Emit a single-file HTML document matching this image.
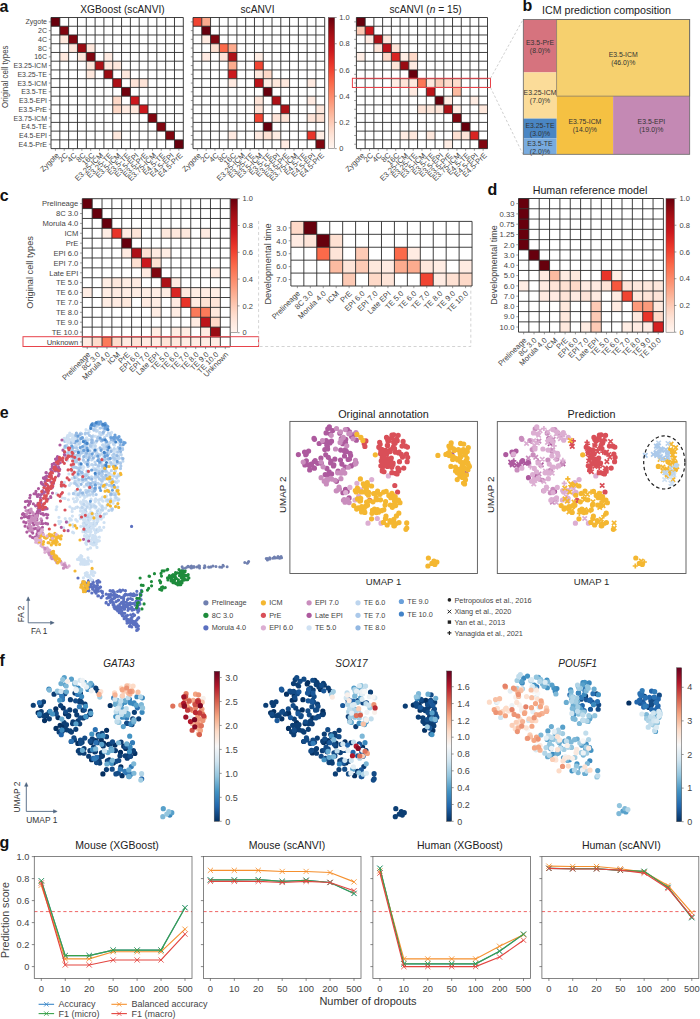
<!DOCTYPE html>
<html><head><meta charset="utf-8"><style>
html,body{margin:0;padding:0;background:#fff;}
svg{display:block;}
text{font-family:"Liberation Sans", sans-serif;}
</style></head><body>
<svg width="700" height="1019" viewBox="0 0 700 1019">
<text x="-0.5" y="11.6" font-size="16" text-anchor="start" fill="#111" font-weight="bold">a</text>
<text x="122.5" y="13.4" font-size="10.2" text-anchor="middle" fill="#222">XGBoost (scANVI)</text>
<text x="257.5" y="13.2" font-size="10.2" text-anchor="middle" fill="#222">scANVI</text>
<text x="425.6" y="13.2" font-size="10.2" text-anchor="middle" fill="#222">scANVI (<tspan font-style="italic">n</tspan> = 15)</text>
<rect x="51" y="17.5" width="132.3" height="131.1" fill="#fff"/>
<rect x="51" y="17.5" width="8.87" height="8.79" fill="#67000d"/>
<rect x="59.82" y="26.24" width="8.87" height="8.79" fill="#800610"/>
<rect x="59.82" y="34.98" width="8.87" height="8.79" fill="#fee8dd"/>
<rect x="68.64" y="34.98" width="8.87" height="8.79" fill="#800610"/>
<rect x="68.64" y="43.72" width="8.87" height="8.79" fill="#fee8dd"/>
<rect x="77.46" y="43.72" width="8.87" height="8.79" fill="#990c13"/>
<rect x="86.28" y="43.72" width="8.87" height="8.79" fill="#fee8dd"/>
<rect x="59.82" y="52.46" width="8.87" height="8.79" fill="#fee8dd"/>
<rect x="77.46" y="52.46" width="8.87" height="8.79" fill="#fee8dd"/>
<rect x="86.28" y="52.46" width="8.87" height="8.79" fill="#800610"/>
<rect x="103.92" y="52.46" width="8.87" height="8.79" fill="#ffebe2"/>
<rect x="86.28" y="61.2" width="8.87" height="8.79" fill="#fee8dd"/>
<rect x="95.1" y="61.2" width="8.87" height="8.79" fill="#ad1117"/>
<rect x="103.92" y="61.2" width="8.87" height="8.79" fill="#fee8dd"/>
<rect x="112.74" y="61.2" width="8.87" height="8.79" fill="#fee8dd"/>
<rect x="86.28" y="69.94" width="8.87" height="8.79" fill="#fee8dd"/>
<rect x="103.92" y="69.94" width="8.87" height="8.79" fill="#990c13"/>
<rect x="121.56" y="69.94" width="8.87" height="8.79" fill="#fee8dd"/>
<rect x="112.74" y="78.68" width="8.87" height="8.79" fill="#ad1117"/>
<rect x="130.38" y="78.68" width="8.87" height="8.79" fill="#fee4d8"/>
<rect x="139.2" y="78.68" width="8.87" height="8.79" fill="#fee4d8"/>
<rect x="121.56" y="87.42" width="8.87" height="8.79" fill="#71020e"/>
<rect x="112.74" y="96.16" width="8.87" height="8.79" fill="#fed9c8"/>
<rect x="130.38" y="96.16" width="8.87" height="8.79" fill="#cb181d"/>
<rect x="112.74" y="104.9" width="8.87" height="8.79" fill="#fed9c8"/>
<rect x="121.56" y="104.9" width="8.87" height="8.79" fill="#ffebe2"/>
<rect x="130.38" y="104.9" width="8.87" height="8.79" fill="#fee8dd"/>
<rect x="139.2" y="104.9" width="8.87" height="8.79" fill="#cb181d"/>
<rect x="148.02" y="113.64" width="8.87" height="8.79" fill="#800610"/>
<rect x="156.84" y="122.38" width="8.87" height="8.79" fill="#800610"/>
<rect x="112.74" y="131.12" width="8.87" height="8.79" fill="#fee8dd"/>
<rect x="165.66" y="131.12" width="8.87" height="8.79" fill="#800610"/>
<rect x="174.48" y="139.86" width="8.87" height="8.79" fill="#67000d"/>
<path d="M51 17.5V148.6M59.82 17.5V148.6M68.64 17.5V148.6M77.46 17.5V148.6M86.28 17.5V148.6M95.1 17.5V148.6M103.92 17.5V148.6M112.74 17.5V148.6M121.56 17.5V148.6M130.38 17.5V148.6M139.2 17.5V148.6M148.02 17.5V148.6M156.84 17.5V148.6M165.66 17.5V148.6M174.48 17.5V148.6M183.3 17.5V148.6M51 17.5H183.3M51 26.24H183.3M51 34.98H183.3M51 43.72H183.3M51 52.46H183.3M51 61.2H183.3M51 69.94H183.3M51 78.68H183.3M51 87.42H183.3M51 96.16H183.3M51 104.9H183.3M51 113.64H183.3M51 122.38H183.3M51 131.12H183.3M51 139.86H183.3M51 148.6H183.3" stroke="#2b2b2b" stroke-width="0.9" fill="none"/>
<path d="M51 21.87h-2.2M51 30.61h-2.2M51 39.35h-2.2M51 48.09h-2.2M51 56.83h-2.2M51 65.57h-2.2M51 74.31h-2.2M51 83.05h-2.2M51 91.79h-2.2M51 100.53h-2.2M51 109.27h-2.2M51 118.01h-2.2M51 126.75h-2.2M51 135.49h-2.2M51 144.23h-2.2M55.41 148.6v2.2M64.23 148.6v2.2M73.05 148.6v2.2M81.87 148.6v2.2M90.69 148.6v2.2M99.51 148.6v2.2M108.33 148.6v2.2M117.15 148.6v2.2M125.97 148.6v2.2M134.79 148.6v2.2M143.61 148.6v2.2M152.43 148.6v2.2M161.25 148.6v2.2M170.07 148.6v2.2M178.89 148.6v2.2" stroke="#555" stroke-width="0.6" fill="none"/>
<text x="47" y="24.39" font-size="7" text-anchor="end" fill="#444">Zygote</text>
<text x="47" y="33.13" font-size="7" text-anchor="end" fill="#444">2C</text>
<text x="47" y="41.87" font-size="7" text-anchor="end" fill="#444">4C</text>
<text x="47" y="50.61" font-size="7" text-anchor="end" fill="#444">8C</text>
<text x="47" y="59.35" font-size="7" text-anchor="end" fill="#444">16C</text>
<text x="47" y="68.09" font-size="7" text-anchor="end" fill="#444">E3.25-ICM</text>
<text x="47" y="76.83" font-size="7" text-anchor="end" fill="#444">E3.25-TE</text>
<text x="47" y="85.57" font-size="7" text-anchor="end" fill="#444">E3.5-ICM</text>
<text x="47" y="94.31" font-size="7" text-anchor="end" fill="#444">E3.5-TE</text>
<text x="47" y="103.05" font-size="7" text-anchor="end" fill="#444">E3.5-EPI</text>
<text x="47" y="111.79" font-size="7" text-anchor="end" fill="#444">E3.5-PrE</text>
<text x="47" y="120.53" font-size="7" text-anchor="end" fill="#444">E3.75-ICM</text>
<text x="47" y="129.27" font-size="7" text-anchor="end" fill="#444">E4.5-TE</text>
<text x="47" y="138.01" font-size="7" text-anchor="end" fill="#444">E4.5-EPI</text>
<text x="47" y="146.75" font-size="7" text-anchor="end" fill="#444">E4.5-PrE</text>
<text x="59.61" y="155.9" font-size="7.6" text-anchor="end" fill="#444" transform="rotate(-45 59.61 155.9)">Zygote</text>
<text x="68.43" y="155.9" font-size="7.6" text-anchor="end" fill="#444" transform="rotate(-45 68.43 155.9)">2C</text>
<text x="77.25" y="155.9" font-size="7.6" text-anchor="end" fill="#444" transform="rotate(-45 77.25 155.9)">4C</text>
<text x="86.07" y="155.9" font-size="7.6" text-anchor="end" fill="#444" transform="rotate(-45 86.07 155.9)">8C</text>
<text x="94.89" y="155.9" font-size="7.6" text-anchor="end" fill="#444" transform="rotate(-45 94.89 155.9)">16C</text>
<text x="103.71" y="155.9" font-size="7.6" text-anchor="end" fill="#444" transform="rotate(-45 103.71 155.9)">E3.25-ICM</text>
<text x="112.53" y="155.9" font-size="7.6" text-anchor="end" fill="#444" transform="rotate(-45 112.53 155.9)">E3.25-TE</text>
<text x="121.35" y="155.9" font-size="7.6" text-anchor="end" fill="#444" transform="rotate(-45 121.35 155.9)">E3.5-ICM</text>
<text x="130.17" y="155.9" font-size="7.6" text-anchor="end" fill="#444" transform="rotate(-45 130.17 155.9)">E3.5-TE</text>
<text x="138.99" y="155.9" font-size="7.6" text-anchor="end" fill="#444" transform="rotate(-45 138.99 155.9)">E3.5-EPI</text>
<text x="147.81" y="155.9" font-size="7.6" text-anchor="end" fill="#444" transform="rotate(-45 147.81 155.9)">E3.5-PrE</text>
<text x="156.63" y="155.9" font-size="7.6" text-anchor="end" fill="#444" transform="rotate(-45 156.63 155.9)">E3.75-ICM</text>
<text x="165.45" y="155.9" font-size="7.6" text-anchor="end" fill="#444" transform="rotate(-45 165.45 155.9)">E4.5-TE</text>
<text x="174.27" y="155.9" font-size="7.6" text-anchor="end" fill="#444" transform="rotate(-45 174.27 155.9)">E4.5-EPI</text>
<text x="183.09" y="155.9" font-size="7.6" text-anchor="end" fill="#444" transform="rotate(-45 183.09 155.9)">E4.5-PrE</text>
<rect x="193" y="17.5" width="131.7" height="131.1" fill="#fff"/>
<rect x="193" y="17.5" width="8.83" height="8.79" fill="#f14432"/>
<rect x="201.78" y="17.5" width="8.83" height="8.79" fill="#fcab8e"/>
<rect x="201.78" y="26.24" width="8.83" height="8.79" fill="#67000d"/>
<rect x="201.78" y="34.98" width="8.83" height="8.79" fill="#ffebe2"/>
<rect x="210.56" y="34.98" width="8.83" height="8.79" fill="#800610"/>
<rect x="210.56" y="43.72" width="8.83" height="8.79" fill="#fee1d3"/>
<rect x="219.34" y="43.72" width="8.83" height="8.79" fill="#fb6a4a"/>
<rect x="228.12" y="43.72" width="8.83" height="8.79" fill="#fcab8e"/>
<rect x="201.78" y="52.46" width="8.83" height="8.79" fill="#ffebe2"/>
<rect x="219.34" y="52.46" width="8.83" height="8.79" fill="#fee4d8"/>
<rect x="228.12" y="52.46" width="8.83" height="8.79" fill="#ad1117"/>
<rect x="254.46" y="52.46" width="8.83" height="8.79" fill="#ffede4"/>
<rect x="228.12" y="61.2" width="8.83" height="8.79" fill="#fcab8e"/>
<rect x="254.46" y="61.2" width="8.83" height="8.79" fill="#f14432"/>
<rect x="228.12" y="69.94" width="8.83" height="8.79" fill="#cb181d"/>
<rect x="254.46" y="69.94" width="8.83" height="8.79" fill="#fee8dd"/>
<rect x="263.24" y="69.94" width="8.83" height="8.79" fill="#fed9c8"/>
<rect x="228.12" y="78.68" width="8.83" height="8.79" fill="#ffebe2"/>
<rect x="254.46" y="78.68" width="8.83" height="8.79" fill="#bc141a"/>
<rect x="263.24" y="78.68" width="8.83" height="8.79" fill="#ffede4"/>
<rect x="272.02" y="78.68" width="8.83" height="8.79" fill="#fee8dd"/>
<rect x="280.8" y="78.68" width="8.83" height="8.79" fill="#fee8dd"/>
<rect x="307.14" y="78.68" width="8.83" height="8.79" fill="#ffebe2"/>
<rect x="263.24" y="87.42" width="8.83" height="8.79" fill="#67000d"/>
<rect x="254.46" y="96.16" width="8.83" height="8.79" fill="#fee4d8"/>
<rect x="272.02" y="96.16" width="8.83" height="8.79" fill="#ad1117"/>
<rect x="307.14" y="96.16" width="8.83" height="8.79" fill="#ffebe2"/>
<rect x="254.46" y="104.9" width="8.83" height="8.79" fill="#fee4d8"/>
<rect x="280.8" y="104.9" width="8.83" height="8.79" fill="#ad1117"/>
<rect x="315.92" y="104.9" width="8.83" height="8.79" fill="#fee8dd"/>
<rect x="254.46" y="113.64" width="8.83" height="8.79" fill="#f14432"/>
<rect x="272.02" y="113.64" width="8.83" height="8.79" fill="#fee4d8"/>
<rect x="280.8" y="113.64" width="8.83" height="8.79" fill="#fee4d8"/>
<rect x="307.14" y="113.64" width="8.83" height="8.79" fill="#fee4d8"/>
<rect x="315.92" y="113.64" width="8.83" height="8.79" fill="#fee1d3"/>
<rect x="263.24" y="122.38" width="8.83" height="8.79" fill="#67000d"/>
<rect x="228.12" y="131.12" width="8.83" height="8.79" fill="#ffebe2"/>
<rect x="254.46" y="131.12" width="8.83" height="8.79" fill="#ffebe2"/>
<rect x="263.24" y="131.12" width="8.83" height="8.79" fill="#fee1d3"/>
<rect x="272.02" y="131.12" width="8.83" height="8.79" fill="#ffede4"/>
<rect x="307.14" y="131.12" width="8.83" height="8.79" fill="#e83429"/>
<rect x="315.92" y="131.12" width="8.83" height="8.79" fill="#ffede4"/>
<rect x="280.8" y="139.86" width="8.83" height="8.79" fill="#ffebe2"/>
<rect x="315.92" y="139.86" width="8.83" height="8.79" fill="#800610"/>
<path d="M193 17.5V148.6M201.78 17.5V148.6M210.56 17.5V148.6M219.34 17.5V148.6M228.12 17.5V148.6M236.9 17.5V148.6M245.68 17.5V148.6M254.46 17.5V148.6M263.24 17.5V148.6M272.02 17.5V148.6M280.8 17.5V148.6M289.58 17.5V148.6M298.36 17.5V148.6M307.14 17.5V148.6M315.92 17.5V148.6M324.7 17.5V148.6M193 17.5H324.7M193 26.24H324.7M193 34.98H324.7M193 43.72H324.7M193 52.46H324.7M193 61.2H324.7M193 69.94H324.7M193 78.68H324.7M193 87.42H324.7M193 96.16H324.7M193 104.9H324.7M193 113.64H324.7M193 122.38H324.7M193 131.12H324.7M193 139.86H324.7M193 148.6H324.7" stroke="#2b2b2b" stroke-width="0.9" fill="none"/>
<path d="M193 21.87h-2.2M193 30.61h-2.2M193 39.35h-2.2M193 48.09h-2.2M193 56.83h-2.2M193 65.57h-2.2M193 74.31h-2.2M193 83.05h-2.2M193 91.79h-2.2M193 100.53h-2.2M193 109.27h-2.2M193 118.01h-2.2M193 126.75h-2.2M193 135.49h-2.2M193 144.23h-2.2M197.39 148.6v2.2M206.17 148.6v2.2M214.95 148.6v2.2M223.73 148.6v2.2M232.51 148.6v2.2M241.29 148.6v2.2M250.07 148.6v2.2M258.85 148.6v2.2M267.63 148.6v2.2M276.41 148.6v2.2M285.19 148.6v2.2M293.97 148.6v2.2M302.75 148.6v2.2M311.53 148.6v2.2M320.31 148.6v2.2" stroke="#555" stroke-width="0.6" fill="none"/>
<text x="201.59" y="155.9" font-size="7.6" text-anchor="end" fill="#444" transform="rotate(-45 201.59 155.9)">Zygote</text>
<text x="210.37" y="155.9" font-size="7.6" text-anchor="end" fill="#444" transform="rotate(-45 210.37 155.9)">2C</text>
<text x="219.15" y="155.9" font-size="7.6" text-anchor="end" fill="#444" transform="rotate(-45 219.15 155.9)">4C</text>
<text x="227.93" y="155.9" font-size="7.6" text-anchor="end" fill="#444" transform="rotate(-45 227.93 155.9)">8C</text>
<text x="236.71" y="155.9" font-size="7.6" text-anchor="end" fill="#444" transform="rotate(-45 236.71 155.9)">16C</text>
<text x="245.49" y="155.9" font-size="7.6" text-anchor="end" fill="#444" transform="rotate(-45 245.49 155.9)">E3.25-ICM</text>
<text x="254.27" y="155.9" font-size="7.6" text-anchor="end" fill="#444" transform="rotate(-45 254.27 155.9)">E3.25-TE</text>
<text x="263.05" y="155.9" font-size="7.6" text-anchor="end" fill="#444" transform="rotate(-45 263.05 155.9)">E3.5-ICM</text>
<text x="271.83" y="155.9" font-size="7.6" text-anchor="end" fill="#444" transform="rotate(-45 271.83 155.9)">E3.5-TE</text>
<text x="280.61" y="155.9" font-size="7.6" text-anchor="end" fill="#444" transform="rotate(-45 280.61 155.9)">E3.5-EPI</text>
<text x="289.39" y="155.9" font-size="7.6" text-anchor="end" fill="#444" transform="rotate(-45 289.39 155.9)">E3.5-PrE</text>
<text x="298.17" y="155.9" font-size="7.6" text-anchor="end" fill="#444" transform="rotate(-45 298.17 155.9)">E3.75-ICM</text>
<text x="306.95" y="155.9" font-size="7.6" text-anchor="end" fill="#444" transform="rotate(-45 306.95 155.9)">E4.5-TE</text>
<text x="315.73" y="155.9" font-size="7.6" text-anchor="end" fill="#444" transform="rotate(-45 315.73 155.9)">E4.5-EPI</text>
<text x="324.51" y="155.9" font-size="7.6" text-anchor="end" fill="#444" transform="rotate(-45 324.51 155.9)">E4.5-PrE</text>
<rect x="356.4" y="17.5" width="131.1" height="131.1" fill="#fff"/>
<rect x="356.4" y="17.5" width="8.79" height="8.79" fill="#67000d"/>
<rect x="356.4" y="26.24" width="8.79" height="8.79" fill="#fdcab5"/>
<rect x="365.14" y="26.24" width="8.79" height="8.79" fill="#cb181d"/>
<rect x="365.14" y="34.98" width="8.79" height="8.79" fill="#ffebe2"/>
<rect x="373.88" y="34.98" width="8.79" height="8.79" fill="#ad1117"/>
<rect x="382.62" y="34.98" width="8.79" height="8.79" fill="#fee8dd"/>
<rect x="373.88" y="43.72" width="8.79" height="8.79" fill="#fee4d8"/>
<rect x="382.62" y="43.72" width="8.79" height="8.79" fill="#bc141a"/>
<rect x="391.36" y="43.72" width="8.79" height="8.79" fill="#fee4d8"/>
<rect x="356.4" y="52.46" width="8.79" height="8.79" fill="#ffede4"/>
<rect x="382.62" y="52.46" width="8.79" height="8.79" fill="#fed9c8"/>
<rect x="391.36" y="52.46" width="8.79" height="8.79" fill="#d92623"/>
<rect x="400.1" y="52.46" width="8.79" height="8.79" fill="#ffede4"/>
<rect x="408.84" y="52.46" width="8.79" height="8.79" fill="#fed9c8"/>
<rect x="391.36" y="61.2" width="8.79" height="8.79" fill="#fee4d8"/>
<rect x="400.1" y="61.2" width="8.79" height="8.79" fill="#990c13"/>
<rect x="408.84" y="61.2" width="8.79" height="8.79" fill="#ffebe2"/>
<rect x="408.84" y="69.94" width="8.79" height="8.79" fill="#67000d"/>
<rect x="391.36" y="78.68" width="8.79" height="8.79" fill="#ffede4"/>
<rect x="400.1" y="78.68" width="8.79" height="8.79" fill="#fee4d8"/>
<rect x="408.84" y="78.68" width="8.79" height="8.79" fill="#fee8dd"/>
<rect x="417.58" y="78.68" width="8.79" height="8.79" fill="#fb7757"/>
<rect x="426.32" y="78.68" width="8.79" height="8.79" fill="#fee8dd"/>
<rect x="435.06" y="78.68" width="8.79" height="8.79" fill="#fdcdb9"/>
<rect x="443.8" y="78.68" width="8.79" height="8.79" fill="#fedccc"/>
<rect x="452.54" y="78.68" width="8.79" height="8.79" fill="#fedccc"/>
<rect x="408.84" y="87.42" width="8.79" height="8.79" fill="#ffebe2"/>
<rect x="426.32" y="87.42" width="8.79" height="8.79" fill="#bc141a"/>
<rect x="452.54" y="87.42" width="8.79" height="8.79" fill="#fcbba1"/>
<rect x="435.06" y="96.16" width="8.79" height="8.79" fill="#67000d"/>
<rect x="443.8" y="96.16" width="8.79" height="8.79" fill="#ffede4"/>
<rect x="470.02" y="96.16" width="8.79" height="8.79" fill="#ffede4"/>
<rect x="417.58" y="104.9" width="8.79" height="8.79" fill="#fee4d8"/>
<rect x="426.32" y="104.9" width="8.79" height="8.79" fill="#fee8dd"/>
<rect x="435.06" y="104.9" width="8.79" height="8.79" fill="#fee4d8"/>
<rect x="443.8" y="104.9" width="8.79" height="8.79" fill="#ad1117"/>
<rect x="452.54" y="104.9" width="8.79" height="8.79" fill="#ffede4"/>
<rect x="478.76" y="104.9" width="8.79" height="8.79" fill="#fee8dd"/>
<rect x="452.54" y="113.64" width="8.79" height="8.79" fill="#800610"/>
<rect x="461.28" y="122.38" width="8.79" height="8.79" fill="#67000d"/>
<rect x="400.1" y="131.12" width="8.79" height="8.79" fill="#ffebe2"/>
<rect x="408.84" y="131.12" width="8.79" height="8.79" fill="#fee8dd"/>
<rect x="426.32" y="131.12" width="8.79" height="8.79" fill="#fee8dd"/>
<rect x="452.54" y="131.12" width="8.79" height="8.79" fill="#fee1d3"/>
<rect x="461.28" y="131.12" width="8.79" height="8.79" fill="#fee4d8"/>
<rect x="470.02" y="131.12" width="8.79" height="8.79" fill="#d92623"/>
<rect x="443.8" y="139.86" width="8.79" height="8.79" fill="#ffede4"/>
<rect x="478.76" y="139.86" width="8.79" height="8.79" fill="#800610"/>
<path d="M356.4 17.5V148.6M365.14 17.5V148.6M373.88 17.5V148.6M382.62 17.5V148.6M391.36 17.5V148.6M400.1 17.5V148.6M408.84 17.5V148.6M417.58 17.5V148.6M426.32 17.5V148.6M435.06 17.5V148.6M443.8 17.5V148.6M452.54 17.5V148.6M461.28 17.5V148.6M470.02 17.5V148.6M478.76 17.5V148.6M487.5 17.5V148.6M356.4 17.5H487.5M356.4 26.24H487.5M356.4 34.98H487.5M356.4 43.72H487.5M356.4 52.46H487.5M356.4 61.2H487.5M356.4 69.94H487.5M356.4 78.68H487.5M356.4 87.42H487.5M356.4 96.16H487.5M356.4 104.9H487.5M356.4 113.64H487.5M356.4 122.38H487.5M356.4 131.12H487.5M356.4 139.86H487.5M356.4 148.6H487.5" stroke="#2b2b2b" stroke-width="0.9" fill="none"/>
<path d="M356.4 21.87h-2.2M356.4 30.61h-2.2M356.4 39.35h-2.2M356.4 48.09h-2.2M356.4 56.83h-2.2M356.4 65.57h-2.2M356.4 74.31h-2.2M356.4 83.05h-2.2M356.4 91.79h-2.2M356.4 100.53h-2.2M356.4 109.27h-2.2M356.4 118.01h-2.2M356.4 126.75h-2.2M356.4 135.49h-2.2M356.4 144.23h-2.2M360.77 148.6v2.2M369.51 148.6v2.2M378.25 148.6v2.2M386.99 148.6v2.2M395.73 148.6v2.2M404.47 148.6v2.2M413.21 148.6v2.2M421.95 148.6v2.2M430.69 148.6v2.2M439.43 148.6v2.2M448.17 148.6v2.2M456.91 148.6v2.2M465.65 148.6v2.2M474.39 148.6v2.2M483.13 148.6v2.2" stroke="#555" stroke-width="0.6" fill="none"/>
<text x="364.97" y="155.9" font-size="7.6" text-anchor="end" fill="#444" transform="rotate(-45 364.97 155.9)">Zygote</text>
<text x="373.71" y="155.9" font-size="7.6" text-anchor="end" fill="#444" transform="rotate(-45 373.71 155.9)">2C</text>
<text x="382.45" y="155.9" font-size="7.6" text-anchor="end" fill="#444" transform="rotate(-45 382.45 155.9)">4C</text>
<text x="391.19" y="155.9" font-size="7.6" text-anchor="end" fill="#444" transform="rotate(-45 391.19 155.9)">8C</text>
<text x="399.93" y="155.9" font-size="7.6" text-anchor="end" fill="#444" transform="rotate(-45 399.93 155.9)">16C</text>
<text x="408.67" y="155.9" font-size="7.6" text-anchor="end" fill="#444" transform="rotate(-45 408.67 155.9)">E3.25-ICM</text>
<text x="417.41" y="155.9" font-size="7.6" text-anchor="end" fill="#444" transform="rotate(-45 417.41 155.9)">E3.25-TE</text>
<text x="426.15" y="155.9" font-size="7.6" text-anchor="end" fill="#444" transform="rotate(-45 426.15 155.9)">E3.5-ICM</text>
<text x="434.89" y="155.9" font-size="7.6" text-anchor="end" fill="#444" transform="rotate(-45 434.89 155.9)">E3.5-TE</text>
<text x="443.63" y="155.9" font-size="7.6" text-anchor="end" fill="#444" transform="rotate(-45 443.63 155.9)">E3.5-EPI</text>
<text x="452.37" y="155.9" font-size="7.6" text-anchor="end" fill="#444" transform="rotate(-45 452.37 155.9)">E3.5-PrE</text>
<text x="461.11" y="155.9" font-size="7.6" text-anchor="end" fill="#444" transform="rotate(-45 461.11 155.9)">E3.75-ICM</text>
<text x="469.85" y="155.9" font-size="7.6" text-anchor="end" fill="#444" transform="rotate(-45 469.85 155.9)">E4.5-TE</text>
<text x="478.59" y="155.9" font-size="7.6" text-anchor="end" fill="#444" transform="rotate(-45 478.59 155.9)">E4.5-EPI</text>
<text x="487.33" y="155.9" font-size="7.6" text-anchor="end" fill="#444" transform="rotate(-45 487.33 155.9)">E4.5-PrE</text>
<defs><linearGradient id="g198" x1="0" y1="0" x2="0" y2="1"><stop offset="0" stop-color="#67000d"/><stop offset="0.05" stop-color="#800610"/><stop offset="0.1" stop-color="#990c13"/><stop offset="0.15" stop-color="#ad1117"/><stop offset="0.2" stop-color="#bc141a"/><stop offset="0.25" stop-color="#cb181d"/><stop offset="0.3" stop-color="#d92623"/><stop offset="0.35" stop-color="#e83429"/><stop offset="0.4" stop-color="#f14432"/><stop offset="0.45" stop-color="#f6573e"/><stop offset="0.5" stop-color="#fb6a4a"/><stop offset="0.55" stop-color="#fb7a5a"/><stop offset="0.6" stop-color="#fc8a6a"/><stop offset="0.65" stop-color="#fc9a7b"/><stop offset="0.7" stop-color="#fcab8e"/><stop offset="0.75" stop-color="#fcbba1"/><stop offset="0.8" stop-color="#fdcab5"/><stop offset="0.85" stop-color="#fed9c8"/><stop offset="0.9" stop-color="#fee4d8"/><stop offset="0.95" stop-color="#ffede4"/><stop offset="1" stop-color="#fff5f0"/></linearGradient></defs>
<rect x="328.3" y="17.5" width="6.4" height="131.1" fill="url(#g198)" stroke="#555" stroke-width="0.5"/>
<text x="339.2" y="151.3" font-size="7.5" text-anchor="start" fill="#444">0</text>
<text x="339.2" y="125.08" font-size="7.5" text-anchor="start" fill="#444">0.2</text>
<text x="339.2" y="98.86" font-size="7.5" text-anchor="start" fill="#444">0.4</text>
<text x="339.2" y="72.64" font-size="7.5" text-anchor="start" fill="#444">0.6</text>
<text x="339.2" y="46.42" font-size="7.5" text-anchor="start" fill="#444">0.8</text>
<text x="339.2" y="20.2" font-size="7.5" text-anchor="start" fill="#444">1.0</text>
<path d="M334.7 148.6h2M334.7 122.38h2M334.7 96.16h2M334.7 69.94h2M334.7 43.72h2M334.7 17.5h2" stroke="#555" stroke-width="0.6"/>
<text x="8.1" y="76.7" font-size="9.4" text-anchor="middle" fill="#444" transform="rotate(-90 8.1 76.7)" textLength="62.4" lengthAdjust="spacingAndGlyphs">Original cell types</text>
<rect x="352.4" y="78.3" width="138.1" height="9.2" fill="none" stroke="#e8434b" stroke-width="1"/>
<path d="M490.5 78.3L523 19.5M490.5 87.5L523 154.3" stroke="#bbb" stroke-width="0.7" stroke-dasharray="2.5 2" fill="none"/>
<text x="522.5" y="11.1" font-size="16" text-anchor="start" fill="#111" font-weight="bold">b</text>
<text x="542" y="14.2" font-size="10.7" text-anchor="start" fill="#222">ICM prediction composition</text>
<rect x="523.3" y="19.5" width="33.4" height="52.9" fill="#d6737e"/>
<text x="540" y="45.15" font-size="6.9" text-anchor="middle" fill="#333">E3.5-PrE</text>
<text x="540" y="53.15" font-size="6.9" text-anchor="middle" fill="#333">(8.0)%</text>
<rect x="523.3" y="72.4" width="33.4" height="46.2" fill="#fbdc99"/>
<text x="540" y="94.7" font-size="6.9" text-anchor="middle" fill="#333">E3.25-ICM</text>
<text x="540" y="102.7" font-size="6.9" text-anchor="middle" fill="#333">(7.0)%</text>
<rect x="523.3" y="118.6" width="33.4" height="19.7" fill="#4a86c4"/>
<text x="540" y="127.65" font-size="6.9" text-anchor="middle" fill="#333">E3.25-TE</text>
<text x="540" y="135.65" font-size="6.9" text-anchor="middle" fill="#333">(3.0)%</text>
<rect x="523.3" y="138.3" width="33.4" height="16" fill="#78abdf"/>
<text x="540" y="145.5" font-size="6.9" text-anchor="middle" fill="#333">E3.5-TE</text>
<text x="540" y="153.5" font-size="6.9" text-anchor="middle" fill="#333">(2.0)%</text>
<rect x="556.7" y="19.5" width="133" height="76.6" fill="#f6d06e"/>
<text x="623.2" y="57" font-size="6.9" text-anchor="middle" fill="#333">E3.5-ICM</text>
<text x="623.2" y="65" font-size="6.9" text-anchor="middle" fill="#333">(46.0)%</text>
<rect x="556.7" y="96.1" width="56.4" height="58.2" fill="#f5c142"/>
<text x="584.9" y="124.4" font-size="6.9" text-anchor="middle" fill="#333">E3.75-ICM</text>
<text x="584.9" y="132.4" font-size="6.9" text-anchor="middle" fill="#333">(14.0)%</text>
<rect x="613.1" y="96.1" width="76.6" height="58.2" fill="#c489b4"/>
<text x="651.4" y="124.4" font-size="6.9" text-anchor="middle" fill="#333">E3.5-EPI</text>
<text x="651.4" y="132.4" font-size="6.9" text-anchor="middle" fill="#333">(19.0)%</text>
<rect x="556.7" y="19.5" width="133" height="76.6" fill="none" stroke="#7a7060" stroke-width="0.7"/>
<rect x="523.3" y="19.5" width="166.4" height="134.8" fill="none" stroke="#666" stroke-width="0.8"/>
<text x="-0.3" y="200.6" font-size="16" text-anchor="start" fill="#111" font-weight="bold">c</text>
<rect x="82.3" y="198.7" width="147.9" height="148.2" fill="#fff"/>
<rect x="82.3" y="198.7" width="9.91" height="9.93" fill="#67000d"/>
<rect x="92.16" y="208.58" width="9.91" height="9.93" fill="#67000d"/>
<rect x="102.02" y="218.46" width="9.91" height="9.93" fill="#67000d"/>
<rect x="102.02" y="228.34" width="9.91" height="9.93" fill="#ffede4"/>
<rect x="111.88" y="228.34" width="9.91" height="9.93" fill="#e83429"/>
<rect x="121.74" y="228.34" width="9.91" height="9.93" fill="#ffebe2"/>
<rect x="131.6" y="228.34" width="9.91" height="9.93" fill="#fee4d8"/>
<rect x="161.18" y="228.34" width="9.91" height="9.93" fill="#fee8dd"/>
<rect x="171.04" y="228.34" width="9.91" height="9.93" fill="#fee8dd"/>
<rect x="180.9" y="228.34" width="9.91" height="9.93" fill="#fee8dd"/>
<rect x="200.62" y="228.34" width="9.91" height="9.93" fill="#ffebe2"/>
<rect x="121.74" y="238.22" width="9.91" height="9.93" fill="#67000d"/>
<rect x="121.74" y="248.1" width="9.91" height="9.93" fill="#ffebe2"/>
<rect x="131.6" y="248.1" width="9.91" height="9.93" fill="#ad1117"/>
<rect x="141.46" y="248.1" width="9.91" height="9.93" fill="#fee1d3"/>
<rect x="151.32" y="248.1" width="9.91" height="9.93" fill="#ffebe2"/>
<rect x="161.18" y="248.1" width="9.91" height="9.93" fill="#ffede4"/>
<rect x="131.6" y="257.98" width="9.91" height="9.93" fill="#fee1d3"/>
<rect x="141.46" y="257.98" width="9.91" height="9.93" fill="#cb181d"/>
<rect x="151.32" y="257.98" width="9.91" height="9.93" fill="#fee1d3"/>
<rect x="141.46" y="267.86" width="9.91" height="9.93" fill="#ffebe2"/>
<rect x="151.32" y="267.86" width="9.91" height="9.93" fill="#800610"/>
<rect x="210.48" y="267.86" width="9.91" height="9.93" fill="#ffebe2"/>
<rect x="102.02" y="277.74" width="9.91" height="9.93" fill="#ffede4"/>
<rect x="111.88" y="277.74" width="9.91" height="9.93" fill="#fee8dd"/>
<rect x="121.74" y="277.74" width="9.91" height="9.93" fill="#ffede4"/>
<rect x="131.6" y="277.74" width="9.91" height="9.93" fill="#ffebe2"/>
<rect x="161.18" y="277.74" width="9.91" height="9.93" fill="#ad1117"/>
<rect x="171.04" y="277.74" width="9.91" height="9.93" fill="#ffebe2"/>
<rect x="82.3" y="287.62" width="9.91" height="9.93" fill="#ffede4"/>
<rect x="102.02" y="287.62" width="9.91" height="9.93" fill="#ffede4"/>
<rect x="111.88" y="287.62" width="9.91" height="9.93" fill="#ffebe2"/>
<rect x="121.74" y="287.62" width="9.91" height="9.93" fill="#ffede4"/>
<rect x="131.6" y="287.62" width="9.91" height="9.93" fill="#ffede4"/>
<rect x="141.46" y="287.62" width="9.91" height="9.93" fill="#ffede4"/>
<rect x="151.32" y="287.62" width="9.91" height="9.93" fill="#ffede4"/>
<rect x="161.18" y="287.62" width="9.91" height="9.93" fill="#ffede4"/>
<rect x="171.04" y="287.62" width="9.91" height="9.93" fill="#d92623"/>
<rect x="180.9" y="287.62" width="9.91" height="9.93" fill="#fee8dd"/>
<rect x="190.76" y="287.62" width="9.91" height="9.93" fill="#ffede4"/>
<rect x="200.62" y="287.62" width="9.91" height="9.93" fill="#ffebe2"/>
<rect x="210.48" y="287.62" width="9.91" height="9.93" fill="#ffede4"/>
<rect x="102.02" y="297.5" width="9.91" height="9.93" fill="#ffede4"/>
<rect x="111.88" y="297.5" width="9.91" height="9.93" fill="#ffebe2"/>
<rect x="121.74" y="297.5" width="9.91" height="9.93" fill="#fee8dd"/>
<rect x="141.46" y="297.5" width="9.91" height="9.93" fill="#ffebe2"/>
<rect x="151.32" y="297.5" width="9.91" height="9.93" fill="#ffede4"/>
<rect x="171.04" y="297.5" width="9.91" height="9.93" fill="#ffebe2"/>
<rect x="180.9" y="297.5" width="9.91" height="9.93" fill="#e83429"/>
<rect x="190.76" y="297.5" width="9.91" height="9.93" fill="#ffebe2"/>
<rect x="200.62" y="297.5" width="9.91" height="9.93" fill="#fee1d3"/>
<rect x="210.48" y="297.5" width="9.91" height="9.93" fill="#fee4d8"/>
<rect x="151.32" y="307.38" width="9.91" height="9.93" fill="#ffede4"/>
<rect x="171.04" y="307.38" width="9.91" height="9.93" fill="#ffede4"/>
<rect x="190.76" y="307.38" width="9.91" height="9.93" fill="#fb7a5a"/>
<rect x="200.62" y="307.38" width="9.91" height="9.93" fill="#fb7a5a"/>
<rect x="210.48" y="307.38" width="9.91" height="9.93" fill="#fee8dd"/>
<rect x="190.76" y="317.26" width="9.91" height="9.93" fill="#ffebe2"/>
<rect x="200.62" y="317.26" width="9.91" height="9.93" fill="#bc141a"/>
<rect x="210.48" y="317.26" width="9.91" height="9.93" fill="#fed9c8"/>
<rect x="151.32" y="327.14" width="9.91" height="9.93" fill="#ffede4"/>
<rect x="171.04" y="327.14" width="9.91" height="9.93" fill="#ffede4"/>
<rect x="180.9" y="327.14" width="9.91" height="9.93" fill="#ffede4"/>
<rect x="200.62" y="327.14" width="9.91" height="9.93" fill="#ffebe2"/>
<rect x="210.48" y="327.14" width="9.91" height="9.93" fill="#990c13"/>
<rect x="82.3" y="337.02" width="9.91" height="9.93" fill="#ffebe2"/>
<rect x="92.16" y="337.02" width="9.91" height="9.93" fill="#fedccc"/>
<rect x="102.02" y="337.02" width="9.91" height="9.93" fill="#fb7a5a"/>
<rect x="111.88" y="337.02" width="9.91" height="9.93" fill="#fedccc"/>
<rect x="121.74" y="337.02" width="9.91" height="9.93" fill="#ffebe2"/>
<rect x="131.6" y="337.02" width="9.91" height="9.93" fill="#fee4d8"/>
<rect x="141.46" y="337.02" width="9.91" height="9.93" fill="#ffebe2"/>
<rect x="151.32" y="337.02" width="9.91" height="9.93" fill="#ffebe2"/>
<rect x="161.18" y="337.02" width="9.91" height="9.93" fill="#fee4d8"/>
<rect x="171.04" y="337.02" width="9.91" height="9.93" fill="#fee8dd"/>
<rect x="180.9" y="337.02" width="9.91" height="9.93" fill="#ffede4"/>
<rect x="190.76" y="337.02" width="9.91" height="9.93" fill="#ffede4"/>
<rect x="200.62" y="337.02" width="9.91" height="9.93" fill="#ffede4"/>
<rect x="210.48" y="337.02" width="9.91" height="9.93" fill="#ffede4"/>
<path d="M82.3 198.7V346.9M92.16 198.7V346.9M102.02 198.7V346.9M111.88 198.7V346.9M121.74 198.7V346.9M131.6 198.7V346.9M141.46 198.7V346.9M151.32 198.7V346.9M161.18 198.7V346.9M171.04 198.7V346.9M180.9 198.7V346.9M190.76 198.7V346.9M200.62 198.7V346.9M210.48 198.7V346.9M220.34 198.7V346.9M230.2 198.7V346.9M82.3 198.7H230.2M82.3 208.58H230.2M82.3 218.46H230.2M82.3 228.34H230.2M82.3 238.22H230.2M82.3 248.1H230.2M82.3 257.98H230.2M82.3 267.86H230.2M82.3 277.74H230.2M82.3 287.62H230.2M82.3 297.5H230.2M82.3 307.38H230.2M82.3 317.26H230.2M82.3 327.14H230.2M82.3 337.02H230.2M82.3 346.9H230.2" stroke="#2b2b2b" stroke-width="0.9" fill="none"/>
<path d="M82.3 203.64h-2.2M82.3 213.52h-2.2M82.3 223.4h-2.2M82.3 233.28h-2.2M82.3 243.16h-2.2M82.3 253.04h-2.2M82.3 262.92h-2.2M82.3 272.8h-2.2M82.3 282.68h-2.2M82.3 292.56h-2.2M82.3 302.44h-2.2M82.3 312.32h-2.2M82.3 322.2h-2.2M82.3 332.08h-2.2M82.3 341.96h-2.2M87.23 346.9v2.2M97.09 346.9v2.2M106.95 346.9v2.2M116.81 346.9v2.2M126.67 346.9v2.2M136.53 346.9v2.2M146.39 346.9v2.2M156.25 346.9v2.2M166.11 346.9v2.2M175.97 346.9v2.2M185.83 346.9v2.2M195.69 346.9v2.2M205.55 346.9v2.2M215.41 346.9v2.2M225.27 346.9v2.2" stroke="#555" stroke-width="0.6" fill="none"/>
<text x="78.3" y="206.38" font-size="7.6" text-anchor="end" fill="#444">Prelineage</text>
<text x="78.3" y="216.26" font-size="7.6" text-anchor="end" fill="#444">8C 3.0</text>
<text x="78.3" y="226.14" font-size="7.6" text-anchor="end" fill="#444">Morula 4.0</text>
<text x="78.3" y="236.02" font-size="7.6" text-anchor="end" fill="#444">ICM</text>
<text x="78.3" y="245.9" font-size="7.6" text-anchor="end" fill="#444">PrE</text>
<text x="78.3" y="255.78" font-size="7.6" text-anchor="end" fill="#444">EPI 6.0</text>
<text x="78.3" y="265.66" font-size="7.6" text-anchor="end" fill="#444">EPI 7.0</text>
<text x="78.3" y="275.54" font-size="7.6" text-anchor="end" fill="#444">Late EPI</text>
<text x="78.3" y="285.42" font-size="7.6" text-anchor="end" fill="#444">TE 5.0</text>
<text x="78.3" y="295.3" font-size="7.6" text-anchor="end" fill="#444">TE 6.0</text>
<text x="78.3" y="305.18" font-size="7.6" text-anchor="end" fill="#444">TE 7.0</text>
<text x="78.3" y="315.06" font-size="7.6" text-anchor="end" fill="#444">TE 8.0</text>
<text x="78.3" y="324.94" font-size="7.6" text-anchor="end" fill="#444">TE 9.0</text>
<text x="78.3" y="334.82" font-size="7.6" text-anchor="end" fill="#444">TE 10.0</text>
<text x="78.3" y="344.7" font-size="7.6" text-anchor="end" fill="#444">Unknown</text>
<text x="90.83" y="355.1" font-size="7.6" text-anchor="end" fill="#444" transform="rotate(-45 90.83 355.1)">Prelineage</text>
<text x="100.69" y="355.1" font-size="7.6" text-anchor="end" fill="#444" transform="rotate(-45 100.69 355.1)">8C 3.0</text>
<text x="110.55" y="355.1" font-size="7.6" text-anchor="end" fill="#444" transform="rotate(-45 110.55 355.1)">Morula 4.0</text>
<text x="120.41" y="355.1" font-size="7.6" text-anchor="end" fill="#444" transform="rotate(-45 120.41 355.1)">ICM</text>
<text x="130.27" y="355.1" font-size="7.6" text-anchor="end" fill="#444" transform="rotate(-45 130.27 355.1)">PrE</text>
<text x="140.13" y="355.1" font-size="7.6" text-anchor="end" fill="#444" transform="rotate(-45 140.13 355.1)">EPI 6.0</text>
<text x="149.99" y="355.1" font-size="7.6" text-anchor="end" fill="#444" transform="rotate(-45 149.99 355.1)">EPI 7.0</text>
<text x="159.85" y="355.1" font-size="7.6" text-anchor="end" fill="#444" transform="rotate(-45 159.85 355.1)">Late EPI</text>
<text x="169.71" y="355.1" font-size="7.6" text-anchor="end" fill="#444" transform="rotate(-45 169.71 355.1)">TE 5.0</text>
<text x="179.57" y="355.1" font-size="7.6" text-anchor="end" fill="#444" transform="rotate(-45 179.57 355.1)">TE 6.0</text>
<text x="189.43" y="355.1" font-size="7.6" text-anchor="end" fill="#444" transform="rotate(-45 189.43 355.1)">TE 7.0</text>
<text x="199.29" y="355.1" font-size="7.6" text-anchor="end" fill="#444" transform="rotate(-45 199.29 355.1)">TE 8.0</text>
<text x="209.15" y="355.1" font-size="7.6" text-anchor="end" fill="#444" transform="rotate(-45 209.15 355.1)">TE 9.0</text>
<text x="219.01" y="355.1" font-size="7.6" text-anchor="end" fill="#444" transform="rotate(-45 219.01 355.1)">TE 10.0</text>
<text x="228.87" y="355.1" font-size="7.6" text-anchor="end" fill="#444" transform="rotate(-45 228.87 355.1)">Unknown</text>
<defs><linearGradient id="g348" x1="0" y1="0" x2="0" y2="1"><stop offset="0" stop-color="#67000d"/><stop offset="0.05" stop-color="#800610"/><stop offset="0.1" stop-color="#990c13"/><stop offset="0.15" stop-color="#ad1117"/><stop offset="0.2" stop-color="#bc141a"/><stop offset="0.25" stop-color="#cb181d"/><stop offset="0.3" stop-color="#d92623"/><stop offset="0.35" stop-color="#e83429"/><stop offset="0.4" stop-color="#f14432"/><stop offset="0.45" stop-color="#f6573e"/><stop offset="0.5" stop-color="#fb6a4a"/><stop offset="0.55" stop-color="#fb7a5a"/><stop offset="0.6" stop-color="#fc8a6a"/><stop offset="0.65" stop-color="#fc9a7b"/><stop offset="0.7" stop-color="#fcab8e"/><stop offset="0.75" stop-color="#fcbba1"/><stop offset="0.8" stop-color="#fdcab5"/><stop offset="0.85" stop-color="#fed9c8"/><stop offset="0.9" stop-color="#fee4d8"/><stop offset="0.95" stop-color="#ffede4"/><stop offset="1" stop-color="#fff5f0"/></linearGradient></defs>
<rect x="230.4" y="198.7" width="7.2" height="134" fill="url(#g348)" stroke="#555" stroke-width="0.5"/>
<text x="242.6" y="335.4" font-size="7.5" text-anchor="start" fill="#444">0</text>
<text x="242.6" y="308.6" font-size="7.5" text-anchor="start" fill="#444">0.2</text>
<text x="242.6" y="281.8" font-size="7.5" text-anchor="start" fill="#444">0.4</text>
<text x="242.6" y="255" font-size="7.5" text-anchor="start" fill="#444">0.6</text>
<text x="242.6" y="228.2" font-size="7.5" text-anchor="start" fill="#444">0.8</text>
<text x="242.6" y="201.4" font-size="7.5" text-anchor="start" fill="#444">1.0</text>
<path d="M237.6 332.7h2M237.6 305.9h2M237.6 279.1h2M237.6 252.3h2M237.6 225.5h2M237.6 198.7h2" stroke="#555" stroke-width="0.6"/>
<text x="33.3" y="272.4" font-size="9.2" text-anchor="middle" fill="#444" transform="rotate(-90 33.3 272.4)">Original cell types</text>
<rect x="23" y="336.7" width="235.6" height="9.8" fill="none" stroke="#e8434b" stroke-width="1"/>
<path d="M258.6 221V346.5H470.8V286" stroke="#c8c8c8" stroke-width="0.8" stroke-dasharray="3 2.5" fill="none"/>
<rect x="290.9" y="221.4" width="181.16" height="64.6" fill="#fff"/>
<rect x="290.9" y="221.4" width="12.99" height="12.97" fill="#fed9c8"/>
<rect x="303.84" y="221.4" width="12.99" height="12.97" fill="#67000d"/>
<rect x="290.9" y="234.32" width="12.99" height="12.97" fill="#ffebe2"/>
<rect x="303.84" y="234.32" width="12.99" height="12.97" fill="#fee4d8"/>
<rect x="316.78" y="234.32" width="12.99" height="12.97" fill="#67000d"/>
<rect x="329.72" y="234.32" width="12.99" height="12.97" fill="#fee1d3"/>
<rect x="316.78" y="247.24" width="12.99" height="12.97" fill="#fb6a4a"/>
<rect x="329.72" y="247.24" width="12.99" height="12.97" fill="#fee4d8"/>
<rect x="355.6" y="247.24" width="12.99" height="12.97" fill="#fdcab5"/>
<rect x="394.42" y="247.24" width="12.99" height="12.97" fill="#fb6a4a"/>
<rect x="407.36" y="247.24" width="12.99" height="12.97" fill="#ffebe2"/>
<rect x="329.72" y="260.16" width="12.99" height="12.97" fill="#fcbba1"/>
<rect x="342.66" y="260.16" width="12.99" height="12.97" fill="#fee4d8"/>
<rect x="355.6" y="260.16" width="12.99" height="12.97" fill="#fdcab5"/>
<rect x="368.54" y="260.16" width="12.99" height="12.97" fill="#fee8dd"/>
<rect x="381.48" y="260.16" width="12.99" height="12.97" fill="#ffebe2"/>
<rect x="394.42" y="260.16" width="12.99" height="12.97" fill="#fcab8e"/>
<rect x="407.36" y="260.16" width="12.99" height="12.97" fill="#fcab8e"/>
<rect x="420.3" y="260.16" width="12.99" height="12.97" fill="#fee8dd"/>
<rect x="433.24" y="260.16" width="12.99" height="12.97" fill="#ffede4"/>
<rect x="459.12" y="260.16" width="12.99" height="12.97" fill="#ffebe2"/>
<rect x="342.66" y="273.08" width="12.99" height="12.97" fill="#fdcab5"/>
<rect x="368.54" y="273.08" width="12.99" height="12.97" fill="#fed9c8"/>
<rect x="381.48" y="273.08" width="12.99" height="12.97" fill="#fee4d8"/>
<rect x="420.3" y="273.08" width="12.99" height="12.97" fill="#f14432"/>
<rect x="433.24" y="273.08" width="12.99" height="12.97" fill="#ffebe2"/>
<rect x="446.18" y="273.08" width="12.99" height="12.97" fill="#fee1d3"/>
<rect x="459.12" y="273.08" width="12.99" height="12.97" fill="#fed9c8"/>
<path d="M290.9 221.4V286M303.84 221.4V286M316.78 221.4V286M329.72 221.4V286M342.66 221.4V286M355.6 221.4V286M368.54 221.4V286M381.48 221.4V286M394.42 221.4V286M407.36 221.4V286M420.3 221.4V286M433.24 221.4V286M446.18 221.4V286M459.12 221.4V286M472.06 221.4V286M290.9 221.4H472.06M290.9 234.32H472.06M290.9 247.24H472.06M290.9 260.16H472.06M290.9 273.08H472.06M290.9 286H472.06" stroke="#2b2b2b" stroke-width="0.9" fill="none"/>
<path d="M290.9 227.86h-2.2M290.9 240.78h-2.2M290.9 253.7h-2.2M290.9 266.62h-2.2M290.9 279.54h-2.2M297.37 286v2.2M310.31 286v2.2M323.25 286v2.2M336.19 286v2.2M349.13 286v2.2M362.07 286v2.2M375.01 286v2.2M387.95 286v2.2M400.89 286v2.2M413.83 286v2.2M426.77 286v2.2M439.71 286v2.2M452.65 286v2.2M465.59 286v2.2" stroke="#555" stroke-width="0.6" fill="none"/>
<text x="286.9" y="230.63" font-size="7.7" text-anchor="end" fill="#444">3.0</text>
<text x="286.9" y="243.55" font-size="7.7" text-anchor="end" fill="#444">4.0</text>
<text x="286.9" y="256.47" font-size="7.7" text-anchor="end" fill="#444">5.0</text>
<text x="286.9" y="269.39" font-size="7.7" text-anchor="end" fill="#444">6.0</text>
<text x="286.9" y="282.31" font-size="7.7" text-anchor="end" fill="#444">7.0</text>
<text x="300.57" y="294.1" font-size="7.6" text-anchor="end" fill="#444" transform="rotate(-45 300.57 294.1)">Prelineage</text>
<text x="313.51" y="294.1" font-size="7.6" text-anchor="end" fill="#444" transform="rotate(-45 313.51 294.1)">8C 3.0</text>
<text x="326.45" y="294.1" font-size="7.6" text-anchor="end" fill="#444" transform="rotate(-45 326.45 294.1)">Morula 4.0</text>
<text x="339.39" y="294.1" font-size="7.6" text-anchor="end" fill="#444" transform="rotate(-45 339.39 294.1)">ICM</text>
<text x="352.33" y="294.1" font-size="7.6" text-anchor="end" fill="#444" transform="rotate(-45 352.33 294.1)">PrE</text>
<text x="365.27" y="294.1" font-size="7.6" text-anchor="end" fill="#444" transform="rotate(-45 365.27 294.1)">EPI 6.0</text>
<text x="378.21" y="294.1" font-size="7.6" text-anchor="end" fill="#444" transform="rotate(-45 378.21 294.1)">EPI 7.0</text>
<text x="391.15" y="294.1" font-size="7.6" text-anchor="end" fill="#444" transform="rotate(-45 391.15 294.1)">Late EPI</text>
<text x="404.09" y="294.1" font-size="7.6" text-anchor="end" fill="#444" transform="rotate(-45 404.09 294.1)">TE 5.0</text>
<text x="417.03" y="294.1" font-size="7.6" text-anchor="end" fill="#444" transform="rotate(-45 417.03 294.1)">TE 6.0</text>
<text x="429.97" y="294.1" font-size="7.6" text-anchor="end" fill="#444" transform="rotate(-45 429.97 294.1)">TE 7.0</text>
<text x="442.91" y="294.1" font-size="7.6" text-anchor="end" fill="#444" transform="rotate(-45 442.91 294.1)">TE 8.0</text>
<text x="455.85" y="294.1" font-size="7.6" text-anchor="end" fill="#444" transform="rotate(-45 455.85 294.1)">TE 9.0</text>
<text x="468.79" y="294.1" font-size="7.6" text-anchor="end" fill="#444" transform="rotate(-45 468.79 294.1)">TE 10.0</text>
<text x="271" y="264" font-size="9.2" text-anchor="middle" fill="#444" transform="rotate(-90 271 264)">Developmental time</text>
<text x="487.5" y="194.6" font-size="16" text-anchor="start" fill="#111" font-weight="bold">d</text>
<text x="590" y="194" font-size="10.7" text-anchor="middle" fill="#222">Human reference model</text>
<rect x="518.5" y="198.5" width="144.9" height="133.64" fill="#fff"/>
<rect x="518.5" y="198.5" width="10.4" height="10.33" fill="#67000d"/>
<rect x="518.5" y="208.78" width="10.4" height="10.33" fill="#67000d"/>
<rect x="518.5" y="219.06" width="10.4" height="10.33" fill="#67000d"/>
<rect x="518.5" y="229.34" width="10.4" height="10.33" fill="#67000d"/>
<rect x="518.5" y="239.62" width="10.4" height="10.33" fill="#67000d"/>
<rect x="528.85" y="249.9" width="10.4" height="10.33" fill="#67000d"/>
<rect x="539.2" y="260.18" width="10.4" height="10.33" fill="#67000d"/>
<rect x="539.2" y="270.46" width="10.4" height="10.33" fill="#ffebe2"/>
<rect x="549.55" y="270.46" width="10.4" height="10.33" fill="#fcbba1"/>
<rect x="559.9" y="270.46" width="10.4" height="10.33" fill="#ffebe2"/>
<rect x="570.25" y="270.46" width="10.4" height="10.33" fill="#fee8dd"/>
<rect x="601.3" y="270.46" width="10.4" height="10.33" fill="#e83429"/>
<rect x="611.65" y="270.46" width="10.4" height="10.33" fill="#ffede4"/>
<rect x="518.5" y="280.74" width="10.4" height="10.33" fill="#ffede4"/>
<rect x="539.2" y="280.74" width="10.4" height="10.33" fill="#ffebe2"/>
<rect x="549.55" y="280.74" width="10.4" height="10.33" fill="#fee4d8"/>
<rect x="559.9" y="280.74" width="10.4" height="10.33" fill="#fee1d3"/>
<rect x="570.25" y="280.74" width="10.4" height="10.33" fill="#fed9c8"/>
<rect x="580.6" y="280.74" width="10.4" height="10.33" fill="#ffebe2"/>
<rect x="590.95" y="280.74" width="10.4" height="10.33" fill="#ffebe2"/>
<rect x="601.3" y="280.74" width="10.4" height="10.33" fill="#fee4d8"/>
<rect x="611.65" y="280.74" width="10.4" height="10.33" fill="#f6573e"/>
<rect x="622" y="280.74" width="10.4" height="10.33" fill="#fee4d8"/>
<rect x="632.35" y="280.74" width="10.4" height="10.33" fill="#fee8dd"/>
<rect x="642.7" y="280.74" width="10.4" height="10.33" fill="#fee8dd"/>
<rect x="653.05" y="280.74" width="10.4" height="10.33" fill="#fee8dd"/>
<rect x="539.2" y="291.02" width="10.4" height="10.33" fill="#ffebe2"/>
<rect x="549.55" y="291.02" width="10.4" height="10.33" fill="#ffebe2"/>
<rect x="559.9" y="291.02" width="10.4" height="10.33" fill="#fee4d8"/>
<rect x="570.25" y="291.02" width="10.4" height="10.33" fill="#ffebe2"/>
<rect x="580.6" y="291.02" width="10.4" height="10.33" fill="#fee4d8"/>
<rect x="590.95" y="291.02" width="10.4" height="10.33" fill="#ffebe2"/>
<rect x="611.65" y="291.02" width="10.4" height="10.33" fill="#ffebe2"/>
<rect x="622" y="291.02" width="10.4" height="10.33" fill="#f14432"/>
<rect x="632.35" y="291.02" width="10.4" height="10.33" fill="#fee8dd"/>
<rect x="642.7" y="291.02" width="10.4" height="10.33" fill="#fee4d8"/>
<rect x="653.05" y="291.02" width="10.4" height="10.33" fill="#fee4d8"/>
<rect x="559.9" y="301.3" width="10.4" height="10.33" fill="#fee8dd"/>
<rect x="590.95" y="301.3" width="10.4" height="10.33" fill="#fdcab5"/>
<rect x="611.65" y="301.3" width="10.4" height="10.33" fill="#ffebe2"/>
<rect x="632.35" y="301.3" width="10.4" height="10.33" fill="#fc9a7b"/>
<rect x="642.7" y="301.3" width="10.4" height="10.33" fill="#fc9a7b"/>
<rect x="653.05" y="301.3" width="10.4" height="10.33" fill="#fee8dd"/>
<rect x="559.9" y="311.58" width="10.4" height="10.33" fill="#fee8dd"/>
<rect x="590.95" y="311.58" width="10.4" height="10.33" fill="#fdcab5"/>
<rect x="632.35" y="311.58" width="10.4" height="10.33" fill="#fee8dd"/>
<rect x="642.7" y="311.58" width="10.4" height="10.33" fill="#e83429"/>
<rect x="653.05" y="311.58" width="10.4" height="10.33" fill="#fed9c8"/>
<rect x="559.9" y="321.86" width="10.4" height="10.33" fill="#fee8dd"/>
<rect x="580.6" y="321.86" width="10.4" height="10.33" fill="#ffede4"/>
<rect x="590.95" y="321.86" width="10.4" height="10.33" fill="#fdcab5"/>
<rect x="622" y="321.86" width="10.4" height="10.33" fill="#ffede4"/>
<rect x="632.35" y="321.86" width="10.4" height="10.33" fill="#ffebe2"/>
<rect x="642.7" y="321.86" width="10.4" height="10.33" fill="#ffebe2"/>
<rect x="653.05" y="321.86" width="10.4" height="10.33" fill="#d42021"/>
<path d="M518.5 198.5V332.14M528.85 198.5V332.14M539.2 198.5V332.14M549.55 198.5V332.14M559.9 198.5V332.14M570.25 198.5V332.14M580.6 198.5V332.14M590.95 198.5V332.14M601.3 198.5V332.14M611.65 198.5V332.14M622 198.5V332.14M632.35 198.5V332.14M642.7 198.5V332.14M653.05 198.5V332.14M663.4 198.5V332.14M518.5 198.5H663.4M518.5 208.78H663.4M518.5 219.06H663.4M518.5 229.34H663.4M518.5 239.62H663.4M518.5 249.9H663.4M518.5 260.18H663.4M518.5 270.46H663.4M518.5 280.74H663.4M518.5 291.02H663.4M518.5 301.3H663.4M518.5 311.58H663.4M518.5 321.86H663.4M518.5 332.14H663.4" stroke="#2b2b2b" stroke-width="0.9" fill="none"/>
<path d="M518.5 203.64h-2.2M518.5 213.92h-2.2M518.5 224.2h-2.2M518.5 234.48h-2.2M518.5 244.76h-2.2M518.5 255.04h-2.2M518.5 265.32h-2.2M518.5 275.6h-2.2M518.5 285.88h-2.2M518.5 296.16h-2.2M518.5 306.44h-2.2M518.5 316.72h-2.2M518.5 327h-2.2M523.67 332.14v2.2M534.02 332.14v2.2M544.38 332.14v2.2M554.73 332.14v2.2M565.08 332.14v2.2M575.42 332.14v2.2M585.77 332.14v2.2M596.12 332.14v2.2M606.48 332.14v2.2M616.83 332.14v2.2M627.17 332.14v2.2M637.52 332.14v2.2M647.88 332.14v2.2M658.23 332.14v2.2" stroke="#555" stroke-width="0.6" fill="none"/>
<text x="514.5" y="206.41" font-size="7.7" text-anchor="end" fill="#444">0</text>
<text x="514.5" y="216.69" font-size="7.7" text-anchor="end" fill="#444">0.33</text>
<text x="514.5" y="226.97" font-size="7.7" text-anchor="end" fill="#444">0.75</text>
<text x="514.5" y="237.25" font-size="7.7" text-anchor="end" fill="#444">1.25</text>
<text x="514.5" y="247.53" font-size="7.7" text-anchor="end" fill="#444">2.0</text>
<text x="514.5" y="257.81" font-size="7.7" text-anchor="end" fill="#444">3.0</text>
<text x="514.5" y="268.09" font-size="7.7" text-anchor="end" fill="#444">4.0</text>
<text x="514.5" y="278.37" font-size="7.7" text-anchor="end" fill="#444">5.0</text>
<text x="514.5" y="288.65" font-size="7.7" text-anchor="end" fill="#444">6.0</text>
<text x="514.5" y="298.93" font-size="7.7" text-anchor="end" fill="#444">7.0</text>
<text x="514.5" y="309.21" font-size="7.7" text-anchor="end" fill="#444">8.0</text>
<text x="514.5" y="319.49" font-size="7.7" text-anchor="end" fill="#444">9.0</text>
<text x="514.5" y="329.77" font-size="7.7" text-anchor="end" fill="#444">10.0</text>
<text x="526.88" y="340.84" font-size="7.6" text-anchor="end" fill="#444" transform="rotate(-45 526.88 340.84)">Prelineage</text>
<text x="537.23" y="340.84" font-size="7.6" text-anchor="end" fill="#444" transform="rotate(-45 537.23 340.84)">8C 3.0</text>
<text x="547.58" y="340.84" font-size="7.6" text-anchor="end" fill="#444" transform="rotate(-45 547.58 340.84)">Morula 4.0</text>
<text x="557.93" y="340.84" font-size="7.6" text-anchor="end" fill="#444" transform="rotate(-45 557.93 340.84)">ICM</text>
<text x="568.28" y="340.84" font-size="7.6" text-anchor="end" fill="#444" transform="rotate(-45 568.28 340.84)">PrE</text>
<text x="578.62" y="340.84" font-size="7.6" text-anchor="end" fill="#444" transform="rotate(-45 578.62 340.84)">EPI 6.0</text>
<text x="588.98" y="340.84" font-size="7.6" text-anchor="end" fill="#444" transform="rotate(-45 588.98 340.84)">EPI 7.0</text>
<text x="599.33" y="340.84" font-size="7.6" text-anchor="end" fill="#444" transform="rotate(-45 599.33 340.84)">Late EPI</text>
<text x="609.68" y="340.84" font-size="7.6" text-anchor="end" fill="#444" transform="rotate(-45 609.68 340.84)">TE 5.0</text>
<text x="620.03" y="340.84" font-size="7.6" text-anchor="end" fill="#444" transform="rotate(-45 620.03 340.84)">TE 6.0</text>
<text x="630.38" y="340.84" font-size="7.6" text-anchor="end" fill="#444" transform="rotate(-45 630.38 340.84)">TE 7.0</text>
<text x="640.73" y="340.84" font-size="7.6" text-anchor="end" fill="#444" transform="rotate(-45 640.73 340.84)">TE 8.0</text>
<text x="651.08" y="340.84" font-size="7.6" text-anchor="end" fill="#444" transform="rotate(-45 651.08 340.84)">TE 9.0</text>
<text x="661.43" y="340.84" font-size="7.6" text-anchor="end" fill="#444" transform="rotate(-45 661.43 340.84)">TE 10.0</text>
<defs><linearGradient id="g498" x1="0" y1="0" x2="0" y2="1"><stop offset="0" stop-color="#67000d"/><stop offset="0.05" stop-color="#800610"/><stop offset="0.1" stop-color="#990c13"/><stop offset="0.15" stop-color="#ad1117"/><stop offset="0.2" stop-color="#bc141a"/><stop offset="0.25" stop-color="#cb181d"/><stop offset="0.3" stop-color="#d92623"/><stop offset="0.35" stop-color="#e83429"/><stop offset="0.4" stop-color="#f14432"/><stop offset="0.45" stop-color="#f6573e"/><stop offset="0.5" stop-color="#fb6a4a"/><stop offset="0.55" stop-color="#fb7a5a"/><stop offset="0.6" stop-color="#fc8a6a"/><stop offset="0.65" stop-color="#fc9a7b"/><stop offset="0.7" stop-color="#fcab8e"/><stop offset="0.75" stop-color="#fcbba1"/><stop offset="0.8" stop-color="#fdcab5"/><stop offset="0.85" stop-color="#fed9c8"/><stop offset="0.9" stop-color="#fee4d8"/><stop offset="0.95" stop-color="#ffede4"/><stop offset="1" stop-color="#fff5f0"/></linearGradient></defs>
<rect x="666" y="198.5" width="8.4" height="133.7" fill="url(#g498)" stroke="#555" stroke-width="0.5"/>
<text x="679.4" y="334.9" font-size="7.5" text-anchor="start" fill="#444">0</text>
<text x="679.4" y="308.16" font-size="7.5" text-anchor="start" fill="#444">0.2</text>
<text x="679.4" y="281.42" font-size="7.5" text-anchor="start" fill="#444">0.4</text>
<text x="679.4" y="254.68" font-size="7.5" text-anchor="start" fill="#444">0.6</text>
<text x="679.4" y="227.94" font-size="7.5" text-anchor="start" fill="#444">0.8</text>
<text x="679.4" y="201.2" font-size="7.5" text-anchor="start" fill="#444">1.0</text>
<path d="M674.4 332.2h2M674.4 305.46h2M674.4 278.72h2M674.4 251.98h2M674.4 225.24h2M674.4 198.5h2" stroke="#555" stroke-width="0.6"/>
<text x="497" y="265" font-size="9" text-anchor="middle" fill="#444" transform="rotate(-90 497 265)">Developmental time</text>
<text x="-0.5" y="848" font-size="16" text-anchor="start" fill="#111" font-weight="bold">g</text>
<text x="8.8" y="920" font-size="10.6" text-anchor="middle" fill="#444" transform="rotate(-90 8.8 920)">Prediction score</text>
<text x="117.1" y="848.6" font-size="10.5" text-anchor="middle" fill="#222">Mouse (XGBoost)</text>
<path d="M34.3 911.6H192" stroke="#ee5555" stroke-width="0.9" stroke-dasharray="3.2 2.6"/>
<polyline points="41.3,880.8 65.25,955.6 89.2,955.6 113.15,950.1 137.1,950.1 161.05,950.1 185,907.75" fill="none" stroke="#3a87c8" stroke-width="1.15"/>
<path d="M38.7 878.2l5.2 5.2M38.7 883.4l5.2 -5.2" stroke="#3a87c8" stroke-width="0.85"/>
<path d="M62.65 953l5.2 5.2M62.65 958.2l5.2 -5.2" stroke="#3a87c8" stroke-width="0.85"/>
<path d="M86.6 953l5.2 5.2M86.6 958.2l5.2 -5.2" stroke="#3a87c8" stroke-width="0.85"/>
<path d="M110.55 947.5l5.2 5.2M110.55 952.7l5.2 -5.2" stroke="#3a87c8" stroke-width="0.85"/>
<path d="M134.5 947.5l5.2 5.2M134.5 952.7l5.2 -5.2" stroke="#3a87c8" stroke-width="0.85"/>
<path d="M158.45 947.5l5.2 5.2M158.45 952.7l5.2 -5.2" stroke="#3a87c8" stroke-width="0.85"/>
<path d="M182.4 905.15l5.2 5.2M182.4 910.35l5.2 -5.2" stroke="#3a87c8" stroke-width="0.85"/>
<polyline points="41.3,885.2 65.25,958.9 89.2,958.9 113.15,951.75 137.1,951.75 161.05,951.75 185,929.2" fill="none" stroke="#f5902e" stroke-width="1.15"/>
<path d="M38.7 882.6l5.2 5.2M38.7 887.8l5.2 -5.2" stroke="#f5902e" stroke-width="0.85"/>
<path d="M62.65 956.3l5.2 5.2M62.65 961.5l5.2 -5.2" stroke="#f5902e" stroke-width="0.85"/>
<path d="M86.6 956.3l5.2 5.2M86.6 961.5l5.2 -5.2" stroke="#f5902e" stroke-width="0.85"/>
<path d="M110.55 949.15l5.2 5.2M110.55 954.35l5.2 -5.2" stroke="#f5902e" stroke-width="0.85"/>
<path d="M134.5 949.15l5.2 5.2M134.5 954.35l5.2 -5.2" stroke="#f5902e" stroke-width="0.85"/>
<path d="M158.45 949.15l5.2 5.2M158.45 954.35l5.2 -5.2" stroke="#f5902e" stroke-width="0.85"/>
<path d="M182.4 926.6l5.2 5.2M182.4 931.8l5.2 -5.2" stroke="#f5902e" stroke-width="0.85"/>
<polyline points="41.3,880.8 65.25,955.6 89.2,955.6 113.15,950.1 137.1,950.1 161.05,950.1 185,907.75" fill="none" stroke="#3aa14a" stroke-width="1.15"/>
<path d="M38.7 878.2l5.2 5.2M38.7 883.4l5.2 -5.2" stroke="#3aa14a" stroke-width="0.85"/>
<path d="M62.65 953l5.2 5.2M62.65 958.2l5.2 -5.2" stroke="#3aa14a" stroke-width="0.85"/>
<path d="M86.6 953l5.2 5.2M86.6 958.2l5.2 -5.2" stroke="#3aa14a" stroke-width="0.85"/>
<path d="M110.55 947.5l5.2 5.2M110.55 952.7l5.2 -5.2" stroke="#3aa14a" stroke-width="0.85"/>
<path d="M134.5 947.5l5.2 5.2M134.5 952.7l5.2 -5.2" stroke="#3aa14a" stroke-width="0.85"/>
<path d="M158.45 947.5l5.2 5.2M158.45 952.7l5.2 -5.2" stroke="#3aa14a" stroke-width="0.85"/>
<path d="M182.4 905.15l5.2 5.2M182.4 910.35l5.2 -5.2" stroke="#3aa14a" stroke-width="0.85"/>
<polyline points="41.3,883 65.25,964.95 89.2,964.95 113.15,960 137.1,960 161.05,960 185,934.15" fill="none" stroke="#e3443f" stroke-width="1.15"/>
<path d="M38.7 880.4l5.2 5.2M38.7 885.6l5.2 -5.2" stroke="#e3443f" stroke-width="0.85"/>
<path d="M62.65 962.35l5.2 5.2M62.65 967.55l5.2 -5.2" stroke="#e3443f" stroke-width="0.85"/>
<path d="M86.6 962.35l5.2 5.2M86.6 967.55l5.2 -5.2" stroke="#e3443f" stroke-width="0.85"/>
<path d="M110.55 957.4l5.2 5.2M110.55 962.6l5.2 -5.2" stroke="#e3443f" stroke-width="0.85"/>
<path d="M134.5 957.4l5.2 5.2M134.5 962.6l5.2 -5.2" stroke="#e3443f" stroke-width="0.85"/>
<path d="M158.45 957.4l5.2 5.2M158.45 962.6l5.2 -5.2" stroke="#e3443f" stroke-width="0.85"/>
<path d="M182.4 931.55l5.2 5.2M182.4 936.75l5.2 -5.2" stroke="#e3443f" stroke-width="0.85"/>
<rect x="34.3" y="856.4" width="157.7" height="122" fill="none" stroke="#666" stroke-width="0.8"/>
<text x="29.3" y="969.8" font-size="9.2" text-anchor="end" fill="#444">0</text>
<text x="29.3" y="947.8" font-size="9.2" text-anchor="end" fill="#444">0.2</text>
<text x="29.3" y="925.8" font-size="9.2" text-anchor="end" fill="#444">0.4</text>
<text x="29.3" y="903.8" font-size="9.2" text-anchor="end" fill="#444">0.6</text>
<text x="29.3" y="881.8" font-size="9.2" text-anchor="end" fill="#444">0.8</text>
<text x="29.3" y="859.8" font-size="9.2" text-anchor="end" fill="#444">1.0</text>
<text x="41.3" y="992" font-size="9.4" text-anchor="middle" fill="#444">0</text>
<text x="65.25" y="992" font-size="9.4" text-anchor="middle" fill="#444">10</text>
<text x="89.2" y="992" font-size="9.4" text-anchor="middle" fill="#444">20</text>
<text x="113.15" y="992" font-size="9.4" text-anchor="middle" fill="#444">50</text>
<text x="137.1" y="992" font-size="9.4" text-anchor="middle" fill="#444">100</text>
<text x="161.05" y="992" font-size="9.4" text-anchor="middle" fill="#444">200</text>
<text x="185" y="992" font-size="9.4" text-anchor="middle" fill="#444">500</text>
<path d="M34.3 966.6h-2.5M34.3 944.6h-2.5M34.3 922.6h-2.5M34.3 900.6h-2.5M34.3 878.6h-2.5M34.3 856.6h-2.5M41.3 978.4v2.5M65.25 978.4v2.5M89.2 978.4v2.5M113.15 978.4v2.5M137.1 978.4v2.5M161.05 978.4v2.5M185 978.4v2.5" stroke="#555" stroke-width="0.7"/>
<text x="287" y="848.6" font-size="10.5" text-anchor="middle" fill="#222">Mouse (scANVI)</text>
<path d="M203.4 911.6H361" stroke="#ee5555" stroke-width="0.9" stroke-dasharray="3.2 2.6"/>
<polyline points="210.4,879.92 234.33,879.92 258.27,879.7 282.2,881.35 306.13,880.25 330.07,882.45 354,893.45" fill="none" stroke="#3a87c8" stroke-width="1.15"/>
<path d="M207.8 877.32l5.2 5.2M207.8 882.52l5.2 -5.2" stroke="#3a87c8" stroke-width="0.85"/>
<path d="M231.73 877.32l5.2 5.2M231.73 882.52l5.2 -5.2" stroke="#3a87c8" stroke-width="0.85"/>
<path d="M255.67 877.1l5.2 5.2M255.67 882.3l5.2 -5.2" stroke="#3a87c8" stroke-width="0.85"/>
<path d="M279.6 878.75l5.2 5.2M279.6 883.95l5.2 -5.2" stroke="#3a87c8" stroke-width="0.85"/>
<path d="M303.53 877.65l5.2 5.2M303.53 882.85l5.2 -5.2" stroke="#3a87c8" stroke-width="0.85"/>
<path d="M327.47 879.85l5.2 5.2M327.47 885.05l5.2 -5.2" stroke="#3a87c8" stroke-width="0.85"/>
<path d="M351.4 890.85l5.2 5.2M351.4 896.05l5.2 -5.2" stroke="#3a87c8" stroke-width="0.85"/>
<polyline points="210.4,870.35 234.33,870.35 258.27,870.35 282.2,871.45 306.13,871.45 330.07,872.55 354,881.9" fill="none" stroke="#f5902e" stroke-width="1.15"/>
<path d="M207.8 867.75l5.2 5.2M207.8 872.95l5.2 -5.2" stroke="#f5902e" stroke-width="0.85"/>
<path d="M231.73 867.75l5.2 5.2M231.73 872.95l5.2 -5.2" stroke="#f5902e" stroke-width="0.85"/>
<path d="M255.67 867.75l5.2 5.2M255.67 872.95l5.2 -5.2" stroke="#f5902e" stroke-width="0.85"/>
<path d="M279.6 868.85l5.2 5.2M279.6 874.05l5.2 -5.2" stroke="#f5902e" stroke-width="0.85"/>
<path d="M303.53 868.85l5.2 5.2M303.53 874.05l5.2 -5.2" stroke="#f5902e" stroke-width="0.85"/>
<path d="M327.47 869.95l5.2 5.2M327.47 875.15l5.2 -5.2" stroke="#f5902e" stroke-width="0.85"/>
<path d="M351.4 879.3l5.2 5.2M351.4 884.5l5.2 -5.2" stroke="#f5902e" stroke-width="0.85"/>
<polyline points="210.4,879.92 234.33,879.92 258.27,879.7 282.2,881.35 306.13,880.25 330.07,882.45 354,893.45" fill="none" stroke="#3aa14a" stroke-width="1.15"/>
<path d="M207.8 877.32l5.2 5.2M207.8 882.52l5.2 -5.2" stroke="#3aa14a" stroke-width="0.85"/>
<path d="M231.73 877.32l5.2 5.2M231.73 882.52l5.2 -5.2" stroke="#3aa14a" stroke-width="0.85"/>
<path d="M255.67 877.1l5.2 5.2M255.67 882.3l5.2 -5.2" stroke="#3aa14a" stroke-width="0.85"/>
<path d="M279.6 878.75l5.2 5.2M279.6 883.95l5.2 -5.2" stroke="#3aa14a" stroke-width="0.85"/>
<path d="M303.53 877.65l5.2 5.2M303.53 882.85l5.2 -5.2" stroke="#3aa14a" stroke-width="0.85"/>
<path d="M327.47 879.85l5.2 5.2M327.47 885.05l5.2 -5.2" stroke="#3aa14a" stroke-width="0.85"/>
<path d="M351.4 890.85l5.2 5.2M351.4 896.05l5.2 -5.2" stroke="#3aa14a" stroke-width="0.85"/>
<polyline points="210.4,881.35 234.33,881.35 258.27,881.35 282.2,882.45 306.13,881.35 330.07,882.45 354,890.7" fill="none" stroke="#e3443f" stroke-width="1.15"/>
<path d="M207.8 878.75l5.2 5.2M207.8 883.95l5.2 -5.2" stroke="#e3443f" stroke-width="0.85"/>
<path d="M231.73 878.75l5.2 5.2M231.73 883.95l5.2 -5.2" stroke="#e3443f" stroke-width="0.85"/>
<path d="M255.67 878.75l5.2 5.2M255.67 883.95l5.2 -5.2" stroke="#e3443f" stroke-width="0.85"/>
<path d="M279.6 879.85l5.2 5.2M279.6 885.05l5.2 -5.2" stroke="#e3443f" stroke-width="0.85"/>
<path d="M303.53 878.75l5.2 5.2M303.53 883.95l5.2 -5.2" stroke="#e3443f" stroke-width="0.85"/>
<path d="M327.47 879.85l5.2 5.2M327.47 885.05l5.2 -5.2" stroke="#e3443f" stroke-width="0.85"/>
<path d="M351.4 888.1l5.2 5.2M351.4 893.3l5.2 -5.2" stroke="#e3443f" stroke-width="0.85"/>
<rect x="203.4" y="856.4" width="157.6" height="122" fill="none" stroke="#666" stroke-width="0.8"/>
<text x="210.4" y="992" font-size="9.4" text-anchor="middle" fill="#444">0</text>
<text x="234.33" y="992" font-size="9.4" text-anchor="middle" fill="#444">10</text>
<text x="258.27" y="992" font-size="9.4" text-anchor="middle" fill="#444">20</text>
<text x="282.2" y="992" font-size="9.4" text-anchor="middle" fill="#444">50</text>
<text x="306.13" y="992" font-size="9.4" text-anchor="middle" fill="#444">100</text>
<text x="330.07" y="992" font-size="9.4" text-anchor="middle" fill="#444">200</text>
<text x="354" y="992" font-size="9.4" text-anchor="middle" fill="#444">500</text>
<path d="M203.4 966.6h-2.5M203.4 944.6h-2.5M203.4 922.6h-2.5M203.4 900.6h-2.5M203.4 878.6h-2.5M203.4 856.6h-2.5M210.4 978.4v2.5M234.33 978.4v2.5M258.27 978.4v2.5M282.2 978.4v2.5M306.13 978.4v2.5M330.07 978.4v2.5M354 978.4v2.5" stroke="#555" stroke-width="0.7"/>
<text x="459.9" y="848.6" font-size="10.5" text-anchor="middle" fill="#222">Human (XGBoost)</text>
<path d="M372.9 911.6H530.5" stroke="#ee5555" stroke-width="0.9" stroke-dasharray="3.2 2.6"/>
<polyline points="379.9,868.26 403.83,963.85 427.77,963.85 451.7,963.85 475.63,963.85 499.57,951.2 523.5,934.15" fill="none" stroke="#3a87c8" stroke-width="1.15"/>
<path d="M377.3 865.66l5.2 5.2M377.3 870.86l5.2 -5.2" stroke="#3a87c8" stroke-width="0.85"/>
<path d="M401.23 961.25l5.2 5.2M401.23 966.45l5.2 -5.2" stroke="#3a87c8" stroke-width="0.85"/>
<path d="M425.17 961.25l5.2 5.2M425.17 966.45l5.2 -5.2" stroke="#3a87c8" stroke-width="0.85"/>
<path d="M449.1 961.25l5.2 5.2M449.1 966.45l5.2 -5.2" stroke="#3a87c8" stroke-width="0.85"/>
<path d="M473.03 961.25l5.2 5.2M473.03 966.45l5.2 -5.2" stroke="#3a87c8" stroke-width="0.85"/>
<path d="M496.97 948.6l5.2 5.2M496.97 953.8l5.2 -5.2" stroke="#3a87c8" stroke-width="0.85"/>
<path d="M520.9 931.55l5.2 5.2M520.9 936.75l5.2 -5.2" stroke="#3a87c8" stroke-width="0.85"/>
<polyline points="379.9,870.9 403.83,958.9 427.77,958.9 451.7,958.9 475.63,958.9 499.57,946.25 523.5,934.7" fill="none" stroke="#f5902e" stroke-width="1.15"/>
<path d="M377.3 868.3l5.2 5.2M377.3 873.5l5.2 -5.2" stroke="#f5902e" stroke-width="0.85"/>
<path d="M401.23 956.3l5.2 5.2M401.23 961.5l5.2 -5.2" stroke="#f5902e" stroke-width="0.85"/>
<path d="M425.17 956.3l5.2 5.2M425.17 961.5l5.2 -5.2" stroke="#f5902e" stroke-width="0.85"/>
<path d="M449.1 956.3l5.2 5.2M449.1 961.5l5.2 -5.2" stroke="#f5902e" stroke-width="0.85"/>
<path d="M473.03 956.3l5.2 5.2M473.03 961.5l5.2 -5.2" stroke="#f5902e" stroke-width="0.85"/>
<path d="M496.97 943.65l5.2 5.2M496.97 948.85l5.2 -5.2" stroke="#f5902e" stroke-width="0.85"/>
<path d="M520.9 932.1l5.2 5.2M520.9 937.3l5.2 -5.2" stroke="#f5902e" stroke-width="0.85"/>
<polyline points="379.9,868.26 403.83,963.85 427.77,963.85 451.7,963.85 475.63,963.85 499.57,951.2 523.5,934.15" fill="none" stroke="#3aa14a" stroke-width="1.15"/>
<path d="M377.3 865.66l5.2 5.2M377.3 870.86l5.2 -5.2" stroke="#3aa14a" stroke-width="0.85"/>
<path d="M401.23 961.25l5.2 5.2M401.23 966.45l5.2 -5.2" stroke="#3aa14a" stroke-width="0.85"/>
<path d="M425.17 961.25l5.2 5.2M425.17 966.45l5.2 -5.2" stroke="#3aa14a" stroke-width="0.85"/>
<path d="M449.1 961.25l5.2 5.2M449.1 966.45l5.2 -5.2" stroke="#3aa14a" stroke-width="0.85"/>
<path d="M473.03 961.25l5.2 5.2M473.03 966.45l5.2 -5.2" stroke="#3aa14a" stroke-width="0.85"/>
<path d="M496.97 948.6l5.2 5.2M496.97 953.8l5.2 -5.2" stroke="#3aa14a" stroke-width="0.85"/>
<path d="M520.9 931.55l5.2 5.2M520.9 936.75l5.2 -5.2" stroke="#3aa14a" stroke-width="0.85"/>
<polyline points="379.9,873.1 403.83,966.6 427.77,966.6 451.7,966.6 475.63,966.6 499.57,957.03 523.5,940.2" fill="none" stroke="#e3443f" stroke-width="1.15"/>
<path d="M377.3 870.5l5.2 5.2M377.3 875.7l5.2 -5.2" stroke="#e3443f" stroke-width="0.85"/>
<path d="M401.23 964l5.2 5.2M401.23 969.2l5.2 -5.2" stroke="#e3443f" stroke-width="0.85"/>
<path d="M425.17 964l5.2 5.2M425.17 969.2l5.2 -5.2" stroke="#e3443f" stroke-width="0.85"/>
<path d="M449.1 964l5.2 5.2M449.1 969.2l5.2 -5.2" stroke="#e3443f" stroke-width="0.85"/>
<path d="M473.03 964l5.2 5.2M473.03 969.2l5.2 -5.2" stroke="#e3443f" stroke-width="0.85"/>
<path d="M496.97 954.43l5.2 5.2M496.97 959.63l5.2 -5.2" stroke="#e3443f" stroke-width="0.85"/>
<path d="M520.9 937.6l5.2 5.2M520.9 942.8l5.2 -5.2" stroke="#e3443f" stroke-width="0.85"/>
<rect x="372.9" y="856.4" width="157.6" height="122" fill="none" stroke="#666" stroke-width="0.8"/>
<text x="379.9" y="992" font-size="9.4" text-anchor="middle" fill="#444">0</text>
<text x="403.83" y="992" font-size="9.4" text-anchor="middle" fill="#444">10</text>
<text x="427.77" y="992" font-size="9.4" text-anchor="middle" fill="#444">20</text>
<text x="451.7" y="992" font-size="9.4" text-anchor="middle" fill="#444">50</text>
<text x="475.63" y="992" font-size="9.4" text-anchor="middle" fill="#444">100</text>
<text x="499.57" y="992" font-size="9.4" text-anchor="middle" fill="#444">200</text>
<text x="523.5" y="992" font-size="9.4" text-anchor="middle" fill="#444">500</text>
<path d="M372.9 966.6h-2.5M372.9 944.6h-2.5M372.9 922.6h-2.5M372.9 900.6h-2.5M372.9 878.6h-2.5M372.9 856.6h-2.5M379.9 978.4v2.5M403.83 978.4v2.5M427.77 978.4v2.5M451.7 978.4v2.5M475.63 978.4v2.5M499.57 978.4v2.5M523.5 978.4v2.5" stroke="#555" stroke-width="0.7"/>
<text x="621.3" y="848.6" font-size="10.5" text-anchor="middle" fill="#222">Human (scANVI)</text>
<path d="M541.9 911.6H698.8" stroke="#ee5555" stroke-width="0.9" stroke-dasharray="3.2 2.6"/>
<polyline points="548.9,868.37 572.72,868.7 596.53,868.7 620.35,870.35 644.17,871.34 667.98,887.4 691.8,917.65" fill="none" stroke="#3a87c8" stroke-width="1.15"/>
<path d="M546.3 865.77l5.2 5.2M546.3 870.97l5.2 -5.2" stroke="#3a87c8" stroke-width="0.85"/>
<path d="M570.12 866.1l5.2 5.2M570.12 871.3l5.2 -5.2" stroke="#3a87c8" stroke-width="0.85"/>
<path d="M593.93 866.1l5.2 5.2M593.93 871.3l5.2 -5.2" stroke="#3a87c8" stroke-width="0.85"/>
<path d="M617.75 867.75l5.2 5.2M617.75 872.95l5.2 -5.2" stroke="#3a87c8" stroke-width="0.85"/>
<path d="M641.57 868.74l5.2 5.2M641.57 873.94l5.2 -5.2" stroke="#3a87c8" stroke-width="0.85"/>
<path d="M665.38 884.8l5.2 5.2M665.38 890l5.2 -5.2" stroke="#3a87c8" stroke-width="0.85"/>
<path d="M689.2 915.05l5.2 5.2M689.2 920.25l5.2 -5.2" stroke="#3a87c8" stroke-width="0.85"/>
<polyline points="548.9,866.17 572.72,866.5 596.53,866.5 620.35,868.7 644.17,872 667.98,885.53 691.8,912.7" fill="none" stroke="#f5902e" stroke-width="1.15"/>
<path d="M546.3 863.57l5.2 5.2M546.3 868.77l5.2 -5.2" stroke="#f5902e" stroke-width="0.85"/>
<path d="M570.12 863.9l5.2 5.2M570.12 869.1l5.2 -5.2" stroke="#f5902e" stroke-width="0.85"/>
<path d="M593.93 863.9l5.2 5.2M593.93 869.1l5.2 -5.2" stroke="#f5902e" stroke-width="0.85"/>
<path d="M617.75 866.1l5.2 5.2M617.75 871.3l5.2 -5.2" stroke="#f5902e" stroke-width="0.85"/>
<path d="M641.57 869.4l5.2 5.2M641.57 874.6l5.2 -5.2" stroke="#f5902e" stroke-width="0.85"/>
<path d="M665.38 882.93l5.2 5.2M665.38 888.13l5.2 -5.2" stroke="#f5902e" stroke-width="0.85"/>
<path d="M689.2 910.1l5.2 5.2M689.2 915.3l5.2 -5.2" stroke="#f5902e" stroke-width="0.85"/>
<polyline points="548.9,868.37 572.72,868.7 596.53,868.7 620.35,870.35 644.17,871.34 667.98,887.4 691.8,917.65" fill="none" stroke="#3aa14a" stroke-width="1.15"/>
<path d="M546.3 865.77l5.2 5.2M546.3 870.97l5.2 -5.2" stroke="#3aa14a" stroke-width="0.85"/>
<path d="M570.12 866.1l5.2 5.2M570.12 871.3l5.2 -5.2" stroke="#3aa14a" stroke-width="0.85"/>
<path d="M593.93 866.1l5.2 5.2M593.93 871.3l5.2 -5.2" stroke="#3aa14a" stroke-width="0.85"/>
<path d="M617.75 867.75l5.2 5.2M617.75 872.95l5.2 -5.2" stroke="#3aa14a" stroke-width="0.85"/>
<path d="M641.57 868.74l5.2 5.2M641.57 873.94l5.2 -5.2" stroke="#3aa14a" stroke-width="0.85"/>
<path d="M665.38 884.8l5.2 5.2M665.38 890l5.2 -5.2" stroke="#3aa14a" stroke-width="0.85"/>
<path d="M689.2 915.05l5.2 5.2M689.2 920.25l5.2 -5.2" stroke="#3aa14a" stroke-width="0.85"/>
<polyline points="548.9,868.37 572.72,869.03 596.53,869.03 620.35,870.13 644.17,873.1 667.98,888.5 691.8,916.55" fill="none" stroke="#e3443f" stroke-width="1.15"/>
<path d="M546.3 865.77l5.2 5.2M546.3 870.97l5.2 -5.2" stroke="#e3443f" stroke-width="0.85"/>
<path d="M570.12 866.43l5.2 5.2M570.12 871.63l5.2 -5.2" stroke="#e3443f" stroke-width="0.85"/>
<path d="M593.93 866.43l5.2 5.2M593.93 871.63l5.2 -5.2" stroke="#e3443f" stroke-width="0.85"/>
<path d="M617.75 867.53l5.2 5.2M617.75 872.73l5.2 -5.2" stroke="#e3443f" stroke-width="0.85"/>
<path d="M641.57 870.5l5.2 5.2M641.57 875.7l5.2 -5.2" stroke="#e3443f" stroke-width="0.85"/>
<path d="M665.38 885.9l5.2 5.2M665.38 891.1l5.2 -5.2" stroke="#e3443f" stroke-width="0.85"/>
<path d="M689.2 913.95l5.2 5.2M689.2 919.15l5.2 -5.2" stroke="#e3443f" stroke-width="0.85"/>
<rect x="541.9" y="856.4" width="156.9" height="122" fill="none" stroke="#666" stroke-width="0.8"/>
<text x="548.9" y="992" font-size="9.4" text-anchor="middle" fill="#444">0</text>
<text x="572.72" y="992" font-size="9.4" text-anchor="middle" fill="#444">10</text>
<text x="596.53" y="992" font-size="9.4" text-anchor="middle" fill="#444">20</text>
<text x="620.35" y="992" font-size="9.4" text-anchor="middle" fill="#444">50</text>
<text x="644.17" y="992" font-size="9.4" text-anchor="middle" fill="#444">100</text>
<text x="667.98" y="992" font-size="9.4" text-anchor="middle" fill="#444">200</text>
<text x="691.8" y="992" font-size="9.4" text-anchor="middle" fill="#444">500</text>
<path d="M541.9 966.6h-2.5M541.9 944.6h-2.5M541.9 922.6h-2.5M541.9 900.6h-2.5M541.9 878.6h-2.5M541.9 856.6h-2.5M548.9 978.4v2.5M572.72 978.4v2.5M596.53 978.4v2.5M620.35 978.4v2.5M644.17 978.4v2.5M667.98 978.4v2.5M691.8 978.4v2.5" stroke="#555" stroke-width="0.7"/>
<text x="368" y="1005.3" font-size="11" text-anchor="middle" fill="#333">Number of dropouts</text>
<path d="M38.6 1004.3h15.5" stroke="#3a87c8" stroke-width="1.1"/>
<path d="M44.15 1002.1l4.4 4.4M44.15 1006.5l4.4 -4.4" stroke="#3a87c8" stroke-width="0.85"/>
<text x="58.6" y="1007.4" font-size="9" text-anchor="start" fill="#444">Accuracy</text>
<path d="M38.6 1013.6h15.5" stroke="#3aa14a" stroke-width="1.1"/>
<path d="M44.15 1011.4l4.4 4.4M44.15 1015.8l4.4 -4.4" stroke="#3aa14a" stroke-width="0.85"/>
<text x="58.6" y="1016.7" font-size="9" text-anchor="start" fill="#444">F1 (micro)</text>
<path d="M111.4 1004.3h15.5" stroke="#f5902e" stroke-width="1.1"/>
<path d="M116.95 1002.1l4.4 4.4M116.95 1006.5l4.4 -4.4" stroke="#f5902e" stroke-width="0.85"/>
<text x="131.4" y="1007.4" font-size="9" text-anchor="start" fill="#444">Balanced accuracy</text>
<path d="M111.4 1013.6h15.5" stroke="#e3443f" stroke-width="1.1"/>
<path d="M116.95 1011.4l4.4 4.4M116.95 1015.8l4.4 -4.4" stroke="#e3443f" stroke-width="0.85"/>
<text x="131.4" y="1016.7" font-size="9" text-anchor="start" fill="#444">F1 (macro)</text>
<text x="-0.3" y="418" font-size="16" text-anchor="start" fill="#111" font-weight="bold">e</text>
<path d="M84.13 441.3h0M103.76 431.63h0M96.85 467.79h0M90.17 524.65h0M72.13 450.23h0M83.21 523.33h0M75.54 494.41h0M103.03 468.62h0M97.56 430.44h0M105.52 475.42h0M79.35 493.53h0M89.79 516.06h0M73.82 482.99h0M106.42 495.99h0M93.15 504.59h0M87.85 505.14h0M88.16 530.15h0M97.67 531.62h0M81.41 473.91h0M86.23 531.72h0M78.7 482.5h0M86.86 492.53h0M95.63 498.85h0M77.23 442.71h0M86.55 437.85h0M114.43 442.61h0M96.4 440.78h0M96.66 518.76h0M78.3 486.52h0M80.25 508.09h0M84.65 521.44h0M88.78 539.44h0M72.32 441.34h0M96.29 537.82h0M90.73 530.19h0M79.81 458.82h0M79.13 495.01h0M80.26 474.36h0M89.94 535.86h0M96.11 425.01h0M108.21 491.31h0M84.26 486.61h0M98.03 519.4h0M79.61 456.84h0M98.4 516.41h0M95.43 508.11h0M93.38 538.79h0M74.39 475.91h0M102.14 485.86h0M90.04 535.08h0M98.94 509.06h0M91.93 464.52h0M80.77 438.63h0M94.71 444.64h0M76.07 481.24h0M113.84 475.99h0M94.4 525.61h0M88.29 485.17h0M85.26 525.32h0M107.1 501.12h0M88.98 465.55h0M116.93 505.38h0M81.62 452.56h0M83.27 466.67h0M93.18 484.69h0M82.95 451.41h0M109.73 503.78h0M108.15 502.01h0M94.96 525.65h0M105.67 508.19h0M98.21 500.1h0M94.88 488.69h0M108.46 448h0M93.44 507h0M109.29 460.23h0M98.77 424.24h0M105.02 508.05h0M95.69 479.99h0M92.68 437.31h0M77.34 494.4h0M93.87 425.76h0M73.14 465.11h0M87.1 540.6h0M109.86 502.17h0M82.57 513.82h0M94.52 449.83h0M109.68 473.6h0M94.9 500.33h0M116.47 449.33h0M80.96 453.33h0M118.44 481.05h0M71.24 441.73h0M103.54 517h0M92.14 490.7h0M72.38 453.75h0M102.88 508.84h0M117.73 481.31h0M78.79 453.16h0M84.98 474.55h0M94.99 448h0M113.9 451.16h0M94.45 445.8h0M73.48 471.21h0M104.57 469.38h0M81.49 466.04h0M86.1 524h0M87.06 536.08h0M89.35 522.8h0M119.9 454.39h0M80.43 511.06h0M78.73 481.29h0M87.89 453.65h0M83.87 467.32h0M111.63 432.44h0M107.29 477.81h0M78.75 474.1h0M101.92 505.82h0M98.71 468.69h0M108.98 447.26h0M113.21 503.26h0M80.3 518.6h0M100.47 499.14h0M79.99 496.61h0M83.43 447.78h0M88.42 490.53h0M83.44 492.55h0M108.38 447.81h0M90.13 523.85h0M89.07 531.55h0M95.97 536.81h0M118.95 499.19h0M114.45 445.26h0M102.32 460.46h0M94.21 540.65h0M119.66 443.06h0M94.83 536.12h0M102.88 467.06h0M117.08 491.15h0M86.32 516.98h0M99.85 504.53h0M66.73 441.12h0M95.46 533.12h0M79.32 441.11h0M89.06 452h0M121.16 440.24h0M76.67 497.68h0M95.12 501.81h0M78.26 435.68h0M84.83 515.13h0M80.62 501.86h0M109.47 463h0M102.54 508.13h0M92.87 526.24h0M90.93 512.05h0M77.42 499.47h0M106.26 500.86h0M106.52 513.55h0M86.5 523.51h0M71.13 448.07h0M102.59 458.13h0M83.85 474.95h0M81.66 510.95h0M115.78 498.93h0M90.89 518.01h0M96.97 449.4h0M94.19 520.94h0M85.53 525.27h0M106.67 484.14h0M88.78 471.35h0M87.46 531.69h0M96.59 515.73h0M109.88 502.39h0M74.87 476.8h0M96.03 442.54h0M76.47 501.36h0M102.64 479.82h0M88.98 514.06h0M99.14 515.06h0M111.14 509.02h0M115.85 506.49h0M83.48 500.17h0M97.16 511.14h0M95.43 501.52h0M89.32 539.59h0M86.03 429.68h0M81.16 471.98h0M89.93 508.79h0M88.22 448.84h0M113.27 500.91h0M85.89 501.46h0M92.79 458.99h0M87.27 453.96h0M104.06 453.53h0M101.2 519.03h0M91.02 531.53h0M94.28 429.91h0M97.07 529.09h0M87.2 474.34h0M102.92 501.13h0M86.67 481.21h0M96.23 517.71h0M77.34 476.36h0M95.09 542.92h0M117.84 489.95h0M101.7 499.99h0M106.48 496.22h0M82.82 474.71h0M92.33 537.66h0M83.36 512.64h0M86.75 493.59h0M86.5 502.21h0M87.84 519.64h0M84.62 497.4h0M90.41 532.21h0M90.05 495.03h0M99.01 456.47h0M97.92 521.02h0M101.11 506.26h0M92.62 448.17h0M79.98 515.31h0M93.3 495.36h0M76.05 446.41h0M111.94 441.95h0M100.53 465.23h0M116.66 482.66h0M111.45 475.22h0M76.76 444.98h0M92.2 539.49h0M100.58 471.7h0M104.88 471.17h0M80.05 466.1h0M68.05 440.55h0M93.58 443.49h0M115.23 500.18h0M114.08 481.58h0M115.07 463.94h0M104.8 448.74h0M114.63 487.63h0M75.85 476.37h0M101.21 483.79h0M108 429.53h0M113.34 464.03h0M86.97 496.05h0M83.96 510.39h0M87.58 515.34h0M99.29 487.17h0M94.32 484.44h0M89.04 439.59h0M88.02 474.55h0M88.44 538.76h0M90.83 543.68h0M102.66 467.63h0M90.68 484.94h0M103.19 455.47h0M83.02 502.54h0M80.8 480.21h0M115.08 497.91h0M98.91 502.89h0M92.35 490.27h0M83.33 452.57h0M116.41 452.11h0M82.43 517.9h0M91.09 513.38h0M73.97 464.25h0M85.85 505.97h0M113.97 486.54h0M110.28 481.3h0M111.8 510.06h0M94.57 541.41h0M101.14 469.5h0M75.75 460.19h0M99.59 433.54h0M122.23 447.89h0M90.29 534.97h0M95.75 486.48h0M86.16 496.03h0M88.75 491.91h0M91.11 499.71h0M95.46 436.33h0M117.99 474.6h0M75.99 445.19h0M102.51 497.07h0M83.1 507.86h0M80.66 502.45h0M70.71 443.73h0M96.05 524.19h0M74.86 455.57h0M99.64 465.72h0M91.69 470.25h0M91.08 499.17h0M113.65 460.14h0M94.43 539.8h0M93.76 520.45h0M88.89 430.77h0M70.26 455.95h0M91.3 525.82h0M113 442.33h0M91.86 438.85h0M87.79 503.77h0M89.45 503.96h0M102.43 445.1h0M74.42 447.12h0M82.88 469.65h0M115.07 493h0M89.4 447.53h0M97.6 516.47h0M71.57 458.38h0M86.33 448.15h0M103.86 453.7h0M75.84 501.38h0M114.22 462.18h0M86.81 490.65h0M98.71 500.16h0M99.57 432.59h0M91.29 542.28h0M111.92 475.16h0M81.7 504.28h0M85.02 476.79h0M118.94 442.98h0M105.29 497.81h0M66.37 445.98h0M87.02 494.31h0M98.59 471.57h0M71.56 444.96h0M78.29 493.31h0M89.18 431.76h0M91.07 529.17h0M107.15 475.22h0M118.02 499.29h0M97.63 521.71h0M117.22 489.09h0M94.81 530.35h0M117.08 498.02h0M92.26 544.32h0M104.96 456.32h0M98.34 517.75h0M102.69 500.95h0M82.94 516.82h0M93.59 467.99h0" stroke="#cfe1f3" stroke-width="3.2" stroke-linecap="round" fill="none"/>
<path d="M116.21 458.41h0M73.36 437.22h0M68.28 448.09h0M83.55 494.9h0M91.89 459.66h0M96.21 530.6h0M108.47 458.2h0M110.57 493.35h0M74.78 437.14h0M122.16 441.31h0M100.05 455.1h0M88.24 471.89h0M79.84 465.53h0M85.26 455.34h0M97.29 426.03h0M115.13 481.82h0M109.71 481.64h0M108.19 443.66h0M85.72 490.35h0M114.27 448.72h0M91.11 445.28h0M75.04 481.08h0M91.84 488.45h0M121.23 454.71h0M69.05 452.37h0M104.32 440.33h0M113.84 454.59h0M96.31 452.1h0M83.42 460.31h0M80.04 442.83h0M118.22 500.05h0M102.27 506.63h0M108.91 453.8h0M94.34 469.87h0M110.72 498.77h0M105.24 458.56h0M91.75 459.93h0M83.66 526.3h0M118.79 458.44h0M79.66 455.46h0M95.36 446.11h0M93.03 465.07h0M104.06 459.79h0M98.14 471.33h0M76.24 433.89h0M88.19 536.98h0M96.04 506.8h0M94.6 505.86h0M105.65 447.12h0M122.89 461.13h0M87.13 463.6h0M122.56 448.27h0M114.02 476.02h0M85.04 456.28h0M80.59 433.07h0M104.57 437.64h0M115.15 458.92h0M95.14 451.23h0M93.19 523.7h0M116.67 478.08h0M77.76 468.16h0M103.8 447.78h0M105.4 445.53h0M103.05 433.94h0M86.13 474.05h0M86.53 447.01h0M93.66 429.28h0M114.17 442.46h0M111.85 450.08h0M72.08 453.16h0M114.99 437.22h0M89.9 494.54h0M90.24 503.94h0M91.51 476.75h0M92.2 444.84h0M93.09 435.9h0M95.31 427.73h0M95.39 429.39h0M94.94 469.29h0M110.07 442.28h0M118.49 456.61h0M95.06 462.04h0M66.91 445.15h0M112.56 455.34h0M91.24 444.49h0M88.82 455.28h0M113.5 444.23h0M109.41 480.07h0M109.21 478.49h0M97.93 476.47h0M112.01 487.22h0M98.92 460.65h0M85.39 440.19h0M110.14 447.98h0M85.51 509.58h0M113.89 443.71h0M75.77 483.68h0M81.72 449.17h0M102.38 466.55h0M77.07 455.15h0M85.61 462.98h0M104.43 514.19h0M76.19 459.88h0M79.55 462.97h0M108.7 476.33h0M71.11 448.15h0M88.64 520.23h0M119.18 475.72h0M102.48 453.53h0M90.11 478.83h0M111.39 470.63h0M94.09 542.87h0M114.44 487.02h0M77.31 507.08h0M88.25 516.74h0M114.72 466.44h0M115.74 455.67h0M81.57 452.9h0M82.81 481.83h0M70.79 440.3h0M85.49 441.52h0M98 455.31h0M78.75 439.88h0M94.18 484.13h0M92.78 492.06h0M107.79 499.8h0M85.02 528.95h0M90.04 491.01h0M114.3 458.81h0M114.36 472.48h0M94.92 456.2h0M84.55 461.8h0M82.65 495.01h0M105.56 448.9h0M104.72 479.16h0M110.46 435.2h0M104.04 468.18h0M98.43 454.51h0M67.06 437.35h0M113.32 493.64h0M103.37 448.87h0M107.86 452.57h0M108.48 433.09h0M102.42 510.15h0M91.02 506.16h0M102.48 474.24h0M87.3 507.14h0M117.81 487.05h0M88.85 486.47h0M80.13 492.3h0M111.88 510.19h0M80.12 438.01h0M79.01 440.35h0M91.84 464.59h0M102.39 440.3h0M107.52 490.93h0M80.68 473.47h0M113.12 464.73h0M98.98 439.72h0M81.13 448.1h0M101.45 509.97h0M113.4 494.58h0M108.66 473.02h0M94.28 424.6h0M96.94 425.25h0M106.86 435.38h0M67.41 437.87h0M109.49 442.96h0M115.08 487.51h0M111.31 464.44h0M79.66 474.75h0M96.55 431.24h0M105.41 456.41h0M101.98 453.6h0M95.92 476.17h0M72.14 438.9h0M77.99 485.89h0M87.69 494.91h0M98.1 483.29h0M116.98 476.95h0M71.25 450.46h0M108.08 458.82h0M87.77 462.4h0M94.67 477.45h0M119.91 462.63h0M98.6 484.02h0M105.29 487.46h0M96.51 523.3h0M74.08 458.45h0M89.39 519.82h0M104.79 446.95h0M71.99 442.03h0M110.27 435.85h0M107.63 466.33h0M83.25 530.63h0M79.3 444.09h0M96.73 470.24h0M87.31 540.87h0M80.92 517.86h0M98.76 461.02h0M83.96 504.42h0M83.38 450.62h0M72.63 456.8h0M108.74 510.56h0M103 444.85h0M107.7 454.11h0M90.8 507.08h0M115.95 497.59h0M109.67 433.32h0M102.39 478.53h0M97.34 453.49h0M107.12 505.35h0M78.97 452.5h0M95.62 477.57h0M84.71 523.24h0M100.62 479.56h0M84.17 480.49h0M86.48 443.43h0M90.75 446.1h0M97.28 423.72h0M79.46 439.8h0M84.3 445.45h0M86.86 525.21h0M94.36 484.29h0M98.5 465.62h0M84.12 479.48h0M103.54 459.61h0M89.68 488.05h0M96.55 453.72h0M100.01 432.59h0M97.73 510.81h0M110.11 436.83h0M88.22 443.82h0M117.03 492.11h0M100.93 434.99h0M76.29 477.79h0M114.99 494.38h0M75.82 491.04h0M82.1 507.43h0M87.55 440.48h0M115.41 471.21h0M92.77 493.85h0M67.42 440.68h0M86.47 457.42h0M109.07 485.45h0M97.74 472.76h0" stroke="#bdd5ee" stroke-width="3.2" stroke-linecap="round" fill="none"/>
<path d="M99.33 471.61h0M112.36 508.89h0M99.49 478.95h0M114.02 457.79h0M75.27 451.3h0M105.27 429.36h0M64.71 441.35h0M92.66 482.36h0M69.85 435.3h0M80.37 467.91h0M77.93 450.67h0M76.5 447.9h0M111.04 485.3h0M101.45 485.03h0M115.1 439.61h0M88.6 482.78h0M95.64 464.51h0M76.44 461.97h0M97.94 477.01h0M70.99 455.44h0M71.27 442.61h0M67.72 447.58h0M108.68 490.64h0M82.28 479.35h0M76.76 484.93h0M88.07 462.91h0M72.69 467.18h0M104.26 430.84h0M69.17 455.44h0M73.55 454.01h0M118.32 447.27h0M91.67 455.83h0M115.05 437.5h0M87.03 471.14h0M86.34 475.48h0M108.64 478.29h0M85.22 433.93h0M79.05 454.56h0M89.53 487.33h0M103.43 460.16h0M96.17 494.57h0M87.98 450.27h0M89.9 454.42h0M120.6 463.3h0M76.28 467.61h0M101.14 463.12h0M79.55 452.95h0M99.4 462.94h0M120.51 468.6h0M92.35 442.74h0M86.95 484.9h0M76.54 438.32h0M88.97 527.06h0M77.79 471.99h0M95.77 469.99h0M94.07 451.71h0M102.89 432.84h0M77.2 455.11h0M113.89 453.98h0M101.66 475.99h0M72.62 450.72h0M78.16 494.66h0M102.14 481.26h0M98.44 465.9h0M103.44 477.41h0M83.26 459.72h0M122.61 449.46h0M80.32 451.81h0M117.51 463.21h0M70.69 434.77h0M86.78 462.26h0M64.78 447.61h0M78.71 479.53h0M117.81 452.04h0M73.98 441.93h0M84.38 446.04h0M106.31 484.41h0M89.97 450.88h0M103.19 478.67h0M101.99 473.17h0M85.83 455.39h0M92.85 492h0M97.6 438.13h0M90.27 445.62h0M104.26 467.39h0M102.69 424.55h0M92.73 440.51h0M95.34 482.46h0M83.81 475.8h0M89.45 435.28h0M93.88 430.07h0M100.77 460.75h0M113.15 457.63h0M85.51 433.19h0M112.2 479.38h0M86.47 492.29h0M95.87 425.24h0M98.73 454.95h0M105.31 459.54h0M100.19 516.15h0M107.73 446.76h0M74.04 456.13h0M74.77 483.24h0M119.42 449.61h0M86.73 442.86h0M106.64 446.75h0M81.48 437.75h0M73.53 493.33h0M79.12 464.02h0M65.95 439.89h0M121.75 458.15h0M82.32 472.83h0M82 452.71h0M101.47 480.52h0M110.64 494.93h0M99.02 474.23h0M88.14 491.17h0M73.4 493.65h0M105.81 470.73h0M74.94 461.92h0M102.89 427.92h0M115.23 494.98h0M110.93 462.5h0M86.2 445.7h0M98.39 436.87h0M85.77 452.9h0M76.17 457.67h0M104.56 464.8h0M114.8 438.46h0M85.88 511.78h0M94.99 450.72h0M107.09 454.85h0M117.04 437.84h0M95.48 489.6h0M88.1 433.31h0M86.39 484.4h0M115.5 466.12h0M67.54 452.84h0M106.38 471.24h0M81.57 433.79h0M80.37 490.07h0M83.33 439.54h0M120.85 466.04h0M91.58 436.63h0M115.07 459.24h0M74.15 459.64h0M105.98 442.88h0M91.07 446.23h0M82.44 477.34h0M105.42 477.86h0M94.06 491.01h0M78.91 468.61h0M77.49 459.68h0M85.18 516.85h0M105.21 454.09h0M105.47 471.1h0M93.25 442.22h0M100.05 428.08h0M74.88 467.21h0M87.97 466.31h0M80.42 492.85h0M102.81 465.91h0" stroke="#abc9ea" stroke-width="3.2" stroke-linecap="round" fill="none"/>
<path d="M72.46 453.23h0M101.54 441.02h0M84.48 450.2h0M85.93 479.19h0M105.99 475.14h0M67.96 438.71h0M74.15 477.67h0M103.27 432.25h0M74.74 442.63h0M91.7 439.91h0M88.69 477.67h0M100.76 423.99h0M82.79 479.5h0M83.69 456.69h0M90.5 483.55h0M120.39 445.26h0M73.18 447.85h0M89.29 457.63h0M73.45 457.63h0M113.64 440.4h0M102.49 471.31h0M100.05 447.88h0M111.11 494.11h0M96.55 514.18h0M65.07 446.12h0M108.71 445.81h0M98.71 458.75h0M120.6 451.56h0M111.03 451.41h0M91.6 442.39h0M93.35 457.99h0M108.29 458.89h0M107.4 446.95h0M117.02 455.53h0M91.45 486.28h0M95.5 488.11h0M75.64 435.36h0M96.73 441h0M91.84 479.16h0M94.57 490.92h0M99.17 473.39h0M79.28 470.76h0M122.99 458.54h0M86.78 453.06h0M101.19 448.91h0M81.64 472.44h0M104.52 466.03h0M106.65 453.33h0M90.4 485.81h0M95.58 474.63h0M76.42 433.19h0M82.52 493.12h0M85.3 531.83h0M79.91 434.41h0M111.2 439.57h0M81.1 484.35h0" stroke="#93b8e2" stroke-width="3.2" stroke-linecap="round" fill="none"/>
<path d="M117.23 461.39h0M94.8 488.27h0M80.93 438.67h0M110.27 458.45h0M99.83 487.95h0M113.91 485.43h0M87.31 464.4h0M78.1 474.12h0M71.85 446.07h0M112.42 490.27h0M100.67 490.52h0M107.4 455.5h0M90.41 501.28h0M80.17 447.56h0M95.4 484.95h0M107.81 450h0M85.24 441.31h0" stroke="#6aa0da" stroke-width="3.2" stroke-linecap="round" fill="none"/>
<path d="M69.42 485.35h0M74.71 508.51h0M70.41 520.08h0M56.48 493.52h0M61.52 482.12h0M82.94 531.75h0M62.27 486.86h0M64.61 482.34h0M66.41 521.04h0M72.39 516.03h0M69.88 506.77h0M63.61 527.93h0M68.94 474.01h0M72.17 471.56h0M76.12 507.41h0M65.21 518.53h0M72.63 532.2h0M72.29 508.61h0M62.94 482.94h0M69.02 493.97h0M73.42 526.56h0M68.07 522.31h0M73.37 498.82h0M64.92 498.47h0M60.76 521.7h0M77.23 521.15h0M56.84 506.85h0M80.75 526.33h0M75.78 519.66h0M72.76 524.6h0M56.2 509.64h0M74.52 501.78h0M71.31 519.94h0M73.63 532.84h0M69.76 518.49h0M72.14 478.45h0M62.59 498.02h0M58.97 517.3h0M58.69 521.24h0M65.57 454.7h0M72.16 511.39h0M70.72 483.59h0M68.39 499.76h0M59.24 523.66h0M67.29 460.76h0" stroke="#cfe1f3" stroke-width="3.2" stroke-linecap="round" fill="none"/>
<path d="M92.9 539.31h0M99 530.19h0M90.2 519.6h0M91.67 523.3h0M86.66 541.44h0M94.39 529.54h0M86.74 540.15h0M86.72 522.62h0M95.45 540.05h0M99.34 540.78h0M83.51 520.23h0M99.33 537.21h0M88.33 526.22h0M85.93 537.29h0M83.06 519.01h0M90.53 547.96h0M101.31 530.2h0M84.45 516.27h0M85.69 543.1h0M93.43 544.88h0M85.08 516.35h0M95.52 532.32h0M87.02 522.08h0M99.58 527.37h0M85.21 512.52h0M87.14 535.41h0M91.09 512.36h0M93.13 513.73h0M83.7 524.93h0M96.99 547.41h0M93.63 537.58h0M86.94 521.74h0M103.74 527.3h0M84.5 535.65h0M85.03 520h0M92.95 535.42h0M97.27 540.28h0M92.55 514.7h0M99.39 514.15h0M93.3 528.01h0M98.15 540.55h0M87.75 537.98h0M98.61 530.87h0M96.38 514.51h0M87.49 527.69h0M97.21 541.66h0M82.92 515.75h0M82.91 513.95h0M87.77 549.23h0M87.27 538.88h0M104.06 522.52h0M85.68 512.73h0M100.17 516.15h0M86.49 544.28h0M85.91 532.49h0M95.34 544.85h0M94.06 536.79h0M96.27 543.98h0M83.86 514.17h0M95.09 523.64h0M91.53 512.31h0M99.88 512.96h0M92.99 516.89h0M97.6 520.29h0M92.3 516.42h0M90.46 515.76h0M102.36 516.06h0M90.82 524.11h0M100.3 517.91h0M100.45 512.28h0" stroke="#cfe1f3" stroke-width="3.2" stroke-linecap="round" fill="none"/>
<path d="M87.08 560.99h0M84.32 559.56h0M82.52 561.11h0M86.38 564.16h0M87.72 562.97h0M86.89 563.5h0M82.89 563.78h0M83.07 562.06h0M80.04 558.01h0M81.58 558.24h0M77.52 559.43h0M88.04 557.74h0M80 559.12h0M81.26 562.7h0M88.4 563.9h0M88.71 560.32h0M81.02 561.27h0M81.87 560.37h0M84.49 561.5h0M84.61 564.38h0M82.52 564.14h0M80.6 564.07h0M78.82 559.38h0M86.99 561.91h0M87.94 562.53h0M79.98 557.57h0M79.35 557.6h0M91.43 561.43h0M85.46 561.56h0M85.57 561.95h0M80.86 555.64h0M81.78 556.42h0" stroke="#cfe1f3" stroke-width="3.2" stroke-linecap="round" fill="none"/>
<path d="M85.24 573.46h0M87.01 575.39h0M87.33 572.86h0M91.58 573.11h0M92.01 570.66h0M94.26 572.4h0M93.12 571.58h0M93.41 575.62h0M91.38 571.94h0M91.25 574.11h0M91.27 571.26h0M94.81 572.68h0M91.17 573.99h0M88 575.06h0M85.52 575.52h0M86.77 572.56h0" stroke="#cfe1f3" stroke-width="3.2" stroke-linecap="round" fill="none"/>
<path d="M100.7 421.77h0M94.29 425.53h0M94.76 423.87h0M106.06 424.83h0M92.45 424.84h0M96.96 423.26h0M102.76 423.99h0M107.84 426.59h0M102.75 425.4h0M92.49 423.68h0M97.96 422.08h0M98.96 424.04h0M90.74 426.45h0M98.93 422.06h0M93.6 424.66h0M90.95 425.89h0M96.54 423.75h0M107.08 428.85h0M90.73 427.08h0M104.84 425.18h0M105.03 428.29h0M107.52 426.46h0M107.25 428.93h0M92.96 423.9h0M107.28 426.79h0M91.01 426.97h0M107.22 428.42h0M105.22 423.44h0M98.46 422.71h0M93.88 425.62h0" stroke="#6aa0da" stroke-width="3.2" stroke-linecap="round" fill="none"/>
<path d="M96.23 422.53h0M107.87 429.65h0M91.66 424.64h0M102.95 424.24h0M90.76 428.49h0M104.8 425.06h0" stroke="#4283c8" stroke-width="3.2" stroke-linecap="round" fill="none"/>
<path d="M115.04 436.67h0M120.58 439.78h0M113.32 437.5h0M123.3 444.53h0M123.81 442.55h0M124.76 442.96h0M114.86 437h0M125.08 442.79h0M115.02 434.98h0M119.04 436.71h0M114.16 437.44h0M119.73 440.48h0M117.49 438.04h0M110.95 437.63h0M115.04 436.59h0M118.63 439.86h0" stroke="#6aa0da" stroke-width="3.2" stroke-linecap="round" fill="none"/>
<path d="M102.92 439.74h0M114.2 439.09h0M87.05 448.31h0M88.19 460.09h0M83.67 450.44h0M99.78 462.03h0M77.3 440.82h0M77.9 436.17h0M97.68 456.16h0M82.42 437.54h0M101.04 450.36h0M91.67 469.98h0M105.07 468.71h0M120.72 442.1h0M119.93 448.35h0M85.35 443h0M92.26 453.82h0M114.99 466.32h0M104.63 453.08h0M76.18 440.97h0M104.88 456.38h0M100.23 438.17h0M106.68 441.5h0M82.54 446.48h0M97.76 460.48h0" stroke="#6aa0da" stroke-width="3.2" stroke-linecap="round" fill="none"/>
<path d="M81.08 463.88h0M104.22 452.28h0M106.23 466.38h0M78.4 452.44h0M106.47 462.49h0M105.2 439.75h0M87.78 450.52h0M95.18 473.35h0M115.8 442h0M108.88 447.47h0M105.86 464.98h0M83.36 441.57h0M87.03 443.44h0M95.06 450.09h0" stroke="#4283c8" stroke-width="3.2" stroke-linecap="round" fill="none"/>
<path d="M64.93 438.82h0M75.31 438.77h0M68.27 440.04h0M69.25 434.75h0M69.78 433.18h0M72.11 434.61h0M68.44 442.62h0M73.2 441.36h0M71.71 439.35h0M66.36 440.66h0M67.61 435.56h0M73.86 439.01h0M71.07 434.98h0M64.18 438.35h0M72.71 435.72h0M66.08 439.96h0M67.18 440.11h0M68.02 438.22h0M67.84 437.17h0M69.75 435.59h0M71.49 439.97h0M67.16 440.92h0M72.75 436.42h0M69.9 434.88h0M75.15 438.6h0" stroke="#cfe1f3" stroke-width="3.2" stroke-linecap="round" fill="none"/>
<path d="M53.55 482.83h0M54.7 468.34h0M25.43 501.52h0M29.99 512.82h0M50.8 469.41h0M46.06 514.37h0M22.45 514.37h0M52.14 471.25h0M58.33 475.8h0M35.83 514.07h0M45.5 480.74h0M57.45 456.88h0M52.42 467.63h0M35.96 491.35h0M38.47 488.56h0M42.42 506.22h0M50.11 474.9h0M24.22 516.81h0M57.09 459.56h0M60.16 462.73h0M29.16 518.14h0M66.67 457.88h0M33.2 515.88h0M49.39 473.85h0M42.87 513.59h0M55.5 459.06h0M30.1 536.12h0M26.03 522.65h0M29.12 516.26h0M40.67 523.42h0M21.49 518h0M31.68 531.59h0M40.3 506.13h0M32.49 532.52h0M59.21 470.55h0M51.83 482.4h0M60.47 459.42h0M46.34 478.29h0M62.31 459.94h0M46.75 489.38h0M36.95 519.81h0M58.44 468.12h0M55.83 465.45h0M42.72 484.37h0M35.56 505.8h0M35.64 528.28h0M45.37 492.01h0M40.57 528.88h0M52.28 466.34h0M26.87 532.03h0M41.32 513.73h0M45.61 523.3h0M31.45 516.27h0M58.68 467.37h0M41.37 482.4h0M36.46 515.09h0M29.78 497.86h0M44.51 509.17h0M58.37 464.05h0M38 532.93h0M40.92 503h0M40.75 494.73h0M30.49 501.45h0M33.81 524.97h0M64.48 451.89h0M36.79 518.29h0M50.06 475.2h0M35.84 493.92h0M53.46 483.45h0M28.16 527.38h0M37.66 505.59h0M47.05 508.63h0M36.98 534.87h0M46.82 484.43h0M43.54 493.1h0M38.08 530.25h0M37.44 496.47h0M43.41 477.93h0M39.19 503.65h0M57.94 471.24h0M38.05 531.91h0M46.33 472.65h0M36.62 523.39h0M28.53 511.17h0M23.8 521.92h0M29.5 503.66h0M37.95 538.05h0M41.42 483.35h0M54.18 463.28h0M37.5 515.56h0M41.66 520.56h0M48.06 489h0M39.02 511.23h0M40.46 509.25h0M47.78 514.74h0M40.21 536.27h0M49.91 476.42h0M35.96 517.45h0M33.33 503.81h0M28.45 526.76h0M64.38 454.72h0M28.01 517.78h0M48.57 486.74h0M64.87 455.12h0M57.52 456.57h0M55.14 470.86h0M54.92 466.95h0M51.75 472.84h0M38.41 532.55h0M41.06 500.17h0M42.44 527.31h0M39.86 535.35h0M56.21 460.48h0M55.8 459.2h0M50.93 482.02h0M32.71 522.79h0M25.08 526.18h0M62.98 450.2h0M42.83 490.62h0M37.13 533.75h0M59.29 458.17h0M57.94 470.27h0M50.65 496.57h0M56 468.58h0M42.78 523.53h0M28.54 510.6h0M47.04 484.68h0M43.1 492.86h0M47.04 517.85h0M27.6 501.15h0M46.73 476.19h0M38.03 535.29h0M50.8 497.52h0M37.94 503.25h0M35.11 537.14h0M32.48 537.48h0M40.54 530.94h0M29.42 524.4h0M33.57 528.89h0M45.23 477.08h0M26.19 516.4h0M38.12 508.55h0M37.87 530.71h0M48 499.12h0M40.4 497.55h0M56.57 469.5h0M59.73 469.46h0M56.96 467.68h0M42.27 493.79h0M25.18 507.34h0M28.36 505.14h0M52.47 487.3h0M52.52 467.7h0M39.84 511.02h0M52.48 493.09h0M59.01 474.15h0M23.13 513.52h0M58.64 457.5h0M37.35 511.68h0M38.24 513.24h0M34.02 537.97h0M25.3 514.53h0M28.3 528.1h0M38.89 509.45h0M37.62 528.34h0M30.24 495.24h0M43.7 478.38h0M38.56 494.48h0M34.04 493.77h0M44.68 485.95h0M52.22 464.25h0M46 472.65h0M32.7 533.08h0M45.01 481.89h0M43.68 514.99h0" stroke="#ad5a9e" stroke-width="3.2" stroke-linecap="round" fill="none"/>
<path d="M28.68 521.11h0M31.87 516.89h0M31.91 529.89h0M29.14 530.75h0M38.4 527.61h0M37.98 528.11h0M30 509.77h0M38.74 536.03h0M31.41 511.15h0M41.5 529.38h0M34.73 518.71h0M29.94 522.13h0M39.67 533.97h0M42.67 533.16h0M33.66 520.22h0M28.03 512.58h0M42.74 533.83h0M33.4 513.58h0M41 518.86h0M33.67 519.53h0M37.1 515.4h0M32.18 530.08h0M31.32 527.71h0M37.44 516.52h0M36.89 524.66h0M31.08 509.06h0M31.16 526.69h0M37.24 522.79h0M26.69 514.17h0M30.85 520.08h0M29.36 525.03h0M41.52 531.5h0M29.92 530.51h0M29.01 526.12h0M41.11 532.42h0M36.06 519.23h0M29.72 529.83h0M26.06 510.64h0M32.12 520.55h0M35.17 516.39h0M39.44 522.97h0M35.23 522.32h0M31.87 517.73h0M37.53 524.34h0M30.25 510.45h0M35.7 517.5h0M31.45 520.1h0M32.84 512.7h0M38.57 527.28h0M33.82 519.77h0" stroke="#c98dbd" stroke-width="3.2" stroke-linecap="round" fill="none"/>
<path d="M59.36 460.44h0M50.39 473.42h0M53.93 468.92h0M72.79 453.33h0M40.58 507.07h0M46.92 488.48h0M55.49 477.34h0M63.04 457.89h0M48.7 490.5h0M51.06 487.79h0M51.5 485.65h0M53.25 479.03h0M53.5 482.36h0M51.44 476.01h0M67.3 458.17h0M46.39 488.49h0M45.73 483.7h0M52.05 483.2h0M50.88 472.54h0M47.53 480.39h0M56.84 469.72h0M39.1 507.5h0M51.13 488.42h0M52.82 486.07h0M37.97 504.85h0M47.78 492.66h0M46.69 500h0M43.46 498.3h0M68.37 448.21h0M50.96 472.39h0M46.28 489.17h0M46.27 501.09h0M44.58 503.35h0M72.04 452.42h0M72.19 456.22h0M51.7 486.54h0M66.29 459.55h0M56.46 462.23h0M39.25 503.06h0M42.69 509.39h0M46.15 496.47h0M39.64 504.58h0M48.05 493.06h0M64.66 451.86h0M49.24 480.18h0M46.87 501.15h0M46.65 490.11h0M44.59 495.68h0M59.47 457.47h0M57.78 463.39h0M46.13 498.92h0M47.39 490.08h0M64.34 463.33h0M43.75 507.07h0M51.59 478.16h0M68.9 449.68h0M41.68 491.56h0M59.05 470.74h0M55.21 467.14h0M48.21 487.68h0M54.17 480.69h0M43.07 504.52h0M49.18 476.62h0M61.31 458.91h0M54.33 466.99h0M69.38 456.32h0M48.05 485.97h0M55.23 469.77h0M62.82 461.69h0M69.68 448.11h0M58.18 461.38h0M49.34 480.23h0M51.61 486.64h0M46.34 495.71h0M40.49 500.29h0M43.89 487.5h0M52.45 472.93h0M45.53 507.24h0M68.08 455.74h0M54.7 479.81h0" stroke="#d94f58" stroke-width="3.2" stroke-linecap="round" fill="none"/>
<path d="M68.08 469.94h0M69.13 479.85h0M71.02 469.47h0M71.56 470.17h0M63.63 485.22h0M61.61 482.25h0M72.61 461h0M74.37 472.3h0M58.07 495.03h0M65.19 486.06h0M59.86 496.33h0M61.29 494.01h0M61.35 485.95h0M67.17 477.9h0M73.42 464.2h0M62.41 492.54h0M61.26 484.67h0M71.19 464.95h0M60.42 501.12h0M72.86 474.21h0" stroke="#d94f58" stroke-width="3.2" stroke-linecap="round" fill="none"/>
<path d="M74.66 457.33h0M88.38 471.28h0M77.41 489.23h0M81.55 517.02h0M101.92 459.7h0M79.1 459.19h0M100.44 516.33h0M83.88 529.14h0M82.76 476.56h0M64.22 530.57h0M89.7 487.46h0M85.35 515.33h0" stroke="#d94f58" stroke-width="3.2" stroke-linecap="round" fill="none"/>
<path d="M62.04 564.33h0M41.45 543.85h0M64.46 565.61h0M55.85 559.88h0M49.2 553.88h0M42.57 546.79h0M64.77 563.22h0M44.9 552.34h0M69.09 565.92h0M54.41 559.23h0M62.5 564.63h0M40.66 541.78h0M56.89 562.22h0M41.01 545.72h0M55.3 560.23h0M36.9 538.53h0M44.79 549.67h0M47.28 547.92h0M57.32 558.84h0M61.25 562.38h0M50.93 557.69h0M38.08 542.96h0M35.72 542.13h0M35.58 539.77h0M48.06 549.16h0M47.44 551.45h0M49.78 550.37h0M52.39 554.58h0M67.28 567.52h0M49.95 551.49h0" stroke="#dcaed2" stroke-width="3.2" stroke-linecap="round" fill="none"/>
<path d="M65.76 566.81h0M56.86 562.56h0M51.48 557.07h0M51.08 552.65h0M45.05 548.73h0M63.89 564.63h0M52.46 558.09h0M50.9 552.73h0M55.17 558.7h0M63.48 568.22h0M48.82 553.2h0M54.21 555.31h0M52.06 558.65h0M50.11 554.64h0M60.47 561.11h0M65.31 565.25h0M49.68 555.02h0M44.79 548.02h0" stroke="#c98dbd" stroke-width="3.2" stroke-linecap="round" fill="none"/>
<path d="M40.04 539.1h0M49.42 534.05h0M56.71 538.25h0M43.05 535.61h0M54.81 533.46h0M59.67 538.12h0M51.34 544.95h0M53.65 540.81h0M54.3 536.17h0M48.93 534.8h0M47.49 536.22h0M51.06 536.49h0M43.6 541.64h0M48.9 535.43h0M39.76 539.63h0M49.09 542.79h0M45.97 538.18h0M58.42 536.11h0M43.17 544.21h0M51.69 535.06h0M56.43 540.37h0M41.21 535.89h0M51.79 534.91h0M48.1 542.7h0M39.3 541.91h0M39.51 539.13h0M52.59 542.31h0M60.04 537.87h0M47.2 537.62h0M53.71 543.11h0M52.61 538.04h0M50.67 539.73h0M60.82 538.98h0M57.14 535.61h0M54.83 542.72h0M58.1 536.01h0M55.9 539.13h0M44.5 537.53h0M56.17 544.64h0M57.27 542.04h0M41.09 534.34h0M50.63 535.18h0" stroke="#f4b731" stroke-width="3.2" stroke-linecap="round" fill="none"/>
<path d="M41.08 531.23h0M36.71 538.6h0M38.37 540.17h0M40.9 540.19h0M40.26 533.21h0M42.48 530.15h0M43.45 534.56h0M35.39 538.52h0M46.97 536.05h0M38.91 533.44h0M56.28 534.47h0M52.43 538.35h0" stroke="#dcaed2" stroke-width="3.2" stroke-linecap="round" fill="none"/>
<path d="M54.78 557.98h0M52.25 552.81h0M53.81 553.58h0M51.94 553.76h0M55.12 558.13h0M56.31 558.18h0M58.09 562.11h0M56.83 556.65h0M59.86 560.8h0M52.57 551.58h0M55.71 560.09h0M56.22 558.58h0M58.36 562.17h0M55.2 555.74h0M58.58 558.76h0M51.54 552.58h0M59.29 559.09h0M55.66 559.72h0M53.56 551.23h0M56.12 555.85h0M57.61 562.99h0M53.93 556.8h0" stroke="#f4b731" stroke-width="3.2" stroke-linecap="round" fill="none"/>
<path d="M114.37 473.28h0M120.49 473.33h0M104.37 485.01h0M103.32 486.19h0M110.42 506.08h0M110.45 501.69h0M117.04 490.62h0M107.28 478.8h0M111.85 482.59h0M114.62 487.23h0M108.81 491.49h0M120.94 474.51h0M109.04 466.51h0M104.69 468.33h0M110.61 501.13h0M115.56 506.58h0M118.07 490.61h0M113.45 466.53h0M109.9 476.99h0M114.17 468.75h0M112.76 481.77h0M111.86 482.98h0M104.84 496.72h0M117.41 491.12h0M105.08 491.16h0M118.68 507.44h0M116.65 467.92h0M118.81 493.93h0M107.98 504.64h0M117.87 503.6h0M107.46 490.23h0M109.82 478.43h0" stroke="#f4b731" stroke-width="3.2" stroke-linecap="round" fill="none"/>
<path d="M75 571h0M92.1 568.4h0M75 525.6h0M76.7 528.1h0M92.1 513.6h0M93.9 517.9h0M61.3 535.9h0M59.6 544.4h0M70 525h0M80 540h0" stroke="#f4b731" stroke-width="3.2" stroke-linecap="round" fill="none"/>
<path d="M47.6 523.9h0M66.4 522.1h0M61.3 527.3h0M83.6 539.3h0M88.7 541h0M68.1 530.7h0M62 440h0M60 445h0" stroke="#ad5a9e" stroke-width="3.2" stroke-linecap="round" fill="none"/>
<path d="M49.3 529h0M55 525h0M65 510h0" stroke="#d94f58" stroke-width="3.2" stroke-linecap="round" fill="none"/>
<path d="M97.22 587.86h0M88.64 586.69h0M100.57 587.07h0M100.27 587.06h0M91.2 586.84h0M94.47 585.65h0M94.69 586.53h0M96.1 593.15h0M94.96 590.81h0M86.76 584.1h0M86.53 589.28h0M92.58 587.69h0M88.51 587.39h0M92.32 584.17h0M88.92 590.85h0M85.5 586.94h0M91.86 592.98h0M85.26 591.45h0M89.94 586.77h0M88.59 580.49h0M84.68 582.86h0M96.02 587.29h0M84.44 590.82h0M92.15 580.29h0M98.41 591.13h0M98.21 581.67h0M97.33 590.37h0M94.67 591.32h0M88.27 588.94h0M95.69 591.58h0M93.34 582.41h0M87.03 586.68h0M99.78 581.88h0M95.94 588.77h0M84.44 590.45h0M97.33 582.9h0M83.96 582.51h0M97.43 585.47h0M98.31 580.55h0M84.13 583.58h0M83.47 590.05h0M83.83 588.68h0M83.67 581.95h0M95.27 591.98h0M90.18 585.19h0M82.62 583.45h0M86.84 590.62h0M96.28 590.55h0M92.63 589.19h0M84.54 584.16h0M87.86 582.52h0M96.78 581.43h0M88.51 582.52h0M99.28 588.22h0M91.61 584.08h0" stroke="#5b70c0" stroke-width="3.2" stroke-linecap="round" fill="none"/>
<path d="M136.23 601.03h0M110.86 594.43h0M137.47 606.17h0M127.72 603.23h0M121.63 602.37h0M118.73 610.13h0M138.31 628.95h0M138.91 610.56h0M140.5 595.97h0M138.69 617.53h0M136.64 607.77h0M141.62 591.08h0M135.61 625.24h0M119.67 607.68h0M130.7 593.83h0M141.08 599.52h0M115.76 607.83h0M115.35 594.62h0M124.5 609.23h0M114.74 607.98h0M124.82 613.34h0M117.88 600.75h0M123.65 598.9h0M137.35 600.16h0M132.77 608.99h0M122.58 612.92h0M128.04 619.63h0M134.44 602.98h0M127.48 599.65h0M126.27 602h0M118.72 600.02h0M107.81 597.8h0M134.26 609.49h0M130.05 604.95h0M133.89 615.62h0M127.47 606.89h0M123.6 598.2h0M136.48 623.65h0M130.19 602.97h0M141.43 590.43h0M136.85 591.28h0M122.9 606.7h0M132.33 603.55h0M120.55 591.57h0M132.39 599.38h0M119.82 590.02h0M132.1 617.37h0M128.09 598.86h0M122.48 615.71h0M130.61 598.5h0M113.05 604.75h0M130.64 614.84h0M106.2 594.15h0M139.41 602.19h0M131.5 619.91h0M123.57 600.96h0M113.48 598.53h0M112.98 590.58h0M137.79 601.71h0M108.91 595.02h0M115.42 595.14h0M124.29 609.19h0M132.51 621.13h0M133.23 614.16h0M119.97 604.17h0M125.55 594.24h0M135.04 605.07h0M122.19 597.5h0M133.38 594.14h0M132.13 610.22h0M139.15 604.53h0M137.42 598.61h0M132.52 622.22h0M125.23 594.3h0M140.25 594.4h0M132.91 621.1h0M128.45 608.28h0M140.18 593.55h0M129.57 621.28h0M125.45 590.68h0M138.8 608.86h0M111.56 591.26h0M138.78 601.63h0M108.82 596.3h0M137.7 618.59h0M124.49 595.64h0M135.33 621.46h0M120.71 611.12h0M133.69 595.65h0M136.8 608.06h0M111.18 600.29h0M121.48 612.04h0M113.15 595.33h0M117.56 591.49h0M138.67 610.83h0M136.91 619.99h0M130.65 622.62h0M134.62 624.6h0M141.07 595.09h0M108.83 594.58h0M130.4 622.05h0M121.67 614.18h0M138.68 617.88h0M127.55 615.32h0M124.05 595.55h0M117.89 608.12h0M115.19 606.82h0M117.93 605.97h0M140.82 593.88h0M116.6 609.3h0M124.86 605.78h0M110.05 590.66h0M136.7 630.38h0M113.6 592.51h0M137.49 625.97h0M110.12 600.96h0M119.73 606.66h0M136.27 626.89h0M119.29 596.24h0M127.96 610.36h0M137.45 630.1h0M125.9 594.29h0M124.72 608.1h0M130.67 595.23h0M124.06 603.96h0M139.98 604.08h0M125.45 594.76h0M126.8 604.73h0M123.54 597.36h0M137.83 612.16h0M106.95 598.27h0M113.95 606.99h0M131.91 607.36h0M119.95 607.05h0M116.02 601.68h0M119.35 612.65h0M108.69 597.61h0M122.82 590.1h0M129.85 608.62h0M123.1 604.05h0M110.44 602.52h0M133.21 623.91h0M127.46 594.88h0M134.53 615.19h0M118.05 600.41h0M114.33 591.98h0M135.6 595.04h0M127.43 605.33h0M137.33 602.77h0M127 619.32h0M111.85 601.72h0M114.7 598.03h0M110.41 597.08h0M126.44 618.25h0M121.45 597.72h0M136.72 594.77h0M121.58 610.48h0M137.55 610.14h0M132.84 595.54h0M128.94 594.66h0M117.16 596.68h0M127.68 603.73h0M116.9 595.46h0M123.19 607.36h0M133.61 593.78h0" stroke="#5b70c0" stroke-width="3.2" stroke-linecap="round" fill="none"/>
<path d="M108.48 604.69h0M129.35 626.3h0M127.96 619.97h0M128.58 621.14h0M102.47 592.77h0M98.44 595.87h0M110.8 601.15h0M122.06 607.82h0M124.15 618.74h0M127.03 623.12h0M111.92 599.36h0M126.87 620.64h0M113.33 602.56h0M101.16 597.65h0M114.92 608.7h0M112.02 601.26h0M117.22 610.1h0M133.48 624.13h0M126.06 616.16h0M130.22 625.33h0M121.12 609.93h0M106.23 602.35h0M130.7 620.32h0M101.31 591.2h0M138.45 626.03h0M129.68 621.88h0M120 610.8h0M113.97 605.29h0M97.88 595.88h0M102.41 591.51h0M123.84 616.49h0M128.57 622.6h0M137.11 624.64h0M97.81 588.76h0M130.79 618.56h0M117.75 611.02h0M102.81 595.86h0M131.77 626.98h0M113.82 604.36h0M106.03 602.97h0" stroke="#5b70c0" stroke-width="3.2" stroke-linecap="round" fill="none"/>
<path d="M87.83 588.48h0M83.04 589.05h0M84.87 589.78h0M83.64 590.7h0M86.85 585.96h0M85.63 589.85h0M85.29 591.56h0M87.14 586.38h0M88.5 582.64h0M83.38 588.85h0M88.23 585.1h0M80.76 587.27h0M83.22 583.87h0M84.48 581.86h0M85.59 585.89h0M83.08 587.63h0M83.47 591.73h0M81.24 584.8h0M81.26 585.65h0M82.74 581.62h0M85.28 584.31h0M86.74 587.17h0" stroke="#f4b731" stroke-width="3.2" stroke-linecap="round" fill="none"/>
<path d="M131.6 526.4h0M78 578h0" stroke="#5b70c0" stroke-width="3.2" stroke-linecap="round" fill="none"/>
<path d="M88.97 576.8h0M90.35 579.14h0M90.14 577.83h0M87.64 576.72h0M83.4 577.8h0M89.16 576.12h0M91.54 579.9h0M87.88 576.05h0" stroke="#cfe1f3" stroke-width="3.2" stroke-linecap="round" fill="none"/>
<path d="M174.42 580.8h0M175.99 578.56h0M175.76 583.54h0M175.59 573.89h0M180.79 582.21h0M170.26 577.69h0M179.7 584.31h0M180.21 574.77h0M180.55 583.94h0M174.13 582.14h0M169.37 575.66h0M176.34 578.31h0M173.73 580.33h0M182.05 570.52h0M182.93 574.57h0M178.18 581.71h0M179.65 573.4h0M179.37 584.7h0M183.6 579.72h0M185.86 575.54h0M180.18 582.58h0M172.98 582.74h0M169.49 577.59h0M180.5 571.34h0M187.44 576.03h0M172.7 575.59h0M180.83 575.86h0M183.26 571.11h0M174.11 581.92h0M184.09 578.58h0M177.63 572.79h0M180.76 584.69h0M182.89 570.72h0M173.46 576.03h0M175.32 576.6h0M172.25 575.44h0M183.01 574.18h0M184.93 571.95h0M171.03 579.03h0M178.06 583.69h0M171.1 580.94h0M182.4 574.93h0M171.57 578.79h0M184.16 576.56h0M178.45 579.97h0M181.19 575.77h0M172.72 576.42h0M180 583.34h0M188.9 577.91h0M175.57 572.56h0M181.61 580.82h0M173.96 580.05h0M187.78 575.99h0M182.04 582.87h0M173.07 574.53h0M175.12 576.62h0M183.9 579.09h0M187.6 579.71h0M169.73 575.91h0M169.54 577.42h0M181.65 572.24h0M186.12 575.62h0M188.2 574.72h0M181.4 577.67h0M174.26 581.48h0M175.41 583.11h0M179.01 569.58h0M174.98 578.75h0M185.18 570.75h0M184.59 575.25h0M179.48 575.74h0M177.77 584.85h0M183.71 580.2h0M185.62 579.77h0M181.61 574h0" stroke="#1d8b3b" stroke-width="3.2" stroke-linecap="round" fill="none"/>
<path d="M147.48 590.1h0M149.53 576.37h0M141.89 591.47h0M165.28 587.55h0M140.12 578.02h0M143.12 585.42h0M162.66 586.94h0M162.17 570.9h0M163.59 587.9h0M154.45 573.63h0M164 570.89h0M167.52 577.96h0M161.59 587.24h0M161.69 590.25h0M166.97 569.97h0M161.02 573.43h0M149.09 576.2h0M167.68 569.45h0M167.93 579.91h0M159.65 580.48h0M161.48 576.08h0M151.58 585.87h0M159.67 589.3h0M148.66 588.36h0M160.64 581.76h0M151.43 581.61h0M141.36 585.2h0M160.48 582.78h0" stroke="#1d8b3b" stroke-width="3.2" stroke-linecap="round" fill="none"/>
<path d="M137.27 605.55h0M144.08 603.91h0M137.5 603.03h0M139.34 598.3h0M136.63 607.84h0M141.96 608.92h0M136.89 598.23h0M140.6 594.95h0M138.32 602.64h0" stroke="#1d8b3b" stroke-width="3.2" stroke-linecap="round" fill="none"/>
<path d="M204.2 567.83h0M208.57 567.02h0M208.94 567.37h0M198.82 565.83h0M227.13 566.73h0M187.8 566.41h0M192.24 567.6h0M188 566.18h0M204.69 565.65h0M193.9 566.89h0M191.41 566.04h0M193.94 566.55h0M196.91 566.88h0M198.54 566.62h0M182.9 568.28h0M215.96 566.41h0M182.11 566.86h0M223.42 566.06h0M191.47 568.01h0M222.98 565.27h0M205.06 566.97h0M187.39 566.92h0M210.46 567.04h0M210.92 566.9h0M199.36 565.98h0M182.77 568.29h0M221.82 567.19h0M185.51 568.05h0M189.9 566.91h0M191.24 568.11h0M219.71 567.1h0M199.58 568.06h0M193.97 567.35h0M212.95 565.9h0M199.54 566.05h0" stroke="#7080b0" stroke-width="3" stroke-linecap="round" fill="none"/>
<path d="M248.68 561.58h0M244.74 562.43h0M247.89 562.63h0M247.26 563.17h0M248.42 561.67h0" stroke="#7080b0" stroke-width="3" stroke-linecap="round" fill="none"/>
<path d="M274.4 557.05h0M269.7 557.87h0M267.16 558.89h0M280.26 557.24h0M267.27 558.52h0M275.48 557.8h0M266.23 558.38h0M275.1 558.06h0M267.42 559.96h0M269.89 559.01h0M274.4 557.5h0M281.09 556.39h0M272.79 558.33h0M279.67 558.23h0M278.33 557.29h0M277.54 557.7h0M281.57 557.82h0M278.02 556.5h0" stroke="#7080b0" stroke-width="3" stroke-linecap="round" fill="none"/>
<path d="M28.2 622.8V599.5M28.2 622.8H51.5" stroke="#4f6580" stroke-width="0.9" fill="none"/>
<path d="M26.5 600.5L28.2 596.8L29.9 600.5ZM50.5 621.1L54.2 622.8L50.5 624.5Z" fill="#4f6580" stroke="#4f6580" stroke-width="0.5"/>
<text x="24" y="614" font-size="8.2" text-anchor="middle" fill="#333" transform="rotate(-90 24 614)">FA 2</text>
<text x="31" y="633.5" font-size="8.2" text-anchor="start" fill="#333">FA 1</text>
<rect x="289.9" y="421.4" width="187.5" height="152.1" fill="none" stroke="#555" stroke-width="0.9"/>
<text x="383.5" y="418" font-size="10.8" text-anchor="middle" fill="#222">Original annotation</text>
<text x="383.5" y="585.4" font-size="9.6" text-anchor="middle" fill="#2a2a2a">UMAP 1</text>
<text x="286.5" y="494.8" font-size="9.8" text-anchor="middle" fill="#2a2a2a" transform="rotate(-90 286.5 494.8)">UMAP 2</text>
<path d="M346.39 451.41h0M304.45 463.28h0M331.6 473.93h0M308.61 451.06h0M330.13 441.87h0M309.67 469.89h0M342.95 492.74h0M330.38 434.1h0M329.95 442.99h0M344.51 456.02h0M327.79 428.81h0M339.82 433.21h0M349.11 497.91h0M332.68 430.61h0M354.06 434.65h0M321.32 463.25h0M351.57 436.4h0M311.7 465.27h0M327.41 446.83h0M314.33 461.5h0M351.24 465.97h0M344.5 441.01h0M348.18 459.48h0M345.29 467.08h0M328.32 457.29h0M350.64 455.57h0M340.73 450.09h0M306.29 454.07h0M314.01 438.4h0M329.01 474.93h0M325.22 474.63h0M349.53 431.75h0M345.52 489.4h0M326.92 468.42h0M344.57 451.14h0M326.14 440.68h0M331.53 441.13h0M309.13 465.2h0M345.52 442.52h0M319.14 443.51h0M324.8 449.56h0M314.51 439.35h0M330.61 463h0M350.12 453.33h0M306.36 460.87h0M327.61 448.9h0M345.77 439.35h0M333.47 465.92h0M323.86 441.51h0M354.62 463.8h0M334.85 459.19h0M341.88 464.09h0M314.43 468.13h0M350.8 465.92h0M329.17 471.8h0M338.06 471.17h0M341.31 438.71h0M336.53 481.36h0M326.78 445.04h0M330.81 461.08h0M320.91 458.08h0M325.73 454.87h0M304.9 464.9h0M317.62 463.31h0M342.7 443.77h0M349.45 459.08h0M311.38 464.11h0M345.26 449.75h0M304.55 452.01h0M333.85 464.9h0M347.44 429.64h0M298.38 454.54h0M326.09 432.88h0M355.96 462.67h0M305.71 454.68h0M356.35 440.16h0M354 434.75h0M329.38 426.91h0M315.18 460.57h0M340.51 460.08h0M347.18 491.52h0M451.9 454.4h0M465.9 473.4h0" stroke="#ad5a9e" stroke-width="5.2" stroke-linecap="round" fill="none"/>
<path d="M324.23 481.27h0M303.22 462.09h0M331.24 435.28h0M349.08 502.55h0M343.44 500.33h0M326.35 483.94h0M341.05 473.13h0M348.84 433.83h0M335.52 448.98h0M339.01 487.17h0M320.96 462.01h0M327.33 480.56h0M344.96 502.25h0M343.16 470.03h0M345.31 429.57h0M331.79 479.12h0M341.57 471.98h0M336.6 490.65h0M355.95 432.54h0M340.46 431.92h0M343.28 437.44h0M347.52 499.6h0M336.21 490.79h0M330.68 478.44h0M341.22 439.77h0M321.1 477.72h0M340.09 442.4h0M348.36 467.26h0M326.81 479.49h0M323.09 466.83h0M335.21 480.24h0M339.52 489.2h0M355.44 460.31h0M337.67 472.86h0M353.06 438.76h0M336.52 428.51h0M344.81 473.08h0M355.56 463.87h0M322.48 440.48h0M346.73 445.8h0M350.1 433.26h0M344.12 499.56h0M327.04 479.42h0M340.93 478.65h0" stroke="#c98dbd" stroke-width="5.2" stroke-linecap="round" fill="none"/>
<path d="M356.9 483.3h0M371.7 479.6h0M360.6 489.8h0M358.7 496.3h0M368 523.2h0M377.3 518.5h0M381 523.2h0M388.4 475.9h0M345.7 492.6h0M355 500h0M349.9 487.4h0" stroke="#dcaed2" stroke-width="5.2" stroke-linecap="round" fill="none"/>
<path d="M395.45 452.17h0M402.01 446.07h0M387.56 445.14h0M391.81 467.32h0M387.38 439.01h0M394.58 448.59h0M390.21 451.59h0M403.11 441.46h0M402.49 457.11h0M403.78 468.08h0M392.99 464.41h0M380.86 465.83h0M383.4 457.44h0M389.64 461.61h0M393.15 463.05h0M382.82 466.64h0M389.24 461h0M407.17 461.67h0M401.33 454.44h0M391.98 472.66h0M391.95 435.06h0M386.7 453.89h0M395.19 440.85h0M386.51 437.42h0M396.61 439.34h0M380.05 448.57h0M380.16 444.23h0M407.45 447.09h0M399.49 461.65h0M398.61 452.93h0M390.94 461.33h0M391.73 437.32h0M391.3 458h0M384.33 462.43h0M393.22 447.03h0M393.75 434.84h0M394.46 440.78h0M407.68 457.23h0M393.81 442.64h0M387.94 440.92h0M405.66 446.22h0M390.4 449.87h0M388.55 441.07h0M398.94 469.27h0M395.12 443.37h0M399.14 452.17h0M378.82 447.18h0M398.18 435.31h0M382.22 471.05h0M381.73 449.85h0M386.27 461.42h0M397.26 440.71h0M385.04 454.44h0M406.5 453.99h0M397.85 468.07h0M398.76 469.98h0M388.96 464.8h0M379.66 442.24h0M382.13 453.67h0M387.31 445.44h0M380.78 452.24h0M398.76 471.08h0M382.26 449.59h0M386.53 463.68h0M380.56 453.75h0M384.03 471.77h0M382.16 458.1h0M386.87 459.12h0M385.88 450.45h0M396.02 473.41h0M382.31 470.2h0M387.41 466.47h0M391.8 472.74h0M389.2 440.46h0M388.45 458.94h0M381.26 460.96h0M395.53 473.24h0M397.09 473.88h0M369.7 500.3h0M394.8 485.5h0M397.6 492h0M364.2 443.7h0M365.9 440.9h0M364.9 446.4h0" stroke="#d94f58" stroke-width="5.2" stroke-linecap="round" fill="none"/>
<path d="M393.82 525.85h0M395.68 505.58h0M364.82 512.38h0M397.7 500.55h0M363.3 483.87h0M394.6 501.29h0M360.58 500.7h0M406.71 522.94h0M381.41 510.72h0M385.41 518.48h0M367.5 505.18h0M406.78 528.05h0M393.9 519.24h0M375.81 511.88h0M373.66 493.58h0M377.44 509.67h0M364.35 486.23h0M364.16 485.09h0M359.81 501.1h0M395.25 499.57h0M390.3 505.06h0M368.35 495.26h0M377.62 491.06h0M392.3 494h0M364.27 510.58h0M361.05 491.81h0M386.16 491.38h0M383.63 492.03h0M389.94 520.64h0M362.41 491.94h0M398.54 499.98h0M353.78 505.55h0M405.93 529.36h0M394.23 524.36h0M395.99 523.52h0M378.49 512.18h0M368.63 492.29h0M372.97 501.85h0M391.48 522.14h0M356.66 509.05h0M395.2 496.49h0M361.66 506.63h0M366.59 502.06h0M399.03 522.57h0M385.97 516.17h0M395.06 505.28h0M394.43 525.85h0M366.88 493.6h0M399.97 502.71h0M374.41 509.08h0M376.2 497.9h0M388.82 495.47h0M391.91 493.27h0M371.6 486.01h0M385.61 501.69h0M380.52 499.83h0M368.02 484.98h0M358.25 507.73h0M360.74 498.24h0M392.33 507.5h0M371.99 513.32h0M387.19 524.98h0M383.44 522.47h0M390.77 497.68h0M385.05 505.04h0M372.45 510.25h0M369.23 500.83h0M355.3 490.52h0M357.58 498.88h0M396.41 515.89h0M392.33 505.32h0M380.07 494.33h0M375.42 493.42h0M365.4 506.38h0M366.32 505.87h0M360.39 478.93h0M357.4 488.16h0M366.4 488.94h0M376.52 512.61h0M394.55 500.92h0M390.41 495.88h0M356.19 491.92h0M361.6 511.9h0M371.54 518.87h0M383.87 509.78h0M359.68 508.05h0M373.62 510.87h0M398.83 513.14h0M367.27 482.57h0M377.07 499.74h0M356.9 434.4h0M360.9 437.4h0M362.9 440.4h0M375.3 454.8h0M460.61 443.43h0M448.92 452.57h0M457.23 479.53h0M467.27 451.47h0M459.88 476.12h0M457.33 472.79h0M465.35 454.55h0M463.44 451.31h0M462.38 477.42h0M455.47 467.09h0M448.91 446.09h0M465.31 455.11h0M460.18 453.78h0M463.71 444.09h0M448.54 452.8h0M459.68 469.01h0M463.4 449.57h0M467.76 463.76h0M467.97 469.72h0M449.81 447.98h0M465.5 479.77h0M464.89 474.84h0M454.16 458.58h0M467.05 458.28h0M449.82 454.13h0M449.58 455.21h0M453.02 456.59h0M449.25 455.57h0M468.92 465.31h0M458.81 472.72h0M460.56 461.71h0M466.48 475.08h0M467.81 468.72h0M451.18 442.96h0M450.75 445.73h0M453.58 448.77h0M464.56 483.92h0M462.45 450.32h0M467.81 462.73h0M463.54 483.1h0M464.15 468.13h0M460.82 456.72h0M457.73 459.88h0M462.7 470.81h0M462.96 465.2h0M454.23 450.49h0M459.95 457.54h0M461.29 476.46h0M462.72 473.23h0M468.32 447.54h0M460.03 452.81h0M455.49 458.45h0M464.66 462.25h0M454.3 449.64h0M452.66 459.47h0M469.43 466.59h0M458.43 449.7h0M455.55 470.89h0M462.28 465.54h0M466.11 460.49h0M437.9 455.4h0M445.9 454.4h0M450.9 466.4h0M428.4 558h0M433.9 561h0M436.9 562h0M427.9 566h0M431.9 563.4h0M434.9 564.4h0" stroke="#f4b731" stroke-width="5.2" stroke-linecap="round" fill="none"/>
<rect x="497.3" y="421.6" width="188.7" height="151.9" fill="none" stroke="#555" stroke-width="0.9"/>
<text x="591.6" y="418" font-size="10.8" text-anchor="middle" fill="#222">Prediction</text>
<text x="591.6" y="585.2" font-size="9.6" text-anchor="middle" fill="#2a2a2a">UMAP 1</text>
<text x="494" y="494.8" font-size="9.8" text-anchor="middle" fill="#2a2a2a" transform="rotate(-90 494 494.8)">UMAP 2</text>
<path d="M516.01 451.06h0M528.72 463.25h0M519.1 465.27h0M521.73 461.5h0M528.36 462.01h0M528.5 477.72h0M548.71 438.71h0M511.95 452.01h0M505.78 454.54h0M522.58 460.57h0M534.44 479.42h0M554.58 491.52h0" stroke="#ad5a9e" stroke-width="5.2" stroke-linecap="round" fill="none"/>
<path d="M509.65 461.08l4.4 4.4M509.65 465.48l4.4 -4.4M508.42 459.89l4.4 4.4M508.42 464.29l4.4 -4.4M534.21 472.73l4.4 4.4M534.21 477.13l4.4 -4.4M514.33 463l4.4 4.4M514.33 467.4l4.4 -4.4M510.1 462.7l4.4 4.4M510.1 467.1l4.4 -4.4M522.82 461.11l4.4 4.4M522.82 465.51l4.4 -4.4M547.9 441.57l4.4 4.4M547.9 445.97l4.4 -4.4M516.58 461.91l4.4 4.4M516.58 466.31l4.4 -4.4M539.05 462.7l4.4 4.4M539.05 467.1l4.4 -4.4M560.76 461.67l4.4 4.4M560.76 466.07l4.4 -4.4" stroke="#ad5a9e" stroke-width="1.7" fill="none"/>
<path d="M511.16 460.87h5.2M513.76 458.27v5.2" stroke="#ad5a9e" stroke-width="1.7" fill="none"/>
<path d="M517.07 469.89h0M550.35 492.74h0M535.19 428.81h0M547.22 433.21h0M550.56 470.03h0M539.19 479.12h0M521.41 438.4h0M552.92 489.4h0M554.92 499.6h0M543.61 490.79h0M551.97 451.14h0M532.2 449.56h0M521.91 439.35h0M542.61 480.24h0M562.02 463.8h0M533.13 454.87h0M556.85 459.08h0M529.88 440.48h0M554.84 429.64h0M513.11 454.68h0M561.4 434.75h0M547.91 460.08h0" stroke="#c98dbd" stroke-width="5.2" stroke-linecap="round" fill="none"/>
<path d="M536.8 471.73l4.4 4.4M536.8 476.13l4.4 -4.4M550.16 500.05l4.4 4.4M550.16 504.45l4.4 -4.4M533.52 455.09l4.4 4.4M533.52 459.49l4.4 -4.4M536.73 438.93l4.4 4.4M536.73 443.33l4.4 -4.4M550.97 437.15l4.4 4.4M550.97 441.55l4.4 -4.4M526.11 455.88l4.4 4.4M526.11 460.28l4.4 -4.4M550.46 447.55l4.4 4.4M550.46 451.95l4.4 -4.4M555.3 431.06l4.4 4.4M555.3 435.46l4.4 -4.4" stroke="#c98dbd" stroke-width="1.7" fill="none"/>
<path d="M534.93 441.87h5.2M537.53 439.27v5.2M532.21 446.83h5.2M534.81 444.23v5.2M528.66 441.51h5.2M531.26 438.91v5.2M535.61 461.08h5.2M538.21 458.48v5.2M560.76 462.67h5.2M563.36 460.07v5.2" stroke="#c98dbd" stroke-width="1.7" fill="none"/>
<path d="M531.63 481.27h0M537.78 434.1h0M550.84 500.33h0M551.91 456.02h0M556.51 497.91h0M548.45 473.13h0M542.92 448.98h0M558.64 465.97h0M546.41 487.17h0M551.9 441.01h0M552.69 467.08h0M558.04 455.57h0M548.13 450.09h0M513.69 454.07h0M552.71 429.57h0M544 490.65h0M563.35 432.54h0M532.62 474.63h0M556.93 431.75h0M538.08 478.44h0M548.62 439.77h0M534.32 468.42h0M534.21 479.49h0M538.01 463h0M545.07 472.86h0M557.52 453.33h0M535.01 448.9h0M549.28 464.09h0M521.83 468.13h0M558.2 465.92h0M536.57 471.8h0M533.49 432.88h0M563.75 440.16h0M551.52 499.56h0M536.78 426.91h0M548.33 478.65h0M567.98 500.7h0M571.75 486.23h0M576.03 492.29h0M574.28 493.6h0M568.14 498.24h0M576.63 500.83h0M562.7 490.52h0M563.59 491.92h0M574.67 482.57h0M579.1 479.6h0M575.4 523.2h0M588.4 523.2h0M595.8 475.9h0M553.1 492.6h0M562.4 500h0M557.3 487.4h0M568.3 437.4h0" stroke="#dcaed2" stroke-width="5.2" stroke-linecap="round" fill="none"/>
<path d="M536.44 433.08l4.4 4.4M536.44 437.48l4.4 -4.4M554.28 500.35l4.4 4.4M554.28 504.75l4.4 -4.4M535.15 440.79l4.4 4.4M535.15 445.19l4.4 -4.4M531.55 481.74l4.4 4.4M531.55 486.14l4.4 -4.4M537.88 428.41l4.4 4.4M537.88 432.81l4.4 -4.4M559.26 432.45l4.4 4.4M559.26 436.85l4.4 -4.4M556.77 434.2l4.4 4.4M556.77 438.6l4.4 -4.4M554.04 431.63l4.4 4.4M554.04 436.03l4.4 -4.4M532.53 478.36l4.4 4.4M532.53 482.76l4.4 -4.4M546.77 469.78l4.4 4.4M546.77 474.18l4.4 -4.4M545.66 429.72l4.4 4.4M545.66 434.12l4.4 -4.4M531.34 438.48l4.4 4.4M531.34 442.88l4.4 -4.4M545.29 440.2l4.4 4.4M545.29 444.6l4.4 -4.4M524.34 441.31l4.4 4.4M524.34 445.71l4.4 -4.4M553.56 465.06l4.4 4.4M553.56 469.46l4.4 -4.4M544.72 487l4.4 4.4M544.72 491.4l4.4 -4.4M558.26 436.56l4.4 4.4M558.26 440.96l4.4 -4.4M540.05 456.99l4.4 4.4M540.05 461.39l4.4 -4.4M543.26 468.97l4.4 4.4M543.26 473.37l4.4 -4.4M541.73 479.16l4.4 4.4M541.73 483.56l4.4 -4.4M531.98 442.84l4.4 4.4M531.98 447.24l4.4 -4.4M550.01 470.88l4.4 4.4M550.01 475.28l4.4 -4.4M566.25 489.61l4.4 4.4M566.25 494.01l4.4 -4.4M571.6 486.74l4.4 4.4M571.6 491.14l4.4 -4.4M565.8 487.6l4.4 4.4M565.8 492l4.4 -4.4M563.9 494.1l4.4 4.4M563.9 498.5l4.4 -4.4M582.5 516.3l4.4 4.4M582.5 520.7l4.4 -4.4" stroke="#dcaed2" stroke-width="1.7" fill="none"/>
<path d="M551.19 451.41h5.2M553.79 448.81v5.2M552.98 459.48h5.2M555.58 456.88v5.2M548.08 437.44h5.2M550.68 434.84v5.2M550.32 442.52h5.2M552.92 439.92v5.2M527.89 466.83h5.2M530.49 464.23v5.2M560.24 460.31h5.2M562.84 457.71v5.2M538.27 465.92h5.2M540.87 463.32v5.2M541.32 428.51h5.2M543.92 425.91v5.2M551.53 445.8h5.2M554.13 443.2v5.2M561.7 483.3h5.2M564.3 480.7v5.2M561.7 434.4h5.2M564.3 431.8v5.2" stroke="#dcaed2" stroke-width="1.7" fill="none"/>
<path d="M609.41 446.07h0M594.78 439.01h0M601.98 448.59h0M611.18 468.08h0M588.26 465.83h0M590.8 457.44h0M597.04 461.61h0M600.55 463.05h0M590.22 466.64h0M596.64 461h0M614.57 461.67h0M599.35 435.06h0M594.1 453.89h0M593.91 437.42h0M614.85 447.09h0M606.01 452.93h0M598.34 461.33h0M599.13 437.32h0M598.7 458h0M600.62 447.03h0M601.15 434.84h0M615.08 457.23h0M613.06 446.22h0M595.95 441.07h0M602.52 443.37h0M586.22 447.18h0M605.58 435.31h0M592.44 454.44h0M613.9 453.99h0M596.36 464.8h0M588.18 452.24h0M589.66 449.59h0M593.93 463.68h0M594.27 459.12h0M593.28 450.45h0M603.42 473.41h0M589.71 470.2h0M599.2 472.74h0M596.6 440.46h0M602.93 473.24h0M604.49 473.88h0M577.1 500.3h0M605 492h0" stroke="#d94f58" stroke-width="5.2" stroke-linecap="round" fill="none"/>
<path d="M595.41 449.39l4.4 4.4M595.41 453.79l4.4 -4.4M608.31 439.26l4.4 4.4M608.31 443.66l4.4 -4.4M607.69 454.91l4.4 4.4M607.69 459.31l4.4 -4.4M598.19 462.21l4.4 4.4M598.19 466.61l4.4 -4.4M606.53 452.24l4.4 4.4M606.53 456.64l4.4 -4.4M597.18 470.46l4.4 4.4M597.18 474.86l4.4 -4.4M600.39 438.65l4.4 4.4M600.39 443.05l4.4 -4.4M585.25 446.37l4.4 4.4M585.25 450.77l4.4 -4.4M604.69 459.45l4.4 4.4M604.69 463.85l4.4 -4.4M589.53 460.23l4.4 4.4M589.53 464.63l4.4 -4.4M599.66 438.58l4.4 4.4M599.66 442.98l4.4 -4.4M599.01 440.44l4.4 4.4M599.01 444.84l4.4 -4.4M604.14 467.07l4.4 4.4M604.14 471.47l4.4 -4.4M604.34 449.97l4.4 4.4M604.34 454.37l4.4 -4.4M586.93 447.65l4.4 4.4M586.93 452.05l4.4 -4.4M591.47 459.22l4.4 4.4M591.47 463.62l4.4 -4.4M603.05 465.87l4.4 4.4M603.05 470.27l4.4 -4.4M603.96 467.78l4.4 4.4M603.96 472.18l4.4 -4.4M592.51 443.24l4.4 4.4M592.51 447.64l4.4 -4.4M603.96 468.88l4.4 4.4M603.96 473.28l4.4 -4.4M585.76 451.55l4.4 4.4M585.76 455.95l4.4 -4.4M589.23 469.57l4.4 4.4M589.23 473.97l4.4 -4.4M587.36 455.9l4.4 4.4M587.36 460.3l4.4 -4.4M592.61 464.27l4.4 4.4M592.61 468.67l4.4 -4.4M593.65 456.74l4.4 4.4M593.65 461.14l4.4 -4.4M586.46 458.76l4.4 4.4M586.46 463.16l4.4 -4.4M600 483.3l4.4 4.4M600 487.7l4.4 -4.4M569.4 441.5l4.4 4.4M569.4 445.9l4.4 -4.4M570.1 444.2l4.4 4.4M570.1 448.6l4.4 -4.4" stroke="#d94f58" stroke-width="1.7" fill="none"/>
<path d="M600.25 452.17h5.2M602.85 449.57v5.2M592.36 445.14h5.2M594.96 442.54v5.2M596.61 467.32h5.2M599.21 464.72v5.2M601.41 439.34h5.2M604.01 436.74v5.2M584.96 444.23h5.2M587.56 441.63v5.2M592.74 440.92h5.2M595.34 438.32v5.2M595.2 449.87h5.2M597.8 447.27v5.2M587.02 471.05h5.2M589.62 468.45v5.2M602.06 440.71h5.2M604.66 438.11v5.2M584.46 442.24h5.2M587.06 439.64v5.2M586.93 453.67h5.2M589.53 451.07v5.2M570.7 440.9h5.2M573.3 438.3v5.2" stroke="#d94f58" stroke-width="1.7" fill="none"/>
<path d="M601.22 525.85h0M572.22 512.38h0M592.81 518.48h0M574.9 505.18h0M583.21 511.88h0M581.06 493.58h0M597.7 505.06h0M575.75 495.26h0M585.02 491.06h0M593.56 491.38h0M597.34 520.64h0M605.94 499.98h0M561.18 505.55h0M613.33 529.36h0M601.63 524.36h0M585.89 512.18h0M580.37 501.85h0M564.06 509.05h0M602.6 496.49h0M569.06 506.63h0M606.43 522.57h0M593.37 516.17h0M601.83 525.85h0M607.37 502.71h0M581.81 509.08h0M596.22 495.47h0M599.31 493.27h0M579 486.01h0M587.92 499.83h0M594.59 524.98h0M590.84 522.47h0M598.17 497.68h0M592.45 505.04h0M579.85 510.25h0M599.73 505.32h0M573.72 505.87h0M583.92 512.61h0M578.94 518.87h0M591.27 509.78h0M606.23 513.14h0M582.7 454.8h0M667.28 476.12h0M670.84 451.31h0M675.37 469.72h0M667.96 461.71h0M670.1 470.81h0M658.3 466.4h0M635.8 558h0M639.3 563.4h0M642.3 564.4h0" stroke="#f4b731" stroke-width="5.2" stroke-linecap="round" fill="none"/>
<path d="M600.88 503.38l4.4 4.4M600.88 507.78l4.4 -4.4M602.9 498.35l4.4 4.4M602.9 502.75l4.4 -4.4M568.5 481.67l4.4 4.4M568.5 486.07l4.4 -4.4M611.91 520.74l4.4 4.4M611.91 525.14l4.4 -4.4M586.61 508.52l4.4 4.4M586.61 512.92l4.4 -4.4M611.98 525.85l4.4 4.4M611.98 530.25l4.4 -4.4M599.1 517.04l4.4 4.4M599.1 521.44l4.4 -4.4M582.64 507.47l4.4 4.4M582.64 511.87l4.4 -4.4M569.36 482.89l4.4 4.4M569.36 487.29l4.4 -4.4M565.01 498.9l4.4 4.4M565.01 503.3l4.4 -4.4M600.45 497.37l4.4 4.4M600.45 501.77l4.4 -4.4M597.5 491.8l4.4 4.4M597.5 496.2l4.4 -4.4M569.47 508.38l4.4 4.4M569.47 512.78l4.4 -4.4M567.61 489.74l4.4 4.4M567.61 494.14l4.4 -4.4M601.19 521.32l4.4 4.4M601.19 525.72l4.4 -4.4M596.68 519.94l4.4 4.4M596.68 524.34l4.4 -4.4M571.79 499.86l4.4 4.4M571.79 504.26l4.4 -4.4M590.81 499.49l4.4 4.4M590.81 503.89l4.4 -4.4M573.22 482.78l4.4 4.4M573.22 487.18l4.4 -4.4M563.45 505.53l4.4 4.4M563.45 509.93l4.4 -4.4M597.53 505.3l4.4 4.4M597.53 509.7l4.4 -4.4M562.78 496.68l4.4 4.4M562.78 501.08l4.4 -4.4M585.27 492.13l4.4 4.4M585.27 496.53l4.4 -4.4M580.62 491.22l4.4 4.4M580.62 495.62l4.4 -4.4M570.6 504.18l4.4 4.4M570.6 508.58l4.4 -4.4M562.6 485.96l4.4 4.4M562.6 490.36l4.4 -4.4M599.75 498.72l4.4 4.4M599.75 503.12l4.4 -4.4M566.8 509.7l4.4 4.4M566.8 514.1l4.4 -4.4M564.88 505.85l4.4 4.4M564.88 510.25l4.4 -4.4M582.27 497.54l4.4 4.4M582.27 501.94l4.4 -4.4M568.1 438.2l4.4 4.4M568.1 442.6l4.4 -4.4M672.47 449.27l4.4 4.4M672.47 453.67l4.4 -4.4M670.55 452.35l4.4 4.4M670.55 456.75l4.4 -4.4M660.67 464.89l4.4 4.4M660.67 469.29l4.4 -4.4M670.51 452.91l4.4 4.4M670.51 457.31l4.4 -4.4M668.91 441.89l4.4 4.4M668.91 446.29l4.4 -4.4M664.88 466.81l4.4 4.4M664.88 471.21l4.4 -4.4M668.6 447.37l4.4 4.4M668.6 451.77l4.4 -4.4M672.96 461.56l4.4 4.4M672.96 465.96l4.4 -4.4M670.7 477.57l4.4 4.4M670.7 481.97l4.4 -4.4M670.09 472.64l4.4 4.4M670.09 477.04l4.4 -4.4M672.25 456.08l4.4 4.4M672.25 460.48l4.4 -4.4M673.01 466.52l4.4 4.4M673.01 470.92l4.4 -4.4M667.65 448.12l4.4 4.4M667.65 452.52l4.4 -4.4M673.01 460.53l4.4 4.4M673.01 464.93l4.4 -4.4M662.93 457.68l4.4 4.4M662.93 462.08l4.4 -4.4M668.16 463l4.4 4.4M668.16 467.4l4.4 -4.4M666.49 474.26l4.4 4.4M666.49 478.66l4.4 -4.4M667.92 471.03l4.4 4.4M667.92 475.43l4.4 -4.4M673.52 445.34l4.4 4.4M673.52 449.74l4.4 -4.4M669.86 460.05l4.4 4.4M669.86 464.45l4.4 -4.4M657.86 457.27l4.4 4.4M657.86 461.67l4.4 -4.4M674.63 464.39l4.4 4.4M674.63 468.79l4.4 -4.4M660.75 468.69l4.4 4.4M660.75 473.09l4.4 -4.4M667.48 463.34l4.4 4.4M667.48 467.74l4.4 -4.4M671.31 458.29l4.4 4.4M671.31 462.69l4.4 -4.4M639.1 558.8l4.4 4.4M639.1 563.2l4.4 -4.4" stroke="#f4b731" stroke-width="1.7" fill="none"/>
<path d="M599.4 501.29h5.2M602 498.69v5.2M588.43 492.03h5.2M591.03 489.43v5.2M599.86 505.28h5.2M602.46 502.68v5.2M581 497.9h5.2M583.6 495.3v5.2M576.79 513.32h5.2M579.39 510.72v5.2M601.21 515.89h5.2M603.81 513.29v5.2M565.19 478.93h5.2M567.79 476.33v5.2M595.21 495.88h5.2M597.81 493.28v5.2M578.42 510.87h5.2M581.02 508.27v5.2M641.7 562h5.2M644.3 559.4v5.2M632.7 566h5.2M635.3 563.4v5.2" stroke="#f4b731" stroke-width="1.7" fill="none"/>
<path d="M662.43 477.33l4.4 4.4M662.43 481.73l4.4 -4.4M667.58 475.22l4.4 4.4M667.58 479.62l4.4 -4.4M671.68 472.88l4.4 4.4M671.68 477.28l4.4 -4.4M669.76 481.72l4.4 4.4M669.76 486.12l4.4 -4.4M668.74 480.9l4.4 4.4M668.74 485.3l4.4 -4.4" stroke="#cfe1f3" stroke-width="1.7" fill="none"/>
<path d="M676.32 465.31h0" stroke="#bdd5ee" stroke-width="5.2" stroke-linecap="round" fill="none"/>
<path d="M665.81 441.23l4.4 4.4M665.81 445.63l4.4 -4.4M662.53 470.59l4.4 4.4M662.53 474.99l4.4 -4.4M665.38 451.58l4.4 4.4M665.38 455.98l4.4 -4.4M655.01 445.78l4.4 4.4M655.01 450.18l4.4 -4.4M659.36 456.38l4.4 4.4M659.36 460.78l4.4 -4.4M654.45 453.37l4.4 4.4M654.45 457.77l4.4 -4.4M664.01 470.52l4.4 4.4M664.01 474.92l4.4 -4.4M656.38 440.76l4.4 4.4M656.38 445.16l4.4 -4.4M669.35 465.93l4.4 4.4M669.35 470.33l4.4 -4.4M666.02 454.52l4.4 4.4M666.02 458.92l4.4 -4.4M659.5 447.44l4.4 4.4M659.5 451.84l4.4 -4.4M657.1 452.2l4.4 4.4M657.1 456.6l4.4 -4.4M671.1 471.2l4.4 4.4M671.1 475.6l4.4 -4.4" stroke="#bdd5ee" stroke-width="1.7" fill="none"/>
<path d="M667.43 452.81h0" stroke="#abc9ea" stroke-width="5.2" stroke-linecap="round" fill="none"/>
<path d="M654.12 450.37l4.4 4.4M654.12 454.77l4.4 -4.4M654.11 443.89l4.4 4.4M654.11 448.29l4.4 -4.4M653.74 450.6l4.4 4.4M653.74 455l4.4 -4.4M655.02 451.93l4.4 4.4M655.02 456.33l4.4 -4.4M654.78 453.01l4.4 4.4M654.78 457.41l4.4 -4.4M658.22 454.39l4.4 4.4M658.22 458.79l4.4 -4.4M655.95 443.53l4.4 4.4M655.95 447.93l4.4 -4.4M658.78 446.57l4.4 4.4M658.78 450.97l4.4 -4.4M659.43 448.29l4.4 4.4M659.43 452.69l4.4 -4.4M665.15 455.34l4.4 4.4M665.15 459.74l4.4 -4.4M660.69 456.25l4.4 4.4M660.69 460.65l4.4 -4.4M663.63 447.5l4.4 4.4M663.63 451.9l4.4 -4.4M643.1 453.2l4.4 4.4M643.1 457.6l4.4 -4.4M651.1 452.2l4.4 4.4M651.1 456.6l4.4 -4.4" stroke="#abc9ea" stroke-width="1.7" fill="none"/>
<ellipse cx="664.3" cy="462.4" rx="20.6" ry="26.6" fill="none" stroke="#222" stroke-width="1.2" stroke-dasharray="3.4 2.6"/>
<circle cx="205.9" cy="602.8" r="2.6" fill="#7080b0"/>
<text x="211.7" y="605.4" font-size="7.3" text-anchor="start" fill="#444">Prelineage</text>
<circle cx="205.9" cy="615.3" r="2.6" fill="#1d8b3b"/>
<text x="211.7" y="617.9" font-size="7.3" text-anchor="start" fill="#444">8C 3.0</text>
<circle cx="205.9" cy="627.8" r="2.6" fill="#5b70c0"/>
<text x="211.7" y="630.4" font-size="7.3" text-anchor="start" fill="#444">Morula 4.0</text>
<circle cx="263.4" cy="602.8" r="2.6" fill="#f4b731"/>
<text x="269.2" y="605.4" font-size="7.3" text-anchor="start" fill="#444">ICM</text>
<circle cx="263.4" cy="615.3" r="2.6" fill="#d94f58"/>
<text x="269.2" y="617.9" font-size="7.3" text-anchor="start" fill="#444">PrE</text>
<circle cx="263.4" cy="627.8" r="2.6" fill="#dcaed2"/>
<text x="269.2" y="630.4" font-size="7.3" text-anchor="start" fill="#444">EPI 6.0</text>
<circle cx="309.1" cy="602.8" r="2.6" fill="#c98dbd"/>
<text x="314.9" y="605.4" font-size="7.3" text-anchor="start" fill="#444">EPI 7.0</text>
<circle cx="309.1" cy="615.3" r="2.6" fill="#ad5a9e"/>
<text x="314.9" y="617.9" font-size="7.3" text-anchor="start" fill="#444">Late EPI</text>
<circle cx="309.1" cy="627.8" r="2.6" fill="#cfe1f3"/>
<text x="314.9" y="630.4" font-size="7.3" text-anchor="start" fill="#444">TE 5.0</text>
<circle cx="358" cy="602.8" r="2.6" fill="#bdd5ee"/>
<text x="363.8" y="605.4" font-size="7.3" text-anchor="start" fill="#444">TE 6.0</text>
<circle cx="358" cy="615.3" r="2.6" fill="#abc9ea"/>
<text x="363.8" y="617.9" font-size="7.3" text-anchor="start" fill="#444">TE 7.0</text>
<circle cx="358" cy="627.8" r="2.6" fill="#93b8e2"/>
<text x="363.8" y="630.4" font-size="7.3" text-anchor="start" fill="#444">TE 8.0</text>
<circle cx="401.4" cy="601.5" r="2.6" fill="#6aa0da"/>
<text x="407.2" y="604.1" font-size="7.3" text-anchor="start" fill="#444">TE 9.0</text>
<circle cx="401.4" cy="614" r="2.6" fill="#4283c8"/>
<text x="407.2" y="616.6" font-size="7.3" text-anchor="start" fill="#444">TE 10.0</text>
<circle cx="449.4" cy="599.9" r="1.8" fill="#222"/>
<path d="M447.6 609.8l3.6 3.6M447.6 613.4l3.6 -3.6" stroke="#222" stroke-width="1"/>
<rect x="447.7" y="620.4" width="3.4" height="3.4" fill="#222"/>
<path d="M449.4 630.9v4M447.4 632.9h4" stroke="#222" stroke-width="1.1"/>
<text x="454.5" y="602.5" font-size="7.3" text-anchor="start" fill="#444">Petropoulos et al., 2016</text>
<text x="454.5" y="614.2" font-size="7.3" text-anchor="start" fill="#444">Xiang et al., 2020</text>
<text x="454.5" y="624.7" font-size="7.3" text-anchor="start" fill="#444">Yan et al., 2013</text>
<text x="454.5" y="635.5" font-size="7.3" text-anchor="start" fill="#444">Yanagida et al., 2021</text>
<text x="-0.5" y="666.4" font-size="16" text-anchor="start" fill="#111" font-weight="bold">f</text>
<text x="119" y="667.1" font-size="10" text-anchor="middle" fill="#222" font-style="italic">GATA3</text>
<path d="M44.57 720.59h0M77.85 743.44h0M38.12 712.79h0M46.6 715.97h0M83.08 710.18h0M63.22 707.99h0M63.91 725.63h0M60.12 725.33h0M56 728.42h0M57.99 717.53h0M65.51 713.7h0M55.81 708.78h0M68.75 715.6h0M133.66 720.68h0M102.4 755.88h0M108.56 744.28h0M94.71 751.8h0M130.15 750.27h0M127.2 744.7h0M113.39 762.88h0M103.53 742.99h0M91.56 759.75h0M101.49 752.76h0M120.87 766.87h0M134.87 753.41h0M109.31 759.78h0M123.72 746.17h0M120.51 752.39h0M122.09 775.68h0M125.67 748.38h0M127.23 756.02h0M114.97 745.03h0M101.3 739.64h0M91.09 742.62h0M106.6 730.3h0M95.5 740.5h0M102.9 773.9h0M110.2 705.5h0" stroke="#053061" stroke-width="5.2" stroke-linecap="round" fill="none"/>
<path d="M81.29 702.11h0M66.5 724.63h0M43.51 701.76h0M59.13 731.97h0M83.98 753.25h0M78.34 751.03h0M84.01 748.61h0M70.42 699.68h0M49.23 712.2h0M55.86 712.71h0M62.23 731.26h0M79.86 752.95h0M78.06 720.73h0M41.19 704.77h0M66.69 729.82h0M76.47 722.68h0M65.58 729.14h0M79.47 701.84h0M74.99 693.1h0M44.03 715.9h0M80.42 693.22h0M54.04 694.21h0M83.26 717.96h0M61.71 730.19h0M70.11 730.94h0M74.42 739.9h0M90.34 711.01h0M72.57 723.56h0M85.02 704.03h0M41.26 711.57h0M68.37 716.62h0M89.52 714.5h0M69.75 709.89h0M76.78 714.79h0M49.33 718.83h0M64.07 722.5h0M72.96 721.87h0M71.43 732.06h0M60.63 705.57h0M79.71 723.78h0M46.28 714.81h0M80.16 700.45h0M90.46 714.57h0M33.28 705.24h0M40.61 705.38h0M79.02 750.26h0M75.83 729.35h0M75.41 710.78h0M82.08 742.22h0M138.68 718.78h0M126.88 723.36h0M134.39 712.35h0M132.75 718.77h0M131.99 724.58h0M130.58 756.28h0M99.72 763.08h0M132.6 751.25h0M98.2 734.57h0M129.5 751.99h0M95.48 751.4h0M99.25 736.93h0M125.2 755.76h0M103.25 745.96h0M99.17 761.28h0M121.06 742.08h0M133.44 750.68h0M88.68 756.25h0M106.5 736.71h0M115.42 750.53h0M127.23 758.2h0M119.95 755.74h0M107.35 760.95h0M110.32 744.12h0M100.3 757.08h0M101.22 756.57h0M92.3 738.86h0M106.44 769.57h0M102.17 733.27h0M93.6 747h0M89.9 750.7h0M95.8 688.1h0M97.8 691.1h0" stroke="#0c3e74" stroke-width="5.2" stroke-linecap="round" fill="none"/>
<path d="M65.03 692.57h0M64.85 693.69h0M56.22 713.95h0M62.31 697.53h0M86.14 716.67h0M73.91 737.87h0M80.19 717.78h0M75.63 700.79h0M80.42 740.1h0M71.11 741.49h0M58.76 692.21h0M65.71 711.78h0M39.8 715.6h0M84.35 709.78h0M126.7 723.44h0M130.43 723.94h0M116.31 761.42h0M112.52 741.76h0M97.31 742.64h0M129.96 755.98h0M118.34 773.17h0M90.2 741.22h0M125.31 746.58h0M96.5 762.6h0M118.77 760.48h0M108.52 761.57h0M112.2 769.2h0M115.9 773.9h0M80.6 743.3h0M84.8 738.1h0" stroke="#134b86" stroke-width="5.2" stroke-linecap="round" fill="none"/>
<path d="M61.25 734.64h0M141.68 778.75h0M93.15 758.43h0" stroke="#2166ac" stroke-width="5.2" stroke-linecap="round" fill="none"/>
<path d="M71.5 741.35h0M39.45 702.71h0M137.39 707.81h0M95.95 742.51h0M126.38 772.84h0M96.56 757.33h0M95.29 729.63h0" stroke="#2a71b2" stroke-width="5.2" stroke-linecap="round" fill="none"/>
<path d="M79.41 706.72h0M62.51 699.6h0M61.68 695.74h0M77.6 694.47h0M126.71 718.02h0M129.48 699.29h0M125.84 712.03h0M113.72 697.88h0M117.03 704.37h0M121.77 709.82h0M120.31 769.18h0M124.84 771.34h0M129.13 775.06h0M130.89 774.22h0M131.31 766.59h0M94.58 758.75h0M132.5 742.7h0M91.8 685.1h0" stroke="#327cb8" stroke-width="5.2" stroke-linecap="round" fill="none"/>
<path d="M39.35 713.98h0M48.91 689.1h0M78.18 688.14h0M87.96 689.46h0M81.63 696.5h0M61.94 730.12h0M130.35 702.87h0M136.91 696.77h0M142.07 712.37h0M121.6 704.59h0M142.35 697.79h0M133.51 703.63h0M134.04 702.87h0M130.92 724.11h0M122.31 717.17h0M110.71 762.58h0M99.06 735.79h0M130.1 747.19h0M92.48 749.58h0M169.8 815.1h0" stroke="#3a88bd" stroke-width="5.2" stroke-linecap="round" fill="none"/>
<path d="M85.54 706.27h0M84.43 682.45h0M59.7 700.26h0M85.7 716.62h0M52.52 714.01h0M50.08 711.27h0M125.11 702.29h0M115.76 716.53h0M116.63 700.55h0M102.92 735.68h0M104.13 751.53h0M111.42 763.31h0M129.45 751.62h0M91.8 734h0M129.7 736.2h0" stroke="#4393c3" stroke-width="5.2" stroke-linecap="round" fill="none"/>
<path d="M65.28 684.8h0M75.95 723.83h0M79.4 691.71h0M71.42 679.21h0M90.86 713.37h0M64.28 677.61h0M124.54 712.31h0M136.23 705.14h0M123.86 715.5h0M123.35 709.64h0M129.33 776.55h0M101.78 744.3h0M111.1 748.6h0M123.3 726.6h0M163.3 808.7h0M171.8 812.7h0" stroke="#57a0ca" stroke-width="5.2" stroke-linecap="round" fill="none"/>
<path d="M74.72 683.91h0M90.85 683.24h0M82.42 750.3h0M61.82 719.12h0M66.43 691.83h0M60.99 683.58h0M88.9 685.45h0M127.89 715.11h0M128.05 713.75h0M119.23 713.13h0M125.3 700.57h0M115.68 702.94h0M133.66 721.78h0M115.46 704.45h0M128.72 776.55h0M128.8 769.94h0M107.87 752.55h0M126.81 743.97h0M106.89 764.02h0M111.97 750.44h0" stroke="#6aacd0" stroke-width="5.2" stroke-linecap="round" fill="none"/>
<path d="M66.14 685.98h0M88.96 685.35h0M49.41 690.05h0M80.67 690.05h0M133.84 719.97h0M141.4 704.69h0M117.16 700.29h0M112.34 760.37h0M118.53 742.73h0M133.93 773.27h0M95.64 748.94h0M133.73 763.84h0M162.8 816.7h0" stroke="#7eb8d7" stroke-width="5.2" stroke-linecap="round" fill="none"/>
<path d="M62.69 679.51h0M57.38 691.18h0M85 683.96h0M142.58 707.93h0M118.93 722.47h0M168.8 811.7h0M166.8 814.1h0" stroke="#92c5de" stroke-width="5.2" stroke-linecap="round" fill="none"/>
<path d="M140.83 780.06h0M99.8 697.1h0" stroke="#a2cde2" stroke-width="5.2" stroke-linecap="round" fill="none"/>
<path d="M140.56 696.92h0M117.12 721.75h0M119.94 705.14h0M122.21 696.14h0M141.61 773.64h0" stroke="#b2d5e7" stroke-width="5.2" stroke-linecap="round" fill="none"/>
<path d="M126.2 708.7h0M128.12 697.73h0M121.43 714.38h0M120.78 701.15h0M117.21 720.9h0M116.16 711.66h0" stroke="#c1ddec" stroke-width="5.2" stroke-linecap="round" fill="none"/>
<path d="M80.21 680.27h0M75.36 682.62h0M61.04 691.38h0M118.3 708.14h0M124.14 711.7h0M114.95 699.27h0M121.17 712.12h0M104.6 751h0" stroke="#d1e5f0" stroke-width="5.2" stroke-linecap="round" fill="none"/>
<path d="M76.21 689.41h0M117.72 717.34h0M117.06 708.8h0" stroke="#daeaf2" stroke-width="5.2" stroke-linecap="round" fill="none"/>
<path d="M86.47 687.1h0" stroke="#e4eef4" stroke-width="5.2" stroke-linecap="round" fill="none"/>
<path d="M83.74 684.53h0M76.12 690.47h0M82.34 680.34h0M91.25 690.86h0M190.37 717.79h0" stroke="#eef2f5" stroke-width="5.2" stroke-linecap="round" fill="none"/>
<path d="M67.58 681.31h0M122.84 691.62h0M123.45 691.77h0M188.48 699.47h0M196.19 727.16h0M203.22 698.24h0M197.18 716.24h0" stroke="#f8f0eb" stroke-width="5.2" stroke-linecap="round" fill="none"/>
<path d="M202.71 719.42h0" stroke="#fae9df" stroke-width="5.2" stroke-linecap="round" fill="none"/>
<path d="M128.65 685.54h0M100.8 691.6h0" stroke="#fce2d3" stroke-width="5.2" stroke-linecap="round" fill="none"/>
<path d="M121.41 688.12h0M133.08 686.01h0M114.56 692.94h0" stroke="#fddbc7" stroke-width="5.2" stroke-linecap="round" fill="none"/>
<path d="M122.46 695.84h0M131.51 690.04h0M124.1 691.16h0M189.06 709.28h0M202.71 713.43h0M194.85 708.24h0" stroke="#fbceb6" stroke-width="5.2" stroke-linecap="round" fill="none"/>
<path d="M138.01 692.16h0M126.85 685.76h0M129.36 691.48h0M202.17 702.17h0M192.23 723.49h0M184.72 704.83h0M198.44 733.8h0M197.6 721.51h0" stroke="#f8c0a4" stroke-width="5.2" stroke-linecap="round" fill="none"/>
<path d="M115.06 694.93h0M128.71 693.34h0M130.02 694.07h0M99.1 694.4h0M197.28 728.12h0M193.71 723.42h0M193.33 700.4h0M200.8 724.1h0" stroke="#f6b293" stroke-width="5.2" stroke-linecap="round" fill="none"/>
<path d="M122.28 689.71h0M132.16 691.41h0M195.51 694.13h0M200.4 730.47h0M201.95 708.98h0M187.92 707.29h0M192.63 710.58h0M189.2 700.34h0M204.33 717.29h0M186.8 705.1h0" stroke="#f4a582" stroke-width="5.2" stroke-linecap="round" fill="none"/>
<path d="M130.09 691.55h0M126.63 688.02h0M198.61 694.79h0M202.87 720.42h0M199.05 718.83h0M197.86 715.9h0M197.62 723.93h0M194.93 703.51h0M201.01 711.19h0M180.8 705.1h0" stroke="#ec9475" stroke-width="5.2" stroke-linecap="round" fill="none"/>
<path d="M199.79 725.54h0M186.08 693.66h0M195.72 707.42h0" stroke="#e58268" stroke-width="5.2" stroke-linecap="round" fill="none"/>
<path d="M202.66 714.46h0M184.71 698.68h0M201.38 725.78h0M190.39 709.15h0M172.8 706.1h0" stroke="#de715a" stroke-width="5.2" stroke-linecap="round" fill="none"/>
<path d="M198.3 700.27h0M199.46 734.62h0M189.13 701.19h0" stroke="#d6604d" stroke-width="5.2" stroke-linecap="round" fill="none"/>
<path d="M192.13 730.23h0M195.08 704.48h0M183.44 703.5h0M185.65 696.43h0" stroke="#cd4e44" stroke-width="5.2" stroke-linecap="round" fill="none"/>
<path d="M203.82 716.01h0M197.35 701.02h0M199.56 712.95h0M187.56 710.17h0" stroke="#c43c3c" stroke-width="5.2" stroke-linecap="round" fill="none"/>
<path d="M198.34 702.01h0M195.46 712.41h0" stroke="#bb2a34" stroke-width="5.2" stroke-linecap="round" fill="none"/>
<path d="M183.82 703.27h0M200.25 705.25h0M184.15 706.27h0M190.45 721.59h0" stroke="#b2182b" stroke-width="5.2" stroke-linecap="round" fill="none"/>
<path d="M183.81 696.79h0M185.8 717.1h0" stroke="#9f1228" stroke-width="5.2" stroke-linecap="round" fill="none"/>
<path d="M194.78 726.82h0M184.48 705.91h0" stroke="#8c0c25" stroke-width="5.2" stroke-linecap="round" fill="none"/>
<path d="M200.21 705.81h0M194.58 719.71h0" stroke="#7a0622" stroke-width="5.2" stroke-linecap="round" fill="none"/>
<defs><linearGradient id="cb857" x1="0" y1="0" x2="0" y2="1"><stop offset="0" stop-color="#67001f"/><stop offset="0.05" stop-color="#8c0c25"/><stop offset="0.1" stop-color="#b2182b"/><stop offset="0.15" stop-color="#c43c3c"/><stop offset="0.2" stop-color="#d6604d"/><stop offset="0.25" stop-color="#e58268"/><stop offset="0.3" stop-color="#f4a582"/><stop offset="0.35" stop-color="#f8c0a4"/><stop offset="0.4" stop-color="#fddbc7"/><stop offset="0.45" stop-color="#fae9df"/><stop offset="0.5" stop-color="#f7f7f7"/><stop offset="0.55" stop-color="#e4eef4"/><stop offset="0.6" stop-color="#d1e5f0"/><stop offset="0.65" stop-color="#b2d5e7"/><stop offset="0.7" stop-color="#92c5de"/><stop offset="0.75" stop-color="#6aacd0"/><stop offset="0.8" stop-color="#4393c3"/><stop offset="0.85" stop-color="#327db8"/><stop offset="0.9" stop-color="#2166ac"/><stop offset="0.95" stop-color="#134b87"/><stop offset="1" stop-color="#053061"/></linearGradient></defs>
<rect x="214.2" y="671.3" width="5.5" height="150" fill="url(#cb857)" stroke="#444" stroke-width="0.5"/>
<text x="225.2" y="824.5" font-size="9" text-anchor="start" fill="#444">0</text>
<text x="225.2" y="800.54" font-size="9" text-anchor="start" fill="#444">0.5</text>
<text x="225.2" y="776.58" font-size="9" text-anchor="start" fill="#444">1.0</text>
<text x="225.2" y="752.62" font-size="9" text-anchor="start" fill="#444">1.5</text>
<text x="225.2" y="728.65" font-size="9" text-anchor="start" fill="#444">2.0</text>
<text x="225.2" y="704.69" font-size="9" text-anchor="start" fill="#444">2.5</text>
<text x="225.2" y="680.73" font-size="9" text-anchor="start" fill="#444">3.0</text>
<path d="M219.7 821.3h2M219.7 797.34h2M219.7 773.38h2M219.7 749.42h2M219.7 725.45h2M219.7 701.49h2M219.7 677.53h2" stroke="#555" stroke-width="0.6"/>
<text x="351.4" y="667.1" font-size="10" text-anchor="middle" fill="#222" font-style="italic">SOX17</text>
<path d="M270.62 712.79h0M307.22 683.91h0M288.72 713.95h0M302.92 699.68h0M288.36 712.71h0M311.9 691.71h0M312.36 752.95h0M312.69 717.78h0M307.86 682.62h0M303.61 741.49h0M288.5 728.42h0M286.54 694.21h0M292.2 700.26h0M322.84 711.01h0M305.07 723.56h0M273.76 711.57h0M320.46 689.46h0M295.01 699.6h0M322.02 714.5h0M302.25 709.89h0M281.83 718.83h0M318.2 716.62h0M296.57 722.5h0M294.18 695.74h0M310.1 694.47h0M314.84 680.34h0M323.36 713.37h0M345.02 741.76h0M345.89 762.88h0M336.03 742.99h0M362.6 747.19h0M354.59 775.68h0M339.85 760.95h0M323.59 742.62h0M328 740.5h0M330.3 691.1h0M424.63 730.23h0M432.9 730.47h0M432.29 725.54h0M427.43 703.51h0M421.7 700.34h0M420.06 710.17h0M425.83 700.4h0M429.68 716.24h0M413.3 705.1h0M419.3 705.1h0" stroke="#053061" stroke-width="5.2" stroke-linecap="round" fill="none"/>
<path d="M299 724.63h0M276.01 701.76h0M291.63 731.97h0M297.78 684.8h0M298.64 685.98h0M316.48 753.25h0M293.75 734.64h0M295.19 679.51h0M316.51 748.61h0M318.97 687.1h0M279.1 715.97h0M308.45 723.83h0M316.24 684.53h0M294.73 731.26h0M295.72 707.99h0M310.56 720.73h0M273.69 704.77h0M299.19 729.82h0M308.97 722.68h0M296.41 725.63h0M323.35 683.24h0M292.62 725.33h0M310.68 688.14h0M316.93 682.45h0M314.92 750.3h0M298.08 729.14h0M308.62 690.47h0M294.32 719.12h0M276.53 715.9h0M302.61 730.94h0M317.52 704.03h0M313.17 690.05h0M291.26 692.21h0M303.93 732.06h0M298.21 711.78h0M272.3 715.6h0M285.02 714.01h0M312.21 723.78h0M278.78 714.81h0M271.95 702.71h0M322.96 714.57h0M265.78 705.24h0M293.49 683.58h0M317.5 683.96h0M273.11 705.38h0M321.4 685.45h0M294.44 730.12h0M308.33 729.35h0M370.51 692.16h0M348.26 716.53h0M353.67 712.12h0M332.22 763.08h0M330.7 734.57h0M348.81 761.42h0M335.75 745.96h0M331.67 761.28h0M328.45 742.51h0M351.03 742.73h0M357.34 771.34h0M365.94 750.68h0M340.37 752.55h0M341.81 759.78h0M359.31 743.97h0M335.42 735.68h0M325.65 758.43h0M336.63 751.53h0M322.7 741.22h0M363.81 766.59h0M343.92 763.31h0M361.95 751.62h0M329 762.6h0M338.94 769.57h0M334.67 733.27h0M324.3 734h0M339.1 730.3h0M335.4 773.9h0M355.8 726.6h0M322.4 750.7h0M317.3 738.1h0M324.3 685.1h0M328.3 688.1h0M434.67 702.17h0M424.73 723.49h0M422.87 717.79h0M432.71 705.81h0M435.16 714.46h0M421.56 709.28h0M417.22 704.83h0M416.65 706.27h0M426.21 723.42h0M433.88 725.78h0M429.85 701.02h0M428.22 707.42h0M425.13 710.58h0M430.1 721.51h0M430.36 715.9h0M421.63 701.19h0M427.35 708.24h0M430.12 723.93h0M422.89 709.15h0M422.95 721.59h0M433.51 711.19h0M405.3 706.1h0M418.3 717.1h0M433.3 724.1h0M395.8 808.7h0M401.3 811.7h0M404.3 812.7h0M395.3 816.7h0M399.3 814.1h0M402.3 815.1h0" stroke="#0c3e74" stroke-width="5.2" stroke-linecap="round" fill="none"/>
<path d="M313.79 702.11h0M271.85 713.98h0M297.53 692.57h0M310.35 743.44h0M310.84 751.03h0M297.35 693.69h0M311.91 706.72h0M300.08 681.31h0M321.46 685.35h0M294.81 697.53h0M281.73 712.2h0M318.64 716.67h0M306.41 737.87h0M315.58 710.18h0M318.04 706.27h0M312.71 680.27h0M304 741.35h0M312.92 740.1h0M293.54 691.38h0M315.76 717.96h0M294.21 730.19h0M281.91 690.05h0M306.92 739.9h0M300.87 716.62h0M303.92 679.21h0M309.28 714.79h0M305.46 721.87h0M288.31 708.78h0M293.13 705.57h0M316.85 709.78h0M312.66 700.45h0M301.25 715.6h0M289.88 691.18h0M314.13 696.5h0M311.52 750.26h0M296.78 677.61h0M282.58 711.27h0M307.91 710.78h0M314.58 742.22h0M362.85 702.87h0M347.45 699.27h0M357.8 700.57h0M366.54 702.87h0M349.71 720.9h0M374.11 773.64h0M334.9 755.88h0M374.18 778.75h0M341.06 744.28h0M331.75 736.93h0M327.21 751.8h0M321.18 756.25h0M373.33 780.06h0M333.99 752.76h0M361.83 776.55h0M334.28 744.3h0M339 736.71h0M328.14 748.94h0M324.98 749.58h0M327.79 729.63h0M324.8 738.86h0M327.08 758.75h0M341.02 761.57h0M344.47 750.44h0M326.1 747h0M344.7 769.2h0M348.4 773.9h0M416.32 703.27h0M427.58 704.48h0M431.11 694.79h0M415.94 703.5h0M427.08 719.71h0M430.8 700.27h0M434.45 708.98h0M416.98 705.91h0M436.32 716.01h0M427.96 712.41h0M420.98 699.47h0M435.21 713.43h0M430.94 733.8h0M428.69 727.16h0M436.83 717.29h0" stroke="#134b86" stroke-width="5.2" stroke-linecap="round" fill="none"/>
<path d="M277.07 720.59h0M308.13 700.79h0M281.41 689.1h0M311.97 701.84h0M298.93 691.83h0M307.49 693.1h0M312.92 693.22h0M290.49 717.53h0M298.01 713.7h0M308.71 689.41h0M323.75 690.86h0M361.22 776.55h0M363.08 756.28h0M362 751.99h0M361.3 769.94h0M343.21 762.58h0M357.7 755.76h0M359.7 744.7h0M329.81 742.64h0M361.63 775.06h0M342.7 705.5h0M432.75 705.25h0M430.84 702.01h0M429.78 728.12h0M435.37 720.42h0M420.42 707.29h0" stroke="#1a5899" stroke-width="5.2" stroke-linecap="round" fill="none"/>
<path d="M348.18 702.94h0M349.66 700.29h0M353.28 701.15h0M353.01 752.39h0M347.47 745.03h0" stroke="#2166ac" stroke-width="5.2" stroke-linecap="round" fill="none"/>
<path d="M313.1 743.3h0" stroke="#327cb8" stroke-width="5.2" stroke-linecap="round" fill="none"/>
<path d="M366.16 721.78h0M359.2 723.44h0M339.39 764.02h0M365 742.7h0M417.21 698.68h0" stroke="#3a88bd" stroke-width="5.2" stroke-linecap="round" fill="none"/>
<path d="M359.38 723.36h0M358.34 712.03h0M353.93 714.38h0M331.56 735.79h0M324.06 759.75h0M431.96 734.62h0" stroke="#4393c3" stroke-width="5.2" stroke-linecap="round" fill="none"/>
<path d="M353.91 688.12h0M360.62 697.73h0M355.85 709.64h0M364.49 724.58h0M352.81 769.18h0M332.8 757.08h0M431.55 718.83h0M432.06 712.95h0" stroke="#57a0ca" stroke-width="5.2" stroke-linecap="round" fill="none"/>
<path d="M359.13 688.02h0M349.53 704.37h0M351.43 722.47h0M327.98 751.4h0M329.06 757.33h0M428.01 694.13h0M435.72 698.24h0" stroke="#6aacd0" stroke-width="5.2" stroke-linecap="round" fill="none"/>
<path d="M354.96 695.84h0M357.61 702.29h0M362.59 691.55h0M355.95 691.77h0M354.71 696.14h0M333.72 756.57h0M333.8 739.64h0M366.23 763.84h0M362.2 736.2h0M435.21 719.42h0M418.58 693.66h0M418.15 696.43h0" stroke="#7eb8d7" stroke-width="5.2" stroke-linecap="round" fill="none"/>
<path d="M361.15 685.54h0M354.81 717.17h0M358.88 772.84h0M416.31 696.79h0" stroke="#92c5de" stroke-width="5.2" stroke-linecap="round" fill="none"/>
<path d="M359.21 718.02h0M369.89 707.81h0M357.04 712.31h0M350.22 717.34h0M355.34 691.62h0M331.6 694.4h0M333.3 691.6h0M427.28 726.82h0" stroke="#a2cde2" stroke-width="5.2" stroke-linecap="round" fill="none"/>
<path d="M354.78 689.71h0M350.8 708.14h0M356.64 711.7h0M349.62 721.75h0M366.16 720.68h0M347.96 704.45h0M354.27 709.82h0M348.66 711.66h0M362.93 723.94h0M363.39 774.22h0M359.73 758.2h0" stroke="#b2d5e7" stroke-width="5.2" stroke-linecap="round" fill="none"/>
<path d="M371.18 718.78h0M364.01 690.04h0M366.01 703.63h0M365.58 686.01h0M347.06 692.94h0M349.56 708.8h0M353.56 742.08h0M337.1 751h0" stroke="#c1ddec" stroke-width="5.2" stroke-linecap="round" fill="none"/>
<path d="M368.73 705.14h0M361.21 693.34h0M346.22 697.88h0M365.25 718.77h0M344.84 760.37h0M342.82 744.12h0M351.27 760.48h0" stroke="#d1e5f0" stroke-width="5.2" stroke-linecap="round" fill="none"/>
<path d="M361.98 699.29h0M360.55 713.75h0M359.35 685.76h0M354.1 704.59h0M374.85 697.79h0M352.44 705.14h0M366.43 773.27h0" stroke="#daeaf2" stroke-width="5.2" stroke-linecap="round" fill="none"/>
<path d="M351.73 713.13h0M362.52 694.07h0M356.6 691.16h0M353.37 766.87h0M347.92 750.53h0M350.84 773.17h0" stroke="#e4eef4" stroke-width="5.2" stroke-linecap="round" fill="none"/>
<path d="M369.41 696.77h0M366.89 712.35h0M361.86 691.48h0M357.81 746.58h0" stroke="#eef2f5" stroke-width="5.2" stroke-linecap="round" fill="none"/>
<path d="M373.06 696.92h0M364.66 691.41h0M362.65 750.27h0M343.6 748.6h0" stroke="#f7f7f7" stroke-width="5.2" stroke-linecap="round" fill="none"/>
<path d="M374.57 712.37h0M347.56 694.93h0M366.34 719.97h0" stroke="#f8f0eb" stroke-width="5.2" stroke-linecap="round" fill="none"/>
<path d="M349.13 700.55h0M332.3 697.1h0" stroke="#fae9df" stroke-width="5.2" stroke-linecap="round" fill="none"/>
<path d="M358.7 708.7h0M362.46 755.98h0" stroke="#fbceb6" stroke-width="5.2" stroke-linecap="round" fill="none"/>
<path d="M363.42 724.11h0" stroke="#f8c0a4" stroke-width="5.2" stroke-linecap="round" fill="none"/>
<path d="M367.37 753.41h0" stroke="#f4a582" stroke-width="5.2" stroke-linecap="round" fill="none"/>
<path d="M373.9 704.69h0" stroke="#ec9475" stroke-width="5.2" stroke-linecap="round" fill="none"/>
<path d="M356.36 715.5h0M365.1 751.25h0M359.73 756.02h0" stroke="#de715a" stroke-width="5.2" stroke-linecap="round" fill="none"/>
<path d="M360.39 715.11h0" stroke="#d6604d" stroke-width="5.2" stroke-linecap="round" fill="none"/>
<path d="M375.08 707.93h0" stroke="#bb2a34" stroke-width="5.2" stroke-linecap="round" fill="none"/>
<path d="M356.22 746.17h0M352.45 755.74h0" stroke="#b2182b" stroke-width="5.2" stroke-linecap="round" fill="none"/>
<path d="M358.17 748.38h0" stroke="#8c0c25" stroke-width="5.2" stroke-linecap="round" fill="none"/>
<defs><linearGradient id="cb899" x1="0" y1="0" x2="0" y2="1"><stop offset="0" stop-color="#67001f"/><stop offset="0.05" stop-color="#8c0c25"/><stop offset="0.1" stop-color="#b2182b"/><stop offset="0.15" stop-color="#c43c3c"/><stop offset="0.2" stop-color="#d6604d"/><stop offset="0.25" stop-color="#e58268"/><stop offset="0.3" stop-color="#f4a582"/><stop offset="0.35" stop-color="#f8c0a4"/><stop offset="0.4" stop-color="#fddbc7"/><stop offset="0.45" stop-color="#fae9df"/><stop offset="0.5" stop-color="#f7f7f7"/><stop offset="0.55" stop-color="#e4eef4"/><stop offset="0.6" stop-color="#d1e5f0"/><stop offset="0.65" stop-color="#b2d5e7"/><stop offset="0.7" stop-color="#92c5de"/><stop offset="0.75" stop-color="#6aacd0"/><stop offset="0.8" stop-color="#4393c3"/><stop offset="0.85" stop-color="#327db8"/><stop offset="0.9" stop-color="#2166ac"/><stop offset="0.95" stop-color="#134b87"/><stop offset="1" stop-color="#053061"/></linearGradient></defs>
<rect x="446.7" y="671" width="5" height="150.3" fill="url(#cb899)" stroke="#444" stroke-width="0.5"/>
<text x="457.2" y="824.5" font-size="9" text-anchor="start" fill="#444">0</text>
<text x="457.2" y="807.68" font-size="9" text-anchor="start" fill="#444">0.2</text>
<text x="457.2" y="790.86" font-size="9" text-anchor="start" fill="#444">0.4</text>
<text x="457.2" y="774.04" font-size="9" text-anchor="start" fill="#444">0.6</text>
<text x="457.2" y="757.21" font-size="9" text-anchor="start" fill="#444">0.8</text>
<text x="457.2" y="740.39" font-size="9" text-anchor="start" fill="#444">1.0</text>
<text x="457.2" y="723.57" font-size="9" text-anchor="start" fill="#444">1.2</text>
<text x="457.2" y="706.75" font-size="9" text-anchor="start" fill="#444">1.4</text>
<text x="457.2" y="689.93" font-size="9" text-anchor="start" fill="#444">1.6</text>
<path d="M451.7 821.3h2M451.7 804.48h2M451.7 787.66h2M451.7 770.84h2M451.7 754.01h2M451.7 737.19h2M451.7 720.37h2M451.7 703.55h2M451.7 686.73h2" stroke="#555" stroke-width="0.6"/>
<text x="577.7" y="667.1" font-size="10" text-anchor="middle" fill="#222" font-style="italic">POU5F1</text>
<path d="M585.58 696.19h0M654.44 698.91h0M628.9 703h0" stroke="#053061" stroke-width="5.2" stroke-linecap="round" fill="none"/>
<path d="M596.66 693.82h0M639.92 700.17h0M644.58 696.37h0M648.73 707.48h0M650.95 705.14h0M651.03 700.41h0" stroke="#0c3e74" stroke-width="5.2" stroke-linecap="round" fill="none"/>
<path d="M581.21 699.19h0M598.17 709.27h0M598.68 704.83h0M651.18 701.38h0M640.58 702.81h0M653.45 697.92h0M651.82 704.32h0M659.32 695.14h0" stroke="#134b86" stroke-width="5.2" stroke-linecap="round" fill="none"/>
<path d="M586.45 699.77h0M592.33 702.04h0M590.49 709.25h0M656.35 702.15h0M640.82 701.73h0M640.25 703.17h0M642.9 702h0" stroke="#1a5899" stroke-width="5.2" stroke-linecap="round" fill="none"/>
<path d="M589.61 700.53h0M581.94 708.93h0M582.3 705.6h0M590.14 699.77h0M651.61 691.03h0M658.27 699.07h0M639.54 700.4h0M658.05 705.88h0M644.02 704.19h0M651.56 709.31h0M658.81 710.33h0M645.23 698.09h0M646.49 706.05h0M655.66 709.85h0M643.66 707.07h0M649.43 697.3h0M657.11 708.09h0M636.9 702h0" stroke="#2166ac" stroke-width="5.2" stroke-linecap="round" fill="none"/>
<path d="M593.01 693.67h0M584.15 710.65h0M586.19 688.45h0M569.82 694.78h0M597.5 701.59h0M578.31 693.04h0M639.91 693.69h0M656.31 702.71h0M654.4 697.17h0M640.81 695.58h0M641.75 693.33h0M645.3 697.24h0" stroke="#2a71b2" stroke-width="5.2" stroke-linecap="round" fill="none"/>
<path d="M536.77 686.95h0M585.46 688.38h0M584.81 690.24h0M581.4 697.47h0M579.45 706.54h0M654.71 691.69h0M645.16 706.18h0M642.18 690.56h0" stroke="#327cb8" stroke-width="5.2" stroke-linecap="round" fill="none"/>
<path d="M522.24 682.88h0M523.68 678.21h0M578.56 692.74h0M593.49 704.71h0M573.82 714.24h0M582.95 682.66h0M584.22 694.63h0M579.55 688.67h0M589.18 682.91h0M571.78 699.84h0M552.66 754.23h0M589.83 760.74h0M555.2 691.3h0M556.9 688.5h0" stroke="#3a88bd" stroke-width="5.2" stroke-linecap="round" fill="none"/>
<path d="M546.95 680.14h0M534.28 685.04h0M527.52 676.11h0M547.35 687.76h0M578.38 686.61h0M580.24 708.6h0M598.45 694.69h0M584.75 682.44h0M589.76 717.58h0M570.66 689.84h0M555.35 733.83h0M589.54 747.58h0M569.49 759.78h0M586.2 744.09h0M576.97 763.77h0M590.97 750.31h0M567.52 760.21h0M572 770.8h0M553.9 688h0" stroke="#4393c3" stroke-width="5.2" stroke-linecap="round" fill="none"/>
<path d="M521.38 681.7h0M538.44 677.24h0M541.1 680.86h0M580.64 709.21h0M582.73 684.92h0M589.76 718.68h0M573.31 717.8h0M584.82 773.45h0M597.71 770.54h0M558.5 752.78h0M564.66 741.18h0M550.81 748.7h0M585.23 771.96h0M581.77 745.28h0M563.45 757.85h0M556.4 753.98h0M547.19 739.52h0M550.68 755.65h0M547.9 730.9h0M562.7 727.2h0M551.9 685h0M655.56 731.52h0M655.15 715.73h0M622.9 811h0M625.9 812h0" stroke="#57a0ca" stroke-width="5.2" stroke-linecap="round" fill="none"/>
<path d="M594.11 689.06h0M574.4 705.04h0M577.7 701.49h0M575.33 710.03h0M589.94 716.87h0M573.16 705.7h0M588.09 721.48h0M585.6 748.89h0M559.35 742.86h0M568.62 738.66h0M577.16 738.98h0M580.94 768.24h0M547.66 756.65h0M585.43 773.45h0M557.32 753.47h0M551.39 726.53h0M585.55 748.52h0M560.7 747.9h0M566.3 702.4h0M658.97 717.32h0M652.29 724.06h0" stroke="#6aacd0" stroke-width="5.2" stroke-linecap="round" fill="none"/>
<path d="M542.57 684h0M544.06 686.36h0M571.16 691.83h0M586.12 690.97h0M573.22 718.65h0M577.27 709.02h0M573.26 697.19h0M575.03 719.37h0M572.26 708.56h0M566.81 759.48h0M552.05 739.41h0M574.63 739.63h0M583.33 755.1h0M578.19 772.58h0M548.58 746.48h0M587.41 763.49h0M571.07 741.93h0M581.41 743.48h0M579.4 723.5h0M540.9 735h0M547.9 682h0M555.9 694h0M646.47 714.69h0M624.9 808.6h0M618.9 813.6h0" stroke="#7eb8d7" stroke-width="5.2" stroke-linecap="round" fill="none"/>
<path d="M535.5 688.61h0M536.31 677.17h0M540.53 679.35h0M545 682.35h0M594.78 715.68h0M583.99 712.01h0M587.61 686.94h0M571.05 696.17h0M588.26 688.31h0M573.13 701.27h0M578.41 714.07h0M580.2 688.06h0M576.41 766.08h0M553.41 739.54h0M596.93 776.96h0M571.52 747.43h0M551.74 745.84h0M549.7 743.9h0M655.89 722.44h0M659.92 712.91h0M649.81 720.32h0M657.48 722.68h0M653.96 712.8h0M619.4 805.6h0" stroke="#92c5de" stroke-width="5.2" stroke-linecap="round" fill="none"/>
<path d="M517.09 680.48h0M578.94 688.52h0M576.04 702.04h0M588.85 715.67h0M579.96 712.4h0M577.87 706.72h0M576.88 698.05h0M587.02 721.01h0M582.8 720.34h0M586.68 753.18h0M586.25 747.17h0M581.3 752.66h0M563.97 749.45h0M586.06 752.88h0M579.82 743.07h0M562.6 733.61h0M574.87 757.38h0M653.38 725.02h0M646.55 718.49h0" stroke="#a2cde2" stroke-width="5.2" stroke-linecap="round" fill="none"/>
<path d="M530.82 680.81h0M539.84 681.43h0M517.14 688.28h0M522.53 688.73h0M577.51 685.02h0M572.73 697.45h0M571.56 701.35h0M586.53 720.84h0M555.16 732.69h0M544.78 753.15h0M557.88 741.2h0M559.02 732.58h0M549.25 755.33h0M574.44 770.07h0M558.27 730.17h0M568.07 747.34h0M546 747.6h0M588.6 739.6h0M648.33 720.39h0M627.9 809.6h0" stroke="#b2d5e7" stroke-width="5.2" stroke-linecap="round" fill="none"/>
<path d="M518.79 676.41h0M520.38 674.51h0M582.81 714.92h0M582.98 720.26h0M577.53 711.28h0M597.78 775.65h0M583.3 741.6h0M586.99 771.12h0M560.23 748.43h0M566.42 741.02h0M548.4 735.76h0M551.6 737.4h0M585.8 733.1h0M648.23 727.13h0M650.88 723.72h0M650.68 716.61h0M654.54 730.7h0M653.7 718.41h0" stroke="#c1ddec" stroke-width="5.2" stroke-linecap="round" fill="none"/>
<path d="M500.67 717.49h0M539.18 707.08h0M532.22 687.37h0M528.67 720.46h0M496.71 702.28h0M535.12 747.16h0M571.86 713.43h0M653.72 720.83h0M660.43 714.19h0M653.28 713.14h0" stroke="#d1e5f0" stroke-width="5.2" stroke-linecap="round" fill="none"/>
<path d="M545.06 682.25h0M535.96 749.85h0M531.46 679.52h0M532.31 686.31h0M536.26 697.35h0M658.76 711.36h0M656.5 727.37h0M658.81 716.32h0M641.9 714h0M656.9 721h0" stroke="#daeaf2" stroke-width="5.2" stroke-linecap="round" fill="none"/>
<path d="M510.14 691.11h0M517.81 727.09h0M532.88 711.69h0M554.3 731.47h0M546.3 738.12h0" stroke="#e4eef4" stroke-width="5.2" stroke-linecap="round" fill="none"/>
<path d="M497.29 701.67h0M521.61 710.6h0M511.91 705.68h0M551.58 748.3h0M582.48 769.74h0M565.41 756.68h0M583.33 752.92h0" stroke="#eef2f5" stroke-width="5.2" stroke-linecap="round" fill="none"/>
<path d="M535.57 698.74h0M527.53 728.96h0M533.7 691.37h0M537.73 693.4h0M582.91 740.87h0" stroke="#f7f7f7" stroke-width="5.2" stroke-linecap="round" fill="none"/>
<path d="M519.32 704.89h0M515.8 697.16h0M521.81 708.68h0M572.41 758.32h0M567.2 745.5h0" stroke="#f8f0eb" stroke-width="5.2" stroke-linecap="round" fill="none"/>
<path d="M540.11 745.51h0M536.52 690.12h0M588.7 748.15h0M568.44 757.27h0M555.27 758.18h0M559.63 739.89h0M576.61 749.29h0M576.05 752.64h0M564.62 758.47h0M536.7 740.2h0" stroke="#fae9df" stroke-width="5.2" stroke-linecap="round" fill="none"/>
<path d="M537.39 699.01h0M495.45 710.88h0M526.52 696.58h0M522.79 726.72h0M520.01 722.53h0M526.21 727.84h0M497.36 708.47h0M545.62 711.4h0M516.73 702.47h0M508.62 710.91h0M555.82 759.98h0M584.9 766.84h0M557.59 749.66h0M562.99 760.92h0M557.4 736.54h0" stroke="#fce2d3" stroke-width="5.2" stroke-linecap="round" fill="none"/>
<path d="M521.13 689.47h0M515.23 728.87h0M512.32 710.85h0M502.7 712.87h0M505.33 709.1h0M532.57 719.58h0M520.17 719.4h0M535.81 720.68h0M502.38 711.71h0M489.38 702.14h0M506.18 708.17h0M518.04 727.02h0M590.03 770.17h0M559 770.8h0M568.3 766.1h0" stroke="#fddbc7" stroke-width="5.2" stroke-linecap="round" fill="none"/>
<path d="M532.05 720.73h0M530.01 734.77h0M516.22 722.23h0M512.1 725.32h0M546.44 707.91h0M529.06 718.77h0M552.6 759.5h0" stroke="#fbceb6" stroke-width="5.2" stroke-linecap="round" fill="none"/>
<path d="M499.61 698.66h0M520.95 690.59h0M541.64 703.17h0M531.73 697.69h0M527.21 738.39h0M531.09 690h0M530.52 736.8h0M518.61 696.5h0M541.8 713.52h0M495.55 699.61h0M546.96 710.27h0" stroke="#f8c0a4" stroke-width="5.2" stroke-linecap="round" fill="none"/>
<path d="M522.6 721.53h0M540.08 750.15h0M542.24 713.57h0M518.33 728.16h0M536.29 714.68h0M517.78 692.64h0M524.85 712.5h0M546.56 711.47h0" stroke="#f6b293" stroke-width="5.2" stroke-linecap="round" fill="none"/>
<path d="M533.95 740.34h0M494.22 709.69h0M534.44 747.93h0M535.51 703.62h0M536.52 737h0M538.52 747.2h0M500.13 712.8h0M539.36 714.86h0M505.51 686.95h0M541.12 700.93h0M524.47 713.52h0M514.86 689.11h0M505.43 715.73h0M540.45 706.68h0M531.93 726.25h0M531.51 707.68h0" stroke="#f4a582" stroke-width="5.2" stroke-linecap="round" fill="none"/>
<path d="M517.35 731.54h0M518.41 694.43h0M534.16 717.63h0M527.6 738.25h0M521.68 726.04h0M517.92 716.02h0M514.09 714.43h0M495.9 712.5h0M513.48 688.08h0M538.18 739.12h0M562.54 766.47h0" stroke="#ec9475" stroke-width="5.2" stroke-linecap="round" fill="none"/>
<path d="M511.96 709.61h0M505.01 686h0M525.85 706.79h0" stroke="#e58268" stroke-width="5.2" stroke-linecap="round" fill="none"/>
<defs><linearGradient id="cb943" x1="0" y1="0" x2="0" y2="1"><stop offset="0" stop-color="#67001f"/><stop offset="0.05" stop-color="#8c0c25"/><stop offset="0.1" stop-color="#b2182b"/><stop offset="0.15" stop-color="#c43c3c"/><stop offset="0.2" stop-color="#d6604d"/><stop offset="0.25" stop-color="#e58268"/><stop offset="0.3" stop-color="#f4a582"/><stop offset="0.35" stop-color="#f8c0a4"/><stop offset="0.4" stop-color="#fddbc7"/><stop offset="0.45" stop-color="#fae9df"/><stop offset="0.5" stop-color="#f7f7f7"/><stop offset="0.55" stop-color="#e4eef4"/><stop offset="0.6" stop-color="#d1e5f0"/><stop offset="0.65" stop-color="#b2d5e7"/><stop offset="0.7" stop-color="#92c5de"/><stop offset="0.75" stop-color="#6aacd0"/><stop offset="0.8" stop-color="#4393c3"/><stop offset="0.85" stop-color="#327db8"/><stop offset="0.9" stop-color="#2166ac"/><stop offset="0.95" stop-color="#134b87"/><stop offset="1" stop-color="#053061"/></linearGradient></defs>
<rect x="676.7" y="667.8" width="5" height="153.9" fill="url(#cb943)" stroke="#444" stroke-width="0.5"/>
<text x="687.2" y="824.9" font-size="9" text-anchor="start" fill="#444">0</text>
<text x="687.2" y="791.3" font-size="9" text-anchor="start" fill="#444">1</text>
<text x="687.2" y="757.69" font-size="9" text-anchor="start" fill="#444">2</text>
<text x="687.2" y="724.09" font-size="9" text-anchor="start" fill="#444">3</text>
<text x="687.2" y="690.49" font-size="9" text-anchor="start" fill="#444">4</text>
<path d="M681.7 821.7h2M681.7 788.1h2M681.7 754.49h2M681.7 720.89h2M681.7 687.29h2" stroke="#555" stroke-width="0.6"/>
<path d="M26.3 811.4V785.3M26.3 811.4H54.5" stroke="#4f6580" stroke-width="0.9" fill="none"/>
<path d="M24.6 786.3L26.3 782.6L28 786.3ZM53.5 809.7L57.2 811.4L53.5 813.1Z" fill="#4f6580" stroke="#4f6580" stroke-width="0.5"/>
<text x="20" y="797" font-size="8.4" text-anchor="middle" fill="#333" transform="rotate(-90 20 797)">UMAP 2</text>
<text x="26.3" y="823.1" font-size="8.4" text-anchor="start" fill="#333">UMAP 1</text>
</svg></body></html>
